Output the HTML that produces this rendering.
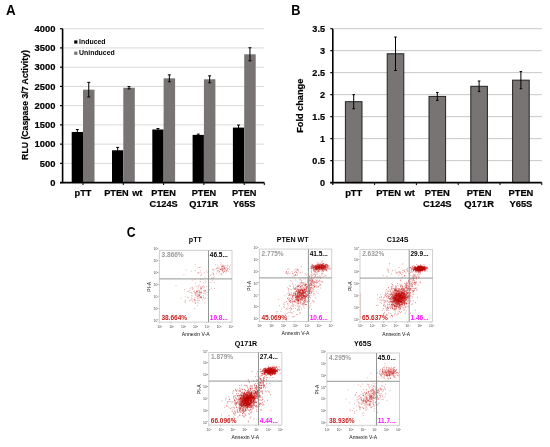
<!DOCTYPE html>
<html><head><meta charset="utf-8"><style>
html,body{margin:0;padding:0;background:#fff;}
svg{display:block;will-change:transform;filter:blur(0.3px);font-family:"Liberation Sans",sans-serif;}
</style></head><body>
<svg width="550" height="447" viewBox="0 0 550 447" font-family="Liberation Sans, sans-serif">
<rect width="550" height="447" fill="#fff"/>
<text transform="translate(6.0,14.6) scale(1,1.04)" font-size="13.4" font-weight="bold">A</text>
<line x1="63.5" y1="163.36249999999998" x2="264.3" y2="163.36249999999998" stroke="#d9d9d9" stroke-width="1"/>
<line x1="63.5" y1="144.125" x2="264.3" y2="144.125" stroke="#d9d9d9" stroke-width="1"/>
<line x1="63.5" y1="124.88749999999999" x2="264.3" y2="124.88749999999999" stroke="#d9d9d9" stroke-width="1"/>
<line x1="63.5" y1="105.64999999999999" x2="264.3" y2="105.64999999999999" stroke="#d9d9d9" stroke-width="1"/>
<line x1="63.5" y1="86.4125" x2="264.3" y2="86.4125" stroke="#d9d9d9" stroke-width="1"/>
<line x1="63.5" y1="67.17499999999998" x2="264.3" y2="67.17499999999998" stroke="#d9d9d9" stroke-width="1"/>
<line x1="63.5" y1="47.9375" x2="264.3" y2="47.9375" stroke="#d9d9d9" stroke-width="1"/>
<line x1="63.5" y1="28.69999999999999" x2="264.3" y2="28.69999999999999" stroke="#d9d9d9" stroke-width="1"/>
<line x1="60" y1="182.6" x2="62.6" y2="182.6" stroke="#000" stroke-width="1.2"/>
<text transform="translate(55.40,185.80) scale(1,1.05)" font-size="9.4" font-weight="bold" text-anchor="end" fill="#000" stroke="#000" stroke-width="0.2" >0</text>
<line x1="60" y1="163.36249999999998" x2="62.6" y2="163.36249999999998" stroke="#000" stroke-width="1.2"/>
<text transform="translate(55.40,166.56) scale(1,1.05)" font-size="9.4" font-weight="bold" text-anchor="end" fill="#000" stroke="#000" stroke-width="0.2" >500</text>
<line x1="60" y1="144.125" x2="62.6" y2="144.125" stroke="#000" stroke-width="1.2"/>
<text transform="translate(55.40,147.32) scale(1,1.05)" font-size="9.4" font-weight="bold" text-anchor="end" fill="#000" stroke="#000" stroke-width="0.2" >1000</text>
<line x1="60" y1="124.88749999999999" x2="62.6" y2="124.88749999999999" stroke="#000" stroke-width="1.2"/>
<text transform="translate(55.40,128.09) scale(1,1.05)" font-size="9.4" font-weight="bold" text-anchor="end" fill="#000" stroke="#000" stroke-width="0.2" >1500</text>
<line x1="60" y1="105.64999999999999" x2="62.6" y2="105.64999999999999" stroke="#000" stroke-width="1.2"/>
<text transform="translate(55.40,108.85) scale(1,1.05)" font-size="9.4" font-weight="bold" text-anchor="end" fill="#000" stroke="#000" stroke-width="0.2" >2000</text>
<line x1="60" y1="86.4125" x2="62.6" y2="86.4125" stroke="#000" stroke-width="1.2"/>
<text transform="translate(55.40,89.61) scale(1,1.05)" font-size="9.4" font-weight="bold" text-anchor="end" fill="#000" stroke="#000" stroke-width="0.2" >2500</text>
<line x1="60" y1="67.17499999999998" x2="62.6" y2="67.17499999999998" stroke="#000" stroke-width="1.2"/>
<text transform="translate(55.40,70.37) scale(1,1.05)" font-size="9.4" font-weight="bold" text-anchor="end" fill="#000" stroke="#000" stroke-width="0.2" >3000</text>
<line x1="60" y1="47.9375" x2="62.6" y2="47.9375" stroke="#000" stroke-width="1.2"/>
<text transform="translate(55.40,51.14) scale(1,1.05)" font-size="9.4" font-weight="bold" text-anchor="end" fill="#000" stroke="#000" stroke-width="0.2" >3500</text>
<line x1="60" y1="28.69999999999999" x2="62.6" y2="28.69999999999999" stroke="#000" stroke-width="1.2"/>
<text transform="translate(55.40,31.90) scale(1,1.05)" font-size="9.4" font-weight="bold" text-anchor="end" fill="#000" stroke="#000" stroke-width="0.2" >4000</text>
<rect x="71.70" y="132.01" width="11.30" height="50.59" fill="#000"/>
<rect x="83.00" y="89.68" width="11.50" height="92.92" fill="#787473"/>
<line x1="77.35" y1="129.5045" x2="77.35" y2="134.50625" stroke="#000" stroke-width="1"/>
<line x1="75.85" y1="129.5045" x2="78.85" y2="129.5045" stroke="#000" stroke-width="1"/>
<line x1="75.85" y1="134.50625" x2="78.85" y2="134.50625" stroke="#000" stroke-width="1"/>
<line x1="88.75" y1="82.37262499999999" x2="88.75" y2="96.99312499999999" stroke="#000" stroke-width="1"/>
<line x1="87.25" y1="82.37262499999999" x2="90.25" y2="82.37262499999999" stroke="#000" stroke-width="1"/>
<line x1="87.25" y1="96.99312499999999" x2="90.25" y2="96.99312499999999" stroke="#000" stroke-width="1"/>
<line x1="83.0" y1="182.6" x2="83.0" y2="185.1" stroke="#000" stroke-width="1"/>
<rect x="112.00" y="150.28" width="11.30" height="32.32" fill="#000"/>
<rect x="123.30" y="87.76" width="11.50" height="94.84" fill="#787473"/>
<line x1="117.64999999999999" y1="147.395375" x2="117.64999999999999" y2="153.16662499999998" stroke="#000" stroke-width="1"/>
<line x1="116.14999999999999" y1="147.395375" x2="119.14999999999999" y2="147.395375" stroke="#000" stroke-width="1"/>
<line x1="116.14999999999999" y1="153.16662499999998" x2="119.14999999999999" y2="153.16662499999998" stroke="#000" stroke-width="1"/>
<line x1="129.05" y1="86.60487499999999" x2="129.05" y2="88.91337499999999" stroke="#000" stroke-width="1"/>
<line x1="127.55000000000001" y1="86.60487499999999" x2="130.55" y2="86.60487499999999" stroke="#000" stroke-width="1"/>
<line x1="127.55000000000001" y1="88.91337499999999" x2="130.55" y2="88.91337499999999" stroke="#000" stroke-width="1"/>
<line x1="123.3" y1="182.6" x2="123.3" y2="185.1" stroke="#000" stroke-width="1"/>
<rect x="152.30" y="129.50" width="11.30" height="53.10" fill="#000"/>
<rect x="163.60" y="78.33" width="11.50" height="104.27" fill="#787473"/>
<line x1="157.95" y1="128.542625" x2="157.95" y2="130.466375" stroke="#000" stroke-width="1"/>
<line x1="156.45" y1="128.542625" x2="159.45" y2="128.542625" stroke="#000" stroke-width="1"/>
<line x1="156.45" y1="130.466375" x2="159.45" y2="130.466375" stroke="#000" stroke-width="1"/>
<line x1="169.35" y1="74.86999999999999" x2="169.35" y2="81.79549999999999" stroke="#000" stroke-width="1"/>
<line x1="167.85" y1="74.86999999999999" x2="170.85" y2="74.86999999999999" stroke="#000" stroke-width="1"/>
<line x1="167.85" y1="81.79549999999999" x2="170.85" y2="81.79549999999999" stroke="#000" stroke-width="1"/>
<line x1="163.6" y1="182.6" x2="163.6" y2="185.1" stroke="#000" stroke-width="1"/>
<rect x="192.60" y="134.89" width="11.30" height="47.71" fill="#000"/>
<rect x="203.90" y="79.29" width="11.50" height="103.31" fill="#787473"/>
<line x1="198.24999999999997" y1="134.1215" x2="198.24999999999997" y2="135.66049999999998" stroke="#000" stroke-width="1"/>
<line x1="196.74999999999997" y1="134.1215" x2="199.74999999999997" y2="134.1215" stroke="#000" stroke-width="1"/>
<line x1="196.74999999999997" y1="135.66049999999998" x2="199.74999999999997" y2="135.66049999999998" stroke="#000" stroke-width="1"/>
<line x1="209.64999999999998" y1="75.831875" x2="209.64999999999998" y2="82.75737499999998" stroke="#000" stroke-width="1"/>
<line x1="208.14999999999998" y1="75.831875" x2="211.14999999999998" y2="75.831875" stroke="#000" stroke-width="1"/>
<line x1="208.14999999999998" y1="82.75737499999998" x2="211.14999999999998" y2="82.75737499999998" stroke="#000" stroke-width="1"/>
<line x1="203.89999999999998" y1="182.6" x2="203.89999999999998" y2="185.1" stroke="#000" stroke-width="1"/>
<rect x="232.90" y="127.58" width="11.30" height="55.02" fill="#000"/>
<rect x="244.20" y="54.29" width="11.50" height="128.31" fill="#787473"/>
<line x1="238.54999999999998" y1="125.07987499999999" x2="238.54999999999998" y2="130.081625" stroke="#000" stroke-width="1"/>
<line x1="237.04999999999998" y1="125.07987499999999" x2="240.04999999999998" y2="125.07987499999999" stroke="#000" stroke-width="1"/>
<line x1="237.04999999999998" y1="130.081625" x2="240.04999999999998" y2="130.081625" stroke="#000" stroke-width="1"/>
<line x1="249.95" y1="47.745125" x2="249.95" y2="60.82662499999999" stroke="#000" stroke-width="1"/>
<line x1="248.45" y1="47.745125" x2="251.45" y2="47.745125" stroke="#000" stroke-width="1"/>
<line x1="248.45" y1="60.82662499999999" x2="251.45" y2="60.82662499999999" stroke="#000" stroke-width="1"/>
<line x1="244.2" y1="182.6" x2="244.2" y2="185.1" stroke="#000" stroke-width="1"/>
<line x1="60" y1="182.6" x2="264.3" y2="182.6" stroke="#000" stroke-width="1.6"/>
<line x1="264.3" y1="182.6" x2="264.3" y2="185.1" stroke="#000" stroke-width="1"/>
<line x1="62.6" y1="28.7" x2="62.6" y2="182.6" stroke="#000" stroke-width="1.6"/>
<text x="83.00" y="196.10" font-size="9.2" font-weight="bold" text-anchor="middle" fill="#000" stroke="#000" stroke-width="0.2" word-spacing="1">pTT</text>
<text x="123.30" y="196.10" font-size="9.2" font-weight="bold" text-anchor="middle" fill="#000" stroke="#000" stroke-width="0.2" word-spacing="1">PTEN wt</text>
<text x="163.60" y="196.10" font-size="9.2" font-weight="bold" text-anchor="middle" fill="#000" stroke="#000" stroke-width="0.2" word-spacing="1">PTEN</text>
<text x="163.60" y="206.90" font-size="9.2" font-weight="bold" text-anchor="middle" fill="#000" stroke="#000" stroke-width="0.2" >C124S</text>
<text x="203.90" y="196.10" font-size="9.2" font-weight="bold" text-anchor="middle" fill="#000" stroke="#000" stroke-width="0.2" word-spacing="1">PTEN</text>
<text x="203.90" y="206.90" font-size="9.2" font-weight="bold" text-anchor="middle" fill="#000" stroke="#000" stroke-width="0.2" >Q171R</text>
<text x="244.20" y="196.10" font-size="9.2" font-weight="bold" text-anchor="middle" fill="#000" stroke="#000" stroke-width="0.2" word-spacing="1">PTEN</text>
<text x="244.20" y="206.90" font-size="9.2" font-weight="bold" text-anchor="middle" fill="#000" stroke="#000" stroke-width="0.2" >Y65S</text>
<rect x="74.20" y="40.40" width="3.20" height="3.20" fill="#000"/>
<text x="79.10" y="43.80" font-size="6.9" font-weight="bold" text-anchor="start" fill="#000" >Induced</text>
<rect x="74.20" y="51.60" width="3.20" height="3.20" fill="#787473"/>
<text x="79.10" y="55.10" font-size="6.9" font-weight="bold" text-anchor="start" fill="#000" >Uninduced</text>
<text transform="translate(28.0,105) rotate(-90)" font-size="8.7" font-weight="bold" stroke="#000" stroke-width="0.2" text-anchor="middle">RLU (Caspase 3/7 Activity)</text>
<text transform="translate(291.3,14.7) scale(0.98,1.07)" font-size="13.0" font-weight="bold">B</text>
<line x1="333.8" y1="160.6142857142857" x2="541.8" y2="160.6142857142857" stroke="#c8c8c8" stroke-width="1"/>
<line x1="333.8" y1="138.62857142857143" x2="541.8" y2="138.62857142857143" stroke="#c8c8c8" stroke-width="1"/>
<line x1="333.8" y1="116.64285714285714" x2="541.8" y2="116.64285714285714" stroke="#c8c8c8" stroke-width="1"/>
<line x1="333.8" y1="94.65714285714284" x2="541.8" y2="94.65714285714284" stroke="#c8c8c8" stroke-width="1"/>
<line x1="333.8" y1="72.67142857142855" x2="541.8" y2="72.67142857142855" stroke="#c8c8c8" stroke-width="1"/>
<line x1="333.8" y1="50.68571428571428" x2="541.8" y2="50.68571428571428" stroke="#c8c8c8" stroke-width="1"/>
<line x1="333.8" y1="28.69999999999999" x2="541.8" y2="28.69999999999999" stroke="#c8c8c8" stroke-width="1"/>
<line x1="330.3" y1="182.6" x2="332.8" y2="182.6" stroke="#000" stroke-width="1.2"/>
<text transform="translate(325.00,185.80) scale(1,1.07)" font-size="9.1" font-weight="bold" text-anchor="end" fill="#000" stroke="#000" stroke-width="0.2" >0</text>
<line x1="330.3" y1="160.6142857142857" x2="332.8" y2="160.6142857142857" stroke="#000" stroke-width="1.2"/>
<text transform="translate(325.00,163.81) scale(1,1.07)" font-size="9.1" font-weight="bold" text-anchor="end" fill="#000" stroke="#000" stroke-width="0.2" >0.5</text>
<line x1="330.3" y1="138.62857142857143" x2="332.8" y2="138.62857142857143" stroke="#000" stroke-width="1.2"/>
<text transform="translate(325.00,141.83) scale(1,1.07)" font-size="9.1" font-weight="bold" text-anchor="end" fill="#000" stroke="#000" stroke-width="0.2" >1</text>
<line x1="330.3" y1="116.64285714285714" x2="332.8" y2="116.64285714285714" stroke="#000" stroke-width="1.2"/>
<text transform="translate(325.00,119.84) scale(1,1.07)" font-size="9.1" font-weight="bold" text-anchor="end" fill="#000" stroke="#000" stroke-width="0.2" >1.5</text>
<line x1="330.3" y1="94.65714285714284" x2="332.8" y2="94.65714285714284" stroke="#000" stroke-width="1.2"/>
<text transform="translate(325.00,97.86) scale(1,1.07)" font-size="9.1" font-weight="bold" text-anchor="end" fill="#000" stroke="#000" stroke-width="0.2" >2</text>
<line x1="330.3" y1="72.67142857142855" x2="332.8" y2="72.67142857142855" stroke="#000" stroke-width="1.2"/>
<text transform="translate(325.00,75.87) scale(1,1.07)" font-size="9.1" font-weight="bold" text-anchor="end" fill="#000" stroke="#000" stroke-width="0.2" >2.5</text>
<line x1="330.3" y1="50.68571428571428" x2="332.8" y2="50.68571428571428" stroke="#000" stroke-width="1.2"/>
<text transform="translate(325.00,53.89) scale(1,1.07)" font-size="9.1" font-weight="bold" text-anchor="end" fill="#000" stroke="#000" stroke-width="0.2" >3</text>
<line x1="330.3" y1="28.69999999999999" x2="332.8" y2="28.69999999999999" stroke="#000" stroke-width="1.2"/>
<text transform="translate(325.00,31.90) scale(1,1.07)" font-size="9.1" font-weight="bold" text-anchor="end" fill="#000" stroke="#000" stroke-width="0.2" >3.5</text>
<rect x="345.40" y="101.69" width="16.60" height="80.91" fill="#787473" stroke="#222" stroke-width="1"/>
<line x1="353.7" y1="94.65714285714284" x2="353.7" y2="108.72799999999998" stroke="#000" stroke-width="1"/>
<line x1="352.4" y1="94.65714285714284" x2="355.0" y2="94.65714285714284" stroke="#000" stroke-width="1"/>
<line x1="352.4" y1="108.72799999999998" x2="355.0" y2="108.72799999999998" stroke="#000" stroke-width="1"/>
<line x1="374.6" y1="182.6" x2="374.6" y2="185.1" stroke="#000" stroke-width="1"/>
<text x="353.70" y="196.20" font-size="9.35" font-weight="bold" text-anchor="middle" fill="#000" stroke="#000" stroke-width="0.2" word-spacing="0.8">pTT</text>
<rect x="387.20" y="53.76" width="16.60" height="128.84" fill="#787473" stroke="#222" stroke-width="1"/>
<line x1="395.5" y1="37.05457142857142" x2="395.5" y2="70.47285714285712" stroke="#000" stroke-width="1"/>
<line x1="394.2" y1="37.05457142857142" x2="396.8" y2="37.05457142857142" stroke="#000" stroke-width="1"/>
<line x1="394.2" y1="70.47285714285712" x2="396.8" y2="70.47285714285712" stroke="#000" stroke-width="1"/>
<line x1="416.4" y1="182.6" x2="416.4" y2="185.1" stroke="#000" stroke-width="1"/>
<text x="395.50" y="196.20" font-size="9.35" font-weight="bold" text-anchor="middle" fill="#000" stroke="#000" stroke-width="0.2" word-spacing="0.8">PTEN wt</text>
<rect x="429.00" y="96.42" width="16.60" height="86.18" fill="#787473" stroke="#222" stroke-width="1"/>
<line x1="437.29999999999995" y1="92.45857142857142" x2="437.29999999999995" y2="100.37342857142856" stroke="#000" stroke-width="1"/>
<line x1="435.99999999999994" y1="92.45857142857142" x2="438.59999999999997" y2="92.45857142857142" stroke="#000" stroke-width="1"/>
<line x1="435.99999999999994" y1="100.37342857142856" x2="438.59999999999997" y2="100.37342857142856" stroke="#000" stroke-width="1"/>
<line x1="458.2" y1="182.6" x2="458.2" y2="185.1" stroke="#000" stroke-width="1"/>
<text x="437.30" y="196.20" font-size="9.35" font-weight="bold" text-anchor="middle" fill="#000" stroke="#000" stroke-width="0.2" word-spacing="0.8">PTEN</text>
<text x="437.30" y="206.90" font-size="9.35" font-weight="bold" text-anchor="middle" fill="#000" stroke="#000" stroke-width="0.2" >C124S</text>
<rect x="470.80" y="86.30" width="16.60" height="96.30" fill="#787473" stroke="#222" stroke-width="1"/>
<line x1="479.09999999999997" y1="81.02599999999998" x2="479.09999999999997" y2="91.57914285714286" stroke="#000" stroke-width="1"/>
<line x1="477.79999999999995" y1="81.02599999999998" x2="480.4" y2="81.02599999999998" stroke="#000" stroke-width="1"/>
<line x1="477.79999999999995" y1="91.57914285714286" x2="480.4" y2="91.57914285714286" stroke="#000" stroke-width="1"/>
<line x1="500.0" y1="182.6" x2="500.0" y2="185.1" stroke="#000" stroke-width="1"/>
<text x="479.10" y="196.20" font-size="9.35" font-weight="bold" text-anchor="middle" fill="#000" stroke="#000" stroke-width="0.2" word-spacing="0.8">PTEN</text>
<text x="479.10" y="206.90" font-size="9.35" font-weight="bold" text-anchor="middle" fill="#000" stroke="#000" stroke-width="0.2" >Q171R</text>
<rect x="512.60" y="80.15" width="16.60" height="102.45" fill="#787473" stroke="#222" stroke-width="1"/>
<line x1="520.9" y1="71.57214285714285" x2="520.9" y2="88.72099999999998" stroke="#000" stroke-width="1"/>
<line x1="519.6" y1="71.57214285714285" x2="522.1999999999999" y2="71.57214285714285" stroke="#000" stroke-width="1"/>
<line x1="519.6" y1="88.72099999999998" x2="522.1999999999999" y2="88.72099999999998" stroke="#000" stroke-width="1"/>
<line x1="541.8" y1="182.6" x2="541.8" y2="185.1" stroke="#000" stroke-width="1"/>
<text x="520.90" y="196.20" font-size="9.35" font-weight="bold" text-anchor="middle" fill="#000" stroke="#000" stroke-width="0.2" word-spacing="0.8">PTEN</text>
<text x="520.90" y="206.90" font-size="9.35" font-weight="bold" text-anchor="middle" fill="#000" stroke="#000" stroke-width="0.2" >Y65S</text>
<line x1="330.3" y1="182.6" x2="541.8" y2="182.6" stroke="#000" stroke-width="1.6"/>
<line x1="332.8" y1="182.6" x2="332.8" y2="185.1" stroke="#000" stroke-width="1.2"/>
<line x1="332.8" y1="28.7" x2="332.8" y2="182.6" stroke="#000" stroke-width="1.6"/>
<text transform="translate(303.4,105.8) rotate(-90)" font-size="9.2" font-weight="bold" stroke="#000" stroke-width="0.2" text-anchor="middle">Fold change</text>
<text transform="translate(126.8,236.6) scale(0.94,1.07)" font-size="13.0" font-weight="bold">C</text>
<text x="195.30" y="242.40" font-size="7.1" font-weight="bold" text-anchor="middle" fill="#000" >pTT</text>
<path d="M199.4 296.4h.8M197.1 291.6h.8M197.6 290.4h.8M202.3 299.8h.8M198.9 291.4h.8M197.3 298.8h.8M195.2 293.2h.8M200.7 297.5h.8M203.3 287.9h.8M203.4 282.9h.8M206.3 286.3h.8M205.1 290.5h.8M197.2 295.7h.8M208.5 282.3h.8M199.1 295.6h.8M204.1 287.0h.8M200.6 288.6h.8M191.2 297.9h.8M201.3 298.0h.8M200.8 292.5h.8M198.2 296.2h.8M204.4 290.1h.8M187.6 297.1h.8M194.9 299.8h.8M207.5 298.6h.8M191.4 295.4h.8M199.9 297.6h.8M201.4 296.7h.8M200.8 297.2h.8M189.8 300.1h.8M196.2 295.0h.8M194.3 292.5h.8M200.6 292.2h.8M197.8 303.1h.8M202.2 287.0h.8M189.5 292.5h.8M200.3 293.1h.8M194.8 303.4h.8M198.9 292.9h.8M204.2 298.9h.8M199.6 292.6h.8M196.5 296.8h.8M196.1 291.2h.8M197.2 294.1h.8M195.1 302.8h.8M200.6 297.4h.8M203.2 297.1h.8M200.3 297.2h.8M205.5 290.6h.8M200.1 281.6h.8M197.2 291.4h.8M204.5 303.0h.8M200.4 289.8h.8M199.0 297.9h.8M198.7 294.1h.8M196.8 300.3h.8M203.0 290.5h.8M195.2 292.5h.8M194.7 294.1h.8M194.6 300.6h.8M196.3 294.1h.8M193.0 288.9h.8M204.8 291.4h.8M210.8 288.3h.8M208.8 289.7h.8M204.7 294.0h.8M193.3 291.5h.8M197.1 305.6h.8M198.0 294.4h.8M196.3 291.8h.8M191.8 298.9h.8M196.3 292.9h.8M197.5 288.8h.8M192.3 300.8h.8M194.1 300.0h.8M200.7 291.3h.8M201.1 292.9h.8M199.3 292.9h.8M202.4 286.7h.8M188.9 301.1h.8M204.4 291.7h.8M187.6 297.6h.8M197.6 292.6h.8M208.8 289.6h.8M198.8 295.6h.8M203.3 293.4h.8M200.6 292.6h.8M199.9 286.7h.8M190.8 300.1h.8M197.1 296.7h.8M199.0 291.9h.8M194.7 297.5h.8M199.3 294.9h.8M195.1 303.0h.8M195.0 295.6h.8M207.7 292.0h.8M193.6 299.5h.8M198.4 300.3h.8M197.5 302.1h.8M205.2 298.0h.8M206.8 292.4h.8M198.9 300.4h.8M194.3 308.6h.8M198.7 285.1h.8M191.7 296.2h.8M201.1 298.0h.8M199.7 281.6h.8M197.4 296.8h.8M199.7 294.5h.8M197.9 287.0h.8M196.3 291.8h.8M207.6 289.5h.8M200.0 296.4h.8M201.1 289.0h.8M200.4 288.2h.8M195.2 294.0h.8M197.9 298.2h.8M185.0 300.6h.8M194.1 299.3h.8M194.2 291.1h.8M202.9 295.6h.8M199.1 295.4h.8M203.3 297.6h.8M192.0 288.8h.8M195.8 286.4h.8M211.9 278.9h.8M192.5 301.8h.8M201.1 287.3h.8M193.8 301.2h.8M198.1 295.6h.8M222.6 271.0h.8M220.4 269.8h.8M226.9 269.9h.8M225.6 271.4h.8M227.6 268.3h.8M222.3 266.0h.8M216.0 273.2h.8M224.6 270.8h.8M220.5 263.0h.8M221.6 269.0h.8M222.0 266.6h.8M223.6 268.6h.8M217.9 270.3h.8M223.0 272.7h.8M224.7 268.0h.8M230.2 272.1h.8M219.0 271.6h.8M220.0 269.6h.8M221.7 268.6h.8M223.4 269.2h.8M216.7 271.0h.8M222.7 267.7h.8M225.5 272.7h.8M220.6 269.4h.8M223.7 266.3h.8M223.1 271.1h.8M224.1 268.4h.8M223.5 269.3h.8M228.9 268.0h.8M226.2 270.9h.8M225.8 270.2h.8M216.4 268.9h.8M225.0 269.3h.8M222.4 266.7h.8M221.2 274.1h.8M223.6 268.5h.8M226.8 269.5h.8M227.3 266.0h.8M217.3 267.4h.8M218.6 273.1h.8M221.7 270.5h.8M214.8 269.4h.8M224.7 265.7h.8M222.8 272.6h.8M218.6 267.2h.8M225.9 267.6h.8M221.4 268.7h.8M221.8 269.9h.8M223.8 268.9h.8M221.8 269.0h.8M221.0 273.7h.8M220.2 269.5h.8M229.4 269.4h.8M230.1 265.0h.8M219.3 271.1h.8M222.8 265.0h.8M223.9 267.4h.8M220.6 274.7h.8M221.6 267.3h.8M227.3 268.5h.8M223.1 266.3h.8M221.9 266.4h.8M218.4 272.0h.8M218.2 268.4h.8M220.5 269.0h.8M224.1 268.2h.8M227.5 265.2h.8M219.4 268.9h.8M222.0 271.6h.8M229.3 266.6h.8M222.0 270.1h.8M224.3 271.4h.8M221.5 266.3h.8M226.5 270.7h.8M220.3 264.8h.8M217.3 271.0h.8M217.2 268.7h.8M223.5 266.3h.8M212.4 269.6h.8M216.1 268.2h.8M221.6 265.2h.8M224.3 271.3h.8M227.8 271.2h.8M221.0 266.7h.8M224.5 267.8h.8M197.7 286.0h.8M204.7 281.3h.8M201.4 274.9h.8M204.7 293.0h.8M211.5 277.5h.8M200.1 279.3h.8M191.0 292.9h.8M184.9 296.4h.8M196.0 290.8h.8M208.6 286.2h.8M204.1 290.8h.8M195.0 283.3h.8M201.0 288.5h.8M188.3 291.7h.8M191.8 280.2h.8M189.8 288.6h.8M213.3 275.1h.8M184.2 289.8h.8M204.5 277.1h.8M210.4 282.4h.8M202.5 279.4h.8M191.9 289.7h.8M192.0 287.5h.8M200.1 270.8h.8M184.4 301.4h.8M198.0 290.7h.8M199.0 290.4h.8M180.5 298.2h.8M206.7 272.3h.8M213.7 282.6h.8M189.1 290.4h.8M208.7 276.8h.8M175.6 285.6h.8M190.7 287.7h.8M186.9 291.5h.8M194.7 279.4h.8M214.2 288.5h.8M191.8 293.2h.8M197.2 273.1h.8M202.8 285.9h.8M200.2 287.9h.8M208.1 280.2h.8M206.7 295.1h.8M185.3 302.4h.8M205.4 282.9h.8M213.1 270.5h.8M210.8 274.5h.8M212.2 280.7h.8M212.8 277.8h.8M212.7 269.3h.8M212.8 273.6h.8M213.4 277.9h.8M217.5 265.2h.8M215.3 264.7h.8M208.1 271.7h.8M214.3 276.9h.8M213.0 274.3h.8M211.8 272.1h.8M212.9 273.3h.8M209.9 275.6h.8M197.9 272.4h.8M194.9 270.7h.8M200.4 267.0h.8M199.7 272.7h.8M198.3 273.1h.8M190.8 271.2h.8M201.1 273.3h.8M197.7 267.5h.8M200.3 275.5h.8M204.1 272.7h.8M183.5 274.8h.8M194.8 264.4h.8M199.0 267.5h.8M185.6 270.1h.8M206.2 270.9h.8" stroke="#c00808" stroke-opacity="0.4" stroke-width="0.9" fill="none"/>
<rect x="159.4" y="250.4" width="72.6" height="71.70000000000002" fill="none" stroke="#d0d0d0" stroke-width="1"/>
<line x1="208.5" y1="250.4" x2="208.5" y2="322.1" stroke="#858c8a" stroke-width="0.9"/>
<line x1="159.4" y1="278.9" x2="232.0" y2="278.9" stroke="#858c8a" stroke-width="0.9"/>
<text x="161.60" y="256.90" font-size="6.5" font-weight="bold" text-anchor="start" fill="#9a9a9a" >3.866%</text>
<text x="209.80" y="256.90" font-size="6.5" font-weight="bold" text-anchor="start" fill="#000" >46.5...</text>
<text x="161.40" y="320.20" font-size="6.5" font-weight="bold" text-anchor="start" fill="#cc2020" >38.664%</text>
<text x="209.80" y="320.20" font-size="6.5" font-weight="bold" text-anchor="start" fill="#ff10ff" >10.8...</text>
<text x="158.5" y="250.4" font-size="3.4" fill="#444" text-anchor="end">10<tspan font-size="2.2" dy="-1.2">0</tspan></text>
<text x="157.3" y="327.7" font-size="3.4" fill="#444">10<tspan font-size="2.2" dy="-1.2">0</tspan></text>
<line x1="159.20000000000002" y1="322.1" x2="159.20000000000002" y2="323.3" stroke="#aaa" stroke-width="0.6"/>
<text x="158.5" y="262.2" font-size="3.4" fill="#444" text-anchor="end">10<tspan font-size="2.2" dy="-1.2">1</tspan></text>
<text x="169.2" y="327.7" font-size="3.4" fill="#444">10<tspan font-size="2.2" dy="-1.2">1</tspan></text>
<line x1="171.07000000000002" y1="322.1" x2="171.07000000000002" y2="323.3" stroke="#aaa" stroke-width="0.6"/>
<text x="158.5" y="274.1" font-size="3.4" fill="#444" text-anchor="end">10<tspan font-size="2.2" dy="-1.2">2</tspan></text>
<text x="181.0" y="327.7" font-size="3.4" fill="#444">10<tspan font-size="2.2" dy="-1.2">2</tspan></text>
<line x1="182.94000000000003" y1="322.1" x2="182.94000000000003" y2="323.3" stroke="#aaa" stroke-width="0.6"/>
<text x="158.5" y="285.9" font-size="3.4" fill="#444" text-anchor="end">10<tspan font-size="2.2" dy="-1.2">3</tspan></text>
<text x="192.9" y="327.7" font-size="3.4" fill="#444">10<tspan font-size="2.2" dy="-1.2">3</tspan></text>
<line x1="194.81" y1="322.1" x2="194.81" y2="323.3" stroke="#aaa" stroke-width="0.6"/>
<text x="158.5" y="297.8" font-size="3.4" fill="#444" text-anchor="end">10<tspan font-size="2.2" dy="-1.2">4</tspan></text>
<text x="204.8" y="327.7" font-size="3.4" fill="#444">10<tspan font-size="2.2" dy="-1.2">4</tspan></text>
<line x1="206.68" y1="322.1" x2="206.68" y2="323.3" stroke="#aaa" stroke-width="0.6"/>
<text x="158.5" y="309.7" font-size="3.4" fill="#444" text-anchor="end">10<tspan font-size="2.2" dy="-1.2">5</tspan></text>
<text x="216.7" y="327.7" font-size="3.4" fill="#444">10<tspan font-size="2.2" dy="-1.2">5</tspan></text>
<line x1="218.55" y1="322.1" x2="218.55" y2="323.3" stroke="#aaa" stroke-width="0.6"/>
<text x="158.5" y="321.5" font-size="3.4" fill="#444" text-anchor="end">10<tspan font-size="2.2" dy="-1.2">6</tspan></text>
<text x="228.5" y="327.7" font-size="3.4" fill="#444">10<tspan font-size="2.2" dy="-1.2">6</tspan></text>
<line x1="230.42000000000002" y1="322.1" x2="230.42000000000002" y2="323.3" stroke="#aaa" stroke-width="0.6"/>
<text transform="translate(151.1,286.8) rotate(-90)" font-size="5" text-anchor="middle" fill="#111">PI-A</text>
<text x="195.7" y="335.9" font-size="5.05" text-anchor="middle" fill="#111">Annexin V-A</text>
<text x="292.70" y="241.80" font-size="7.1" font-weight="bold" text-anchor="middle" fill="#000" >PTEN WT</text>
<path d="M304.8 300.1h.8M294.8 299.9h.8M298.5 290.0h.8M304.7 292.9h.8M299.8 296.1h.8M295.2 295.9h.8M303.2 296.1h.8M301.7 299.4h.8M298.7 294.9h.8M296.9 292.9h.8M308.7 289.8h.8M302.0 294.9h.8M306.3 287.0h.8M300.9 289.7h.8M308.5 285.0h.8M298.7 298.7h.8M303.2 292.0h.8M290.7 289.6h.8M302.9 295.3h.8M303.1 301.5h.8M297.6 299.4h.8M302.0 297.6h.8M302.9 292.2h.8M303.0 303.0h.8M301.5 293.6h.8M303.9 298.7h.8M305.1 298.2h.8M304.1 290.2h.8M303.9 295.7h.8M293.0 294.1h.8M305.3 291.8h.8M299.3 287.7h.8M298.5 299.5h.8M297.9 294.8h.8M296.5 297.5h.8M294.5 295.9h.8M304.7 291.7h.8M305.4 293.5h.8M297.5 292.8h.8M299.8 293.6h.8M295.9 296.0h.8M305.9 296.0h.8M298.1 308.0h.8M301.4 295.1h.8M295.0 299.6h.8M304.9 291.0h.8M297.1 293.7h.8M303.2 284.3h.8M296.5 294.7h.8M302.1 294.4h.8M297.8 295.7h.8M296.7 293.7h.8M299.6 290.2h.8M296.7 298.4h.8M302.8 290.6h.8M303.7 295.4h.8M304.1 285.6h.8M309.3 299.8h.8M297.2 297.5h.8M304.0 302.5h.8M300.9 292.4h.8M297.9 300.1h.8M297.1 295.4h.8M298.5 306.1h.8M300.8 298.3h.8M310.3 288.5h.8M302.9 294.8h.8M297.5 295.9h.8M308.3 289.0h.8M302.9 290.7h.8M302.3 291.1h.8M312.9 289.0h.8M303.1 298.3h.8M293.7 301.7h.8M305.3 285.2h.8M304.1 288.5h.8M295.3 289.1h.8M295.6 291.5h.8M299.6 295.1h.8M302.0 292.9h.8M301.3 290.6h.8M307.2 288.0h.8M299.5 306.5h.8M298.0 301.1h.8M307.4 295.7h.8M301.0 293.9h.8M302.3 293.5h.8M302.4 292.5h.8M304.0 289.3h.8M292.4 302.6h.8M303.3 294.9h.8M295.3 293.9h.8M304.3 296.0h.8M300.3 295.6h.8M293.4 298.2h.8M299.3 293.2h.8M290.2 294.5h.8M302.0 290.4h.8M300.2 298.4h.8M291.5 295.2h.8M297.4 296.3h.8M304.9 293.3h.8M298.8 285.2h.8M298.3 288.9h.8M304.4 292.9h.8M304.2 299.8h.8M297.6 289.4h.8M301.3 289.0h.8M306.7 291.0h.8M298.0 286.5h.8M298.1 296.6h.8M300.0 295.9h.8M298.8 296.7h.8M297.6 300.0h.8M300.7 296.9h.8M306.0 288.4h.8M302.5 293.9h.8M310.5 293.7h.8M297.3 291.4h.8M306.6 287.2h.8M299.4 292.0h.8M298.9 292.9h.8M297.0 294.4h.8M303.8 296.8h.8M288.7 301.1h.8M300.4 290.3h.8M295.0 294.1h.8M302.7 292.4h.8M302.0 288.1h.8M297.0 286.8h.8M305.2 287.8h.8M299.9 294.3h.8M306.3 286.5h.8M299.6 298.8h.8M298.9 291.6h.8M297.1 295.1h.8M303.2 287.8h.8M296.2 300.3h.8M295.4 297.3h.8M295.9 296.1h.8M308.4 300.5h.8M296.8 295.8h.8M302.2 294.9h.8M295.2 297.5h.8M306.7 287.1h.8M301.2 294.7h.8M297.0 300.0h.8M295.0 294.3h.8M303.5 303.2h.8M298.8 297.9h.8M305.3 299.7h.8M304.1 290.6h.8M301.3 298.0h.8M303.5 293.5h.8M302.4 293.6h.8M298.4 290.7h.8M303.5 296.6h.8M303.9 290.1h.8M295.6 293.9h.8M297.4 292.1h.8M303.1 304.8h.8M292.9 301.2h.8M298.6 297.4h.8M304.8 298.9h.8M308.8 292.3h.8M305.0 298.0h.8M298.5 293.2h.8M302.0 297.3h.8M302.2 295.8h.8M297.1 286.6h.8M299.6 299.5h.8M300.6 295.0h.8M295.9 296.9h.8M303.1 291.2h.8M292.8 294.9h.8M294.8 297.0h.8M308.5 293.6h.8M297.8 290.4h.8M304.9 295.5h.8M295.4 297.6h.8M301.4 297.8h.8M304.4 292.9h.8M299.7 292.7h.8M303.0 292.7h.8M299.4 292.9h.8M305.6 295.8h.8M302.6 297.5h.8M298.1 300.4h.8M290.3 300.5h.8M297.1 296.4h.8M298.7 305.8h.8M305.6 284.4h.8M300.7 298.9h.8M298.1 296.8h.8M301.1 297.8h.8M304.1 296.8h.8M311.1 287.6h.8M307.4 293.1h.8M299.4 291.0h.8M297.1 293.2h.8M300.1 286.6h.8M302.5 295.6h.8M296.8 297.7h.8M297.2 298.2h.8M302.9 295.5h.8M296.1 297.3h.8M301.5 293.0h.8M298.2 292.2h.8M296.1 297.0h.8M297.0 293.8h.8M300.7 296.7h.8M308.1 298.2h.8M304.5 300.5h.8M295.6 296.1h.8M303.6 294.1h.8M300.9 294.7h.8M297.1 288.3h.8M295.8 287.4h.8M297.6 293.7h.8M303.1 291.0h.8M296.1 291.4h.8M304.6 284.9h.8M305.9 284.1h.8M292.2 297.3h.8M294.9 293.0h.8M299.0 294.5h.8M302.8 295.6h.8M295.0 301.3h.8M297.9 292.1h.8M298.2 295.8h.8M297.8 297.3h.8M289.1 295.4h.8M304.5 295.6h.8M300.1 290.8h.8M298.2 289.6h.8M307.2 301.4h.8M293.7 295.5h.8M303.1 290.0h.8M295.0 295.8h.8M306.0 294.1h.8M296.8 296.5h.8M300.9 285.9h.8M297.5 285.6h.8M296.5 295.4h.8M304.3 301.2h.8M293.5 295.5h.8M300.9 300.7h.8M301.2 288.9h.8M297.0 289.5h.8M289.0 293.2h.8M304.4 289.5h.8M302.3 293.9h.8M299.4 294.7h.8M291.0 292.7h.8M299.1 292.4h.8M301.1 295.4h.8M302.6 289.2h.8M299.0 298.2h.8M309.1 297.3h.8M288.5 298.9h.8M306.7 302.2h.8M298.7 297.8h.8M300.3 292.1h.8M300.3 292.0h.8M297.2 296.0h.8M299.4 289.4h.8M298.8 291.7h.8M304.5 296.5h.8M301.0 297.0h.8M299.8 295.8h.8M300.6 293.0h.8M295.2 294.2h.8M296.1 299.4h.8M302.4 290.2h.8M303.9 292.2h.8M306.8 294.7h.8M297.7 285.2h.8M298.2 286.1h.8M304.0 297.0h.8M295.0 293.1h.8M308.7 296.3h.8M299.8 295.5h.8M303.8 304.9h.8M296.6 299.5h.8M301.4 297.3h.8M300.4 289.1h.8M298.2 291.9h.8M301.5 294.3h.8M290.0 300.7h.8M301.0 293.4h.8M302.2 298.8h.8M300.6 290.2h.8M304.6 285.7h.8M299.1 296.4h.8M303.8 289.5h.8M302.3 295.8h.8M302.5 291.4h.8M304.6 284.4h.8M289.0 294.3h.8M302.8 293.6h.8M300.2 290.7h.8M301.2 294.1h.8M296.2 288.9h.8M299.2 291.4h.8M303.6 292.9h.8M301.1 299.1h.8M305.4 295.0h.8M299.7 301.7h.8M295.4 299.1h.8M303.9 295.9h.8M306.6 289.8h.8M302.0 291.3h.8M305.0 285.4h.8M303.5 296.6h.8M297.1 297.8h.8M299.4 291.3h.8M298.8 295.1h.8M303.5 301.3h.8M297.0 290.1h.8M300.2 287.1h.8M309.0 293.4h.8M296.0 291.0h.8M302.0 300.2h.8M300.5 291.1h.8M303.0 293.8h.8M301.8 299.9h.8M299.7 302.0h.8M297.7 301.2h.8M306.3 288.3h.8M298.8 294.4h.8M296.6 296.7h.8M308.4 294.8h.8M299.1 297.4h.8M300.5 300.6h.8M293.0 288.9h.8M302.3 290.6h.8M305.2 291.2h.8M295.3 297.4h.8M310.7 295.6h.8M299.3 289.3h.8M301.3 296.3h.8M305.8 293.8h.8M300.3 290.0h.8M302.4 297.1h.8M304.3 292.8h.8M309.0 301.6h.8M307.4 295.4h.8M300.8 293.8h.8M300.8 299.4h.8M297.2 299.9h.8M301.8 290.6h.8M300.7 297.8h.8M297.0 300.6h.8M301.2 302.4h.8M296.3 290.9h.8M301.5 286.0h.8M292.8 297.9h.8M298.0 300.5h.8M297.4 303.4h.8M300.8 293.4h.8M301.2 295.1h.8M302.9 292.2h.8M290.4 295.6h.8M297.6 292.8h.8M302.6 297.3h.8M303.3 296.2h.8M309.9 291.4h.8M304.9 293.8h.8M293.3 287.9h.8M304.4 292.1h.8M296.0 300.8h.8M296.2 291.4h.8M300.6 304.5h.8M300.3 293.8h.8M309.4 290.7h.8M292.9 306.3h.8M297.8 300.5h.8M308.3 294.3h.8M305.0 289.1h.8M302.4 297.7h.8M298.2 301.7h.8M297.6 286.0h.8M295.2 294.5h.8M301.2 282.0h.8M293.2 285.7h.8M299.7 280.2h.8M299.8 300.0h.8M279.0 305.7h.8M307.7 295.8h.8M298.8 294.0h.8M286.5 308.3h.8M300.0 283.0h.8M298.3 300.8h.8M303.0 282.7h.8M298.4 303.4h.8M306.1 294.8h.8M286.7 293.8h.8M303.0 296.4h.8M292.3 283.9h.8M304.4 298.0h.8M278.3 299.6h.8M276.9 311.7h.8M298.9 309.2h.8M293.5 304.9h.8M309.4 291.0h.8M291.4 281.2h.8M283.0 306.7h.8M297.3 314.5h.8M289.0 308.4h.8M305.8 287.3h.8M304.8 273.6h.8M293.6 293.6h.8M299.5 295.3h.8M293.0 316.7h.8M305.1 301.7h.8M302.3 289.8h.8M287.2 298.6h.8M294.4 289.4h.8M306.1 304.7h.8M304.9 292.4h.8M299.2 285.6h.8M313.9 293.9h.8M286.3 316.5h.8M307.0 294.6h.8M305.0 297.9h.8M298.5 300.3h.8M292.3 299.1h.8M293.3 286.9h.8M294.9 287.8h.8M295.3 291.9h.8M300.5 299.6h.8M304.1 283.1h.8M308.6 293.1h.8M292.2 313.2h.8M308.3 300.5h.8M315.9 292.0h.8M289.7 280.6h.8M306.4 290.1h.8M300.9 295.8h.8M305.2 283.2h.8M297.1 301.4h.8M291.7 306.2h.8M280.6 311.4h.8M288.1 291.0h.8M313.4 293.2h.8M307.6 292.2h.8M294.3 292.2h.8M298.7 292.3h.8M305.7 296.5h.8M292.1 299.4h.8M306.1 291.4h.8M304.6 300.5h.8M286.1 320.2h.8M298.4 296.0h.8M300.1 286.9h.8M303.5 287.9h.8M305.3 296.9h.8M300.6 293.2h.8M314.7 294.8h.8M304.4 308.2h.8M301.1 309.1h.8M304.0 298.1h.8M275.8 312.0h.8M299.7 312.8h.8M300.0 303.3h.8M287.6 303.7h.8M292.0 296.4h.8M300.4 289.3h.8M300.7 296.5h.8M289.0 294.4h.8M291.8 316.9h.8M292.5 301.0h.8M302.3 298.7h.8M288.0 293.0h.8M308.6 315.0h.8M316.0 287.2h.8M296.0 299.3h.8M284.2 302.4h.8M305.2 304.5h.8M298.2 293.7h.8M296.0 296.0h.8M284.4 304.9h.8M287.1 298.3h.8M294.1 301.7h.8M315.9 277.3h.8M303.8 287.0h.8M283.4 304.0h.8M313.1 295.1h.8M305.9 304.5h.8M292.5 295.7h.8M305.5 301.7h.8M292.8 304.2h.8M298.1 296.9h.8M312.4 300.8h.8M293.3 292.2h.8M305.7 296.5h.8M294.1 301.3h.8M303.5 292.0h.8M303.5 278.7h.8M291.4 301.0h.8M302.6 305.1h.8M294.8 302.0h.8M288.4 316.1h.8M305.0 297.4h.8M292.1 296.5h.8M297.7 296.9h.8M311.0 281.3h.8M298.7 293.0h.8M308.0 282.9h.8M299.8 297.1h.8M309.6 291.0h.8M305.9 286.8h.8M287.0 304.0h.8M307.7 297.7h.8M300.0 292.8h.8M302.8 303.2h.8M309.3 276.7h.8M300.2 284.7h.8M300.4 286.9h.8M292.6 295.5h.8M300.2 299.6h.8M304.4 292.0h.8M289.9 310.8h.8M302.8 291.9h.8M306.3 291.2h.8M289.3 300.1h.8M305.9 300.1h.8M303.2 294.0h.8M301.6 285.8h.8M312.9 302.2h.8M299.0 291.8h.8M301.8 292.1h.8M295.7 302.7h.8M286.9 313.1h.8M291.1 308.9h.8M288.2 295.5h.8M299.5 295.8h.8M290.1 286.3h.8M291.5 301.9h.8M300.6 292.7h.8M302.4 297.0h.8M302.6 283.7h.8M297.9 299.8h.8M298.6 291.8h.8M304.0 290.6h.8M286.4 301.4h.8M293.4 311.8h.8M305.7 296.9h.8M300.0 278.9h.8M305.2 285.7h.8M298.6 292.4h.8M288.0 288.9h.8M289.0 294.8h.8M301.2 290.4h.8M299.7 282.7h.8M305.4 289.5h.8M298.0 303.7h.8M301.5 286.3h.8M307.0 292.0h.8M318.0 287.0h.8M298.3 290.1h.8M301.8 303.8h.8M301.9 303.9h.8M304.1 303.1h.8M290.6 305.8h.8M290.6 308.4h.8M294.0 293.8h.8M304.6 298.1h.8M310.5 290.0h.8M298.1 300.7h.8M312.6 280.2h.8M291.2 298.6h.8M286.9 287.8h.8M291.5 299.2h.8M284.5 295.8h.8M293.4 301.1h.8M289.4 299.1h.8M313.8 301.7h.8M300.9 287.9h.8M295.8 290.7h.8M299.7 313.0h.8M295.1 284.6h.8M296.9 310.3h.8M299.4 307.9h.8M303.7 289.9h.8M301.0 280.8h.8M289.5 301.5h.8M284.8 314.2h.8M306.9 295.6h.8M289.9 312.4h.8M308.6 289.5h.8M287.8 305.2h.8M308.8 295.5h.8M292.8 293.5h.8M297.8 291.0h.8M297.6 299.7h.8M295.1 308.5h.8M310.9 287.1h.8M295.5 305.5h.8M289.8 302.4h.8M309.6 293.8h.8M295.4 280.1h.8M289.0 301.6h.8M294.2 288.9h.8M301.9 282.4h.8M303.1 295.9h.8M317.3 283.1h.8M301.4 283.8h.8M294.3 301.7h.8M317.7 293.3h.8M305.7 291.6h.8M304.5 304.3h.8M306.8 297.8h.8M309.2 296.2h.8M302.1 289.8h.8M288.4 312.4h.8M309.1 307.1h.8M292.8 296.3h.8M288.6 297.5h.8M297.6 310.4h.8M299.6 290.1h.8M297.9 298.4h.8M308.0 292.1h.8M309.9 280.1h.8M300.3 292.9h.8M291.1 294.2h.8M294.4 300.6h.8M296.5 286.5h.8M308.3 289.7h.8M305.5 290.1h.8M297.2 309.2h.8M287.6 307.3h.8M310.9 293.2h.8M302.5 304.0h.8M304.7 302.0h.8M297.1 306.3h.8M297.7 302.4h.8M298.6 299.7h.8M290.2 302.2h.8M287.4 309.4h.8M292.3 303.9h.8M310.4 303.6h.8M294.8 289.4h.8M302.0 290.4h.8M286.3 313.8h.8M288.2 299.8h.8M300.0 302.4h.8M284.1 307.5h.8M296.6 302.7h.8M305.4 289.3h.8M289.4 285.4h.8M297.8 303.7h.8M295.3 288.2h.8M290.9 309.1h.8M299.3 310.4h.8M306.2 296.5h.8M300.2 295.0h.8M299.5 296.4h.8M292.5 305.8h.8M298.6 294.7h.8M292.5 295.8h.8M302.0 293.1h.8M302.0 292.3h.8M312.6 300.8h.8M292.7 308.7h.8M309.9 305.7h.8M296.5 299.0h.8M298.5 300.5h.8M289.9 307.4h.8M281.4 308.9h.8M289.7 298.0h.8M285.8 309.1h.8M303.8 300.4h.8M285.6 301.7h.8M294.5 288.6h.8M297.6 297.6h.8M297.9 291.6h.8M297.9 291.0h.8M303.0 307.2h.8M310.7 282.2h.8M304.0 295.9h.8M304.4 289.3h.8M309.0 292.2h.8M297.6 297.1h.8M295.4 298.7h.8M311.8 288.0h.8M296.4 298.5h.8M298.6 309.4h.8M302.2 285.7h.8M296.0 314.4h.8M298.0 286.6h.8M300.7 290.2h.8M309.2 285.4h.8M301.3 282.5h.8M289.9 301.0h.8M302.5 299.1h.8M292.2 301.6h.8M294.7 293.9h.8M291.0 312.7h.8M306.1 288.8h.8M296.8 304.3h.8M294.0 316.3h.8M302.0 292.6h.8M308.4 288.5h.8M311.1 309.4h.8M288.3 289.0h.8M303.8 292.5h.8M302.8 284.1h.8M321.6 267.8h.8M320.7 265.8h.8M316.5 266.5h.8M322.1 264.9h.8M323.5 268.2h.8M327.1 266.9h.8M316.8 266.8h.8M318.9 265.5h.8M314.3 269.4h.8M318.8 264.4h.8M324.7 268.7h.8M312.5 268.1h.8M314.5 266.5h.8M320.8 267.3h.8M318.0 264.8h.8M316.0 269.7h.8M324.9 264.8h.8M318.4 266.3h.8M330.5 268.2h.8M319.3 266.5h.8M310.7 268.0h.8M323.3 267.3h.8M324.5 265.8h.8M318.3 266.4h.8M322.1 270.0h.8M316.3 268.8h.8M317.7 268.2h.8M313.6 267.6h.8M311.8 266.1h.8M321.0 264.9h.8M321.6 268.1h.8M313.6 266.5h.8M319.9 266.7h.8M323.2 265.1h.8M319.6 264.4h.8M319.5 267.4h.8M322.8 265.5h.8M326.2 270.2h.8M326.0 269.7h.8M317.3 266.8h.8M325.2 268.8h.8M312.3 266.1h.8M321.4 269.0h.8M318.7 270.7h.8M322.5 268.1h.8M325.7 270.6h.8M323.0 263.4h.8M320.5 267.0h.8M311.5 267.1h.8M320.1 268.3h.8M313.0 267.5h.8M315.5 268.4h.8M321.3 267.4h.8M319.8 265.8h.8M314.6 265.2h.8M314.9 269.1h.8M320.4 266.0h.8M321.0 268.1h.8M316.8 267.9h.8M315.6 266.6h.8M318.8 264.7h.8M316.7 267.7h.8M321.9 269.2h.8M316.7 262.7h.8M319.7 264.9h.8M315.5 271.7h.8M322.3 267.3h.8M321.1 267.8h.8M317.3 269.6h.8M324.5 269.8h.8M324.1 267.6h.8M315.0 268.7h.8M324.1 265.9h.8M322.0 267.1h.8M314.9 265.3h.8M318.0 268.4h.8M317.6 268.2h.8M313.4 268.4h.8M316.3 268.4h.8M312.0 264.5h.8M314.3 267.1h.8M321.2 265.6h.8M328.2 266.3h.8M323.1 268.0h.8M326.6 269.4h.8M318.8 266.9h.8M323.1 265.8h.8M324.9 266.2h.8M320.0 267.0h.8M326.2 266.6h.8M323.9 267.4h.8M311.8 268.7h.8M321.3 264.5h.8M326.1 264.2h.8M316.7 266.2h.8M319.7 266.3h.8M319.7 269.7h.8M323.0 266.6h.8M323.6 268.6h.8M324.4 265.2h.8M326.0 264.6h.8M318.1 271.7h.8M324.5 268.7h.8M318.8 265.5h.8M321.2 266.9h.8M323.2 270.4h.8M328.4 267.6h.8M318.5 266.4h.8M319.4 268.8h.8M319.4 268.0h.8M316.8 264.0h.8M313.7 271.4h.8M315.8 269.2h.8M326.2 266.8h.8M323.5 266.1h.8M315.7 266.1h.8M320.4 264.1h.8M320.7 267.4h.8M323.0 265.9h.8M311.6 265.6h.8M324.6 265.7h.8M314.9 271.1h.8M318.5 266.2h.8M322.0 269.0h.8M324.1 269.6h.8M313.8 267.7h.8M317.2 268.7h.8M313.1 265.8h.8M314.8 266.9h.8M323.4 267.3h.8M320.9 265.6h.8M327.0 265.4h.8M313.8 270.9h.8M317.2 269.4h.8M322.3 267.1h.8M318.7 265.5h.8M324.4 267.3h.8M321.3 265.4h.8M318.3 266.9h.8M315.5 267.5h.8M321.3 267.5h.8M320.7 266.1h.8M321.8 268.5h.8M317.3 269.6h.8M327.4 266.3h.8M321.8 267.5h.8M321.9 266.3h.8M316.6 267.8h.8M325.2 269.3h.8M315.6 266.5h.8M316.3 266.2h.8M315.0 267.2h.8M323.5 266.5h.8M323.4 267.5h.8M319.2 267.4h.8M322.2 261.0h.8M319.4 264.1h.8M319.0 269.3h.8M318.8 266.7h.8M320.8 267.0h.8M322.4 266.2h.8M324.2 269.1h.8M320.1 268.9h.8M321.1 267.4h.8M320.8 268.0h.8M316.4 267.9h.8M322.9 265.8h.8M312.7 267.2h.8M321.4 269.7h.8M315.3 268.4h.8M321.9 271.2h.8M318.3 268.3h.8M320.6 264.9h.8M325.9 267.7h.8M318.3 267.0h.8M325.0 264.6h.8M321.3 264.8h.8M316.1 269.4h.8M307.6 269.3h.8M322.5 265.7h.8M320.9 268.9h.8M317.4 268.4h.8M319.1 268.5h.8M313.6 265.8h.8M321.9 264.9h.8M313.0 269.8h.8M316.6 265.4h.8M319.2 266.9h.8M319.6 267.0h.8M317.7 266.7h.8M316.3 267.9h.8M321.3 267.1h.8M322.0 268.6h.8M321.2 267.7h.8M321.6 264.7h.8M315.9 265.7h.8M317.0 268.1h.8M327.2 265.4h.8M322.2 265.8h.8M325.3 268.3h.8M321.1 267.9h.8M321.9 267.7h.8M323.3 267.1h.8M317.4 267.5h.8M321.9 265.4h.8M319.3 267.9h.8M321.1 265.9h.8M317.8 271.6h.8M321.4 267.8h.8M318.1 263.0h.8M319.4 266.1h.8M313.9 267.1h.8M323.4 266.8h.8M319.2 266.4h.8M320.1 265.0h.8M321.1 268.6h.8M311.4 268.9h.8M318.9 269.4h.8M315.6 270.3h.8M315.2 267.3h.8M318.9 267.7h.8M318.7 267.7h.8M323.3 263.6h.8M322.8 263.7h.8M319.7 267.3h.8M327.4 268.1h.8M316.2 267.6h.8M312.8 270.8h.8M325.4 268.8h.8M318.1 268.1h.8M315.8 266.3h.8M322.5 265.8h.8M323.3 267.0h.8M326.3 265.2h.8M317.5 267.3h.8M318.2 264.2h.8M323.4 266.2h.8M319.8 266.3h.8M315.9 267.4h.8M319.9 267.3h.8M316.8 266.6h.8M315.1 268.3h.8M319.3 267.4h.8M317.8 269.1h.8M315.9 268.1h.8M316.2 267.7h.8M314.5 267.5h.8M329.2 269.1h.8M319.4 265.3h.8M320.8 265.8h.8M310.8 268.6h.8M326.9 267.9h.8M321.9 270.5h.8M324.5 263.3h.8M319.7 266.7h.8M321.7 263.6h.8M318.3 270.2h.8M328.5 268.9h.8M322.7 271.2h.8M318.1 267.1h.8M315.2 268.4h.8M322.7 268.4h.8M322.1 264.2h.8M311.0 267.1h.8M322.7 267.8h.8M326.8 264.7h.8M322.2 266.3h.8M319.8 269.2h.8M322.1 268.0h.8M317.3 265.6h.8M318.9 265.8h.8M315.4 268.3h.8M319.8 265.0h.8M319.4 266.0h.8M316.9 267.2h.8M323.6 268.7h.8M316.8 266.4h.8M314.9 267.0h.8M321.4 267.4h.8M323.3 266.4h.8M320.8 269.9h.8M313.4 267.2h.8M312.9 267.5h.8M318.4 268.9h.8M318.9 271.4h.8M318.8 265.3h.8M314.2 266.9h.8M321.1 262.2h.8M315.7 268.9h.8M316.6 269.1h.8M312.6 267.6h.8M315.8 266.2h.8M321.6 269.0h.8M318.2 265.1h.8M318.4 267.1h.8M323.6 267.9h.8M321.7 264.6h.8M325.0 270.1h.8M326.7 267.4h.8M317.4 268.5h.8M325.4 266.5h.8M319.4 268.7h.8M322.7 265.2h.8M315.7 269.4h.8M318.3 266.3h.8M318.2 267.6h.8M316.2 265.4h.8M319.5 267.1h.8M324.9 267.4h.8M319.8 266.6h.8M318.1 265.0h.8M320.3 268.0h.8M318.8 269.2h.8M325.2 264.5h.8M319.0 268.1h.8M310.7 268.8h.8M323.9 268.5h.8M323.6 264.6h.8M308.5 268.4h.8M316.9 268.4h.8M312.0 268.1h.8M314.6 265.8h.8M326.2 269.4h.8M313.6 268.5h.8M319.0 267.6h.8M323.1 269.8h.8M317.1 268.3h.8M318.4 269.1h.8M317.8 268.7h.8M325.2 267.9h.8M310.3 266.9h.8M320.6 268.8h.8M315.8 268.5h.8M327.2 267.8h.8M325.1 265.7h.8M317.6 266.9h.8M316.7 272.8h.8M316.6 268.7h.8M323.9 266.0h.8M324.6 266.2h.8M324.8 266.0h.8M320.8 265.6h.8M326.1 264.7h.8M318.0 267.5h.8M315.6 269.3h.8M321.5 268.4h.8M326.5 270.9h.8M314.7 267.2h.8M325.1 267.7h.8M328.2 265.6h.8M316.7 267.6h.8M322.2 268.8h.8M324.6 267.6h.8M322.1 265.8h.8M317.9 265.7h.8M311.6 266.7h.8M311.2 265.8h.8M317.2 265.4h.8M325.9 267.3h.8M316.9 265.3h.8M314.7 266.2h.8M319.5 268.0h.8M317.2 264.4h.8M312.9 268.6h.8M321.8 265.5h.8M327.3 264.7h.8M317.6 266.8h.8M324.9 266.2h.8M313.1 267.1h.8M322.7 269.5h.8M318.0 267.5h.8M322.6 264.6h.8M325.1 266.3h.8M321.0 267.9h.8M317.6 267.8h.8M319.0 265.6h.8M329.4 266.0h.8M324.1 266.0h.8M321.1 265.1h.8M324.9 266.9h.8M319.4 266.2h.8M317.8 267.0h.8M324.5 267.2h.8M311.7 266.5h.8M315.0 269.9h.8M313.3 266.2h.8M311.1 267.9h.8M321.1 266.9h.8M317.4 267.5h.8M320.9 269.4h.8M323.1 265.4h.8M316.6 268.6h.8M315.1 265.7h.8M315.3 268.3h.8M312.2 265.5h.8M319.0 266.9h.8M326.9 265.8h.8M315.0 266.7h.8M323.2 268.6h.8M315.7 269.2h.8M323.5 267.0h.8M315.4 266.4h.8M323.4 268.5h.8M313.0 265.7h.8M324.4 266.9h.8M317.3 267.2h.8M323.1 267.4h.8M324.2 267.0h.8M323.0 271.7h.8M316.3 266.1h.8M324.4 266.4h.8M327.2 265.7h.8M323.3 268.6h.8M321.8 265.9h.8M325.8 265.0h.8M320.3 266.9h.8M315.0 266.5h.8M315.4 267.9h.8M319.9 263.9h.8M325.7 268.3h.8M313.9 267.9h.8M316.6 266.8h.8M321.6 266.1h.8M315.7 268.1h.8M321.0 266.7h.8M317.6 268.0h.8M323.8 270.0h.8M318.9 267.4h.8M313.6 269.3h.8M320.4 268.2h.8M324.7 266.0h.8M330.0 268.9h.8M328.4 268.1h.8M323.6 265.5h.8M320.9 267.7h.8M317.4 270.4h.8M318.5 268.9h.8M322.7 268.4h.8M319.3 266.5h.8M320.4 267.2h.8M319.2 268.0h.8M322.2 265.9h.8M316.6 264.6h.8M322.8 269.8h.8M316.8 264.7h.8M308.4 263.4h.8M313.8 270.2h.8M309.0 286.8h.8M308.6 281.7h.8M306.2 284.4h.8M317.5 281.0h.8M315.7 272.8h.8M307.7 279.6h.8M310.1 289.5h.8M318.2 270.7h.8M313.4 274.5h.8M310.2 280.2h.8M307.1 286.2h.8M309.4 287.5h.8M308.1 285.8h.8M310.7 275.5h.8M314.2 286.6h.8M310.0 297.7h.8M311.4 282.3h.8M311.5 283.6h.8M311.1 292.6h.8M313.6 274.1h.8M309.2 290.8h.8M318.0 281.6h.8M313.4 277.9h.8M307.7 274.3h.8M305.7 284.6h.8M312.4 275.8h.8M310.2 285.8h.8M307.0 278.0h.8M308.1 277.7h.8M313.2 283.8h.8M320.2 284.7h.8M313.2 285.7h.8M311.8 281.6h.8M313.4 289.6h.8M321.3 274.2h.8M314.5 286.2h.8M307.0 281.8h.8M323.6 276.5h.8M307.1 280.1h.8M310.5 282.7h.8M311.5 264.3h.8M319.7 270.7h.8M312.3 280.2h.8M314.1 284.0h.8M319.4 266.2h.8M311.6 273.1h.8M314.5 277.1h.8M308.8 276.5h.8M321.8 281.5h.8M310.8 270.8h.8M314.1 284.0h.8M307.4 282.1h.8M306.7 286.3h.8M314.9 272.2h.8M315.9 281.6h.8M310.7 285.2h.8M310.0 287.4h.8M304.9 284.4h.8M321.3 271.8h.8M316.9 271.1h.8M311.6 279.4h.8M319.5 280.5h.8M325.1 265.6h.8M304.9 296.5h.8M315.6 282.2h.8M302.3 291.1h.8M312.0 281.2h.8M311.6 285.1h.8M309.2 284.7h.8M310.5 280.1h.8M314.9 276.3h.8M309.4 277.9h.8M306.9 291.3h.8M321.8 273.7h.8M317.4 276.9h.8M313.9 281.3h.8M310.4 281.1h.8M320.0 285.0h.8M321.2 266.0h.8M307.8 282.0h.8M325.5 275.7h.8M321.6 282.3h.8M311.4 284.8h.8M313.5 285.4h.8M310.3 289.8h.8M313.1 282.3h.8M311.1 291.6h.8M314.3 273.1h.8M309.6 282.1h.8M311.0 276.7h.8M315.4 280.0h.8M309.5 287.7h.8M305.4 294.9h.8M305.2 304.4h.8M309.5 283.4h.8M322.5 261.6h.8M319.1 285.8h.8M324.6 275.2h.8M316.4 280.6h.8M322.5 264.1h.8M316.6 279.9h.8M308.7 279.5h.8M312.1 288.7h.8M314.4 286.9h.8M309.0 288.4h.8M313.0 269.3h.8M310.7 291.4h.8M311.1 280.9h.8M313.0 281.3h.8M311.7 277.4h.8M306.1 296.0h.8M310.6 274.5h.8M318.1 277.4h.8M309.5 285.7h.8M311.7 280.8h.8M321.5 275.9h.8M320.4 288.1h.8M315.2 275.6h.8M309.0 286.5h.8M314.6 269.9h.8M313.8 282.3h.8M316.9 282.2h.8M310.6 288.3h.8M312.0 280.7h.8M314.3 286.4h.8M314.4 282.2h.8M309.2 276.2h.8M319.3 275.7h.8M317.0 287.0h.8M315.8 283.0h.8M311.8 291.8h.8M314.5 276.6h.8M309.1 280.1h.8M314.9 286.1h.8M321.6 281.4h.8M313.3 278.7h.8M311.4 278.1h.8M311.6 283.9h.8M309.2 293.3h.8M310.3 284.2h.8M317.7 271.3h.8M319.4 277.0h.8M319.0 283.9h.8M313.3 287.5h.8M312.9 282.9h.8M313.9 287.1h.8M317.3 277.1h.8M303.4 298.5h.8M311.5 278.0h.8M322.3 273.4h.8M313.8 282.0h.8M315.3 298.1h.8M319.9 277.0h.8M312.2 286.0h.8M311.2 284.2h.8M309.5 292.9h.8M316.2 285.7h.8M311.4 287.9h.8M318.0 286.5h.8M310.9 284.3h.8M314.8 274.6h.8M317.1 274.1h.8M304.9 279.0h.8M315.2 282.3h.8M309.1 280.4h.8M306.0 288.3h.8M313.6 270.7h.8M316.5 282.7h.8M309.6 289.3h.8M314.9 271.7h.8M315.6 274.6h.8M319.7 269.2h.8M310.2 285.1h.8M308.1 282.4h.8M315.9 270.0h.8M312.5 290.7h.8M318.9 280.2h.8M319.5 281.6h.8M309.7 283.4h.8M307.4 284.9h.8M311.2 272.0h.8M311.9 282.6h.8M311.8 279.7h.8M306.4 289.9h.8M320.0 278.4h.8M309.1 291.2h.8M317.1 268.1h.8M310.9 285.2h.8M302.7 289.0h.8M308.4 284.4h.8M308.0 289.8h.8M307.1 286.8h.8M314.1 269.4h.8M311.6 275.0h.8M313.4 291.6h.8M308.4 280.9h.8M311.0 278.9h.8M308.9 291.4h.8M309.9 283.6h.8M317.4 266.0h.8M286.0 273.1h.8M296.9 269.6h.8M292.5 276.7h.8M287.4 269.2h.8M293.9 269.9h.8M292.1 273.6h.8M311.6 266.7h.8M295.8 272.1h.8M295.2 271.4h.8M292.9 275.0h.8M291.8 271.6h.8M296.0 272.3h.8M294.5 275.0h.8M295.9 272.5h.8M295.5 269.0h.8M288.5 268.8h.8M297.7 269.9h.8M286.4 272.7h.8M300.7 266.7h.8M311.2 272.1h.8M295.1 275.2h.8M296.6 270.2h.8M315.8 268.8h.8M295.1 274.5h.8M286.4 271.7h.8M299.5 279.2h.8M288.0 271.9h.8M301.9 272.2h.8M285.2 273.2h.8M297.0 273.3h.8M306.2 275.0h.8M299.7 272.9h.8M286.1 271.6h.8M298.0 270.8h.8M296.9 269.5h.8M309.8 278.5h.8M292.5 273.2h.8M293.9 275.8h.8M299.9 272.2h.8M294.0 272.4h.8M287.0 274.0h.8M289.6 273.6h.8M297.2 275.3h.8M295.8 275.1h.8M287.7 273.8h.8" stroke="#c00808" stroke-opacity="0.45" stroke-width="0.9" fill="none"/>
<rect x="259.4" y="249.1" width="72.30000000000001" height="72.29999999999998" fill="none" stroke="#d0d0d0" stroke-width="1"/>
<line x1="308.4" y1="249.1" x2="308.4" y2="321.4" stroke="#858c8a" stroke-width="0.9"/>
<line x1="259.4" y1="277.9" x2="331.7" y2="277.9" stroke="#858c8a" stroke-width="0.9"/>
<text x="261.60" y="255.60" font-size="6.5" font-weight="bold" text-anchor="start" fill="#9a9a9a" >2.775%</text>
<text x="309.70" y="255.60" font-size="6.5" font-weight="bold" text-anchor="start" fill="#000" >41.5...</text>
<text x="261.40" y="319.50" font-size="6.5" font-weight="bold" text-anchor="start" fill="#cc2020" >45.069%</text>
<text x="309.70" y="319.50" font-size="6.5" font-weight="bold" text-anchor="start" fill="#ff10ff" >10.6...</text>
<text x="258.5" y="249.1" font-size="3.4" fill="#444" text-anchor="end">10<tspan font-size="2.2" dy="-1.2">0</tspan></text>
<text x="257.3" y="327.0" font-size="3.4" fill="#444">10<tspan font-size="2.2" dy="-1.2">0</tspan></text>
<line x1="259.2" y1="321.4" x2="259.2" y2="322.59999999999997" stroke="#aaa" stroke-width="0.6"/>
<text x="258.5" y="260.9" font-size="3.4" fill="#444" text-anchor="end">10<tspan font-size="2.2" dy="-1.2">1</tspan></text>
<text x="269.2" y="327.0" font-size="3.4" fill="#444">10<tspan font-size="2.2" dy="-1.2">1</tspan></text>
<line x1="271.07" y1="321.4" x2="271.07" y2="322.59999999999997" stroke="#aaa" stroke-width="0.6"/>
<text x="258.5" y="272.8" font-size="3.4" fill="#444" text-anchor="end">10<tspan font-size="2.2" dy="-1.2">2</tspan></text>
<text x="281.0" y="327.0" font-size="3.4" fill="#444">10<tspan font-size="2.2" dy="-1.2">2</tspan></text>
<line x1="282.94" y1="321.4" x2="282.94" y2="322.59999999999997" stroke="#aaa" stroke-width="0.6"/>
<text x="258.5" y="284.6" font-size="3.4" fill="#444" text-anchor="end">10<tspan font-size="2.2" dy="-1.2">3</tspan></text>
<text x="292.9" y="327.0" font-size="3.4" fill="#444">10<tspan font-size="2.2" dy="-1.2">3</tspan></text>
<line x1="294.81" y1="321.4" x2="294.81" y2="322.59999999999997" stroke="#aaa" stroke-width="0.6"/>
<text x="258.5" y="296.5" font-size="3.4" fill="#444" text-anchor="end">10<tspan font-size="2.2" dy="-1.2">4</tspan></text>
<text x="304.8" y="327.0" font-size="3.4" fill="#444">10<tspan font-size="2.2" dy="-1.2">4</tspan></text>
<line x1="306.68" y1="321.4" x2="306.68" y2="322.59999999999997" stroke="#aaa" stroke-width="0.6"/>
<text x="258.5" y="308.3" font-size="3.4" fill="#444" text-anchor="end">10<tspan font-size="2.2" dy="-1.2">5</tspan></text>
<text x="316.6" y="327.0" font-size="3.4" fill="#444">10<tspan font-size="2.2" dy="-1.2">5</tspan></text>
<line x1="318.54999999999995" y1="321.4" x2="318.54999999999995" y2="322.59999999999997" stroke="#aaa" stroke-width="0.6"/>
<text x="258.5" y="320.2" font-size="3.4" fill="#444" text-anchor="end">10<tspan font-size="2.2" dy="-1.2">6</tspan></text>
<text x="328.5" y="327.0" font-size="3.4" fill="#444">10<tspan font-size="2.2" dy="-1.2">6</tspan></text>
<line x1="330.41999999999996" y1="321.4" x2="330.41999999999996" y2="322.59999999999997" stroke="#aaa" stroke-width="0.6"/>
<text transform="translate(251.09999999999997,285.8) rotate(-90)" font-size="5" text-anchor="middle" fill="#111">PI-A</text>
<text x="295.5" y="335.2" font-size="5.05" text-anchor="middle" fill="#111">Annexin V-A</text>
<text x="397.70" y="242.10" font-size="7.1" font-weight="bold" text-anchor="middle" fill="#000" >C124S</text>
<path d="M400.3 297.9h.8M401.0 301.0h.8M407.2 293.0h.8M407.4 297.2h.8M403.9 289.2h.8M409.1 298.0h.8M404.0 294.6h.8M396.7 291.0h.8M401.8 299.0h.8M401.9 300.3h.8M400.4 297.0h.8M401.2 297.9h.8M392.8 304.7h.8M396.8 296.7h.8M405.3 300.2h.8M400.9 292.0h.8M398.3 296.4h.8M386.1 296.6h.8M399.4 301.2h.8M401.6 292.8h.8M401.3 304.2h.8M398.6 290.6h.8M399.0 305.4h.8M395.0 290.4h.8M393.2 301.7h.8M394.7 301.2h.8M399.3 295.5h.8M397.0 306.6h.8M404.7 288.9h.8M391.6 302.1h.8M404.0 294.0h.8M399.2 297.4h.8M400.0 295.7h.8M401.5 297.7h.8M401.3 294.7h.8M402.6 301.5h.8M397.4 298.8h.8M398.0 300.8h.8M396.2 302.7h.8M395.6 307.3h.8M398.2 296.6h.8M397.0 302.1h.8M395.8 293.3h.8M406.6 293.7h.8M398.1 302.7h.8M406.2 297.3h.8M401.9 297.6h.8M395.5 296.8h.8M396.2 290.0h.8M398.1 289.9h.8M397.5 299.5h.8M396.5 301.8h.8M402.2 297.2h.8M401.9 298.7h.8M395.5 296.0h.8M399.1 298.2h.8M402.3 299.8h.8M391.8 301.9h.8M394.9 290.2h.8M398.4 296.3h.8M407.7 292.5h.8M395.1 297.5h.8M398.1 294.0h.8M392.6 295.7h.8M404.8 302.9h.8M399.9 299.6h.8M396.7 294.0h.8M400.1 299.1h.8M403.6 296.0h.8M396.9 304.9h.8M402.5 290.4h.8M407.5 296.5h.8M398.4 301.9h.8M399.5 291.9h.8M399.0 298.5h.8M402.5 295.9h.8M397.2 300.6h.8M397.8 288.6h.8M400.3 297.7h.8M398.9 295.9h.8M403.3 298.1h.8M399.5 298.2h.8M401.1 293.3h.8M396.0 295.5h.8M402.9 293.3h.8M395.0 302.1h.8M393.3 301.9h.8M396.8 292.9h.8M404.6 300.6h.8M399.5 301.2h.8M396.4 300.0h.8M400.0 297.8h.8M397.6 301.3h.8M397.5 299.9h.8M401.2 295.0h.8M404.9 298.3h.8M406.3 291.2h.8M389.4 304.0h.8M403.2 294.6h.8M393.8 301.3h.8M397.0 300.1h.8M407.9 306.4h.8M397.5 296.6h.8M401.7 297.7h.8M399.3 301.5h.8M395.1 294.1h.8M396.3 298.6h.8M396.5 292.7h.8M399.4 294.1h.8M395.7 293.5h.8M399.1 298.5h.8M401.7 292.8h.8M404.3 298.2h.8M407.5 289.5h.8M404.1 291.8h.8M394.4 298.6h.8M396.5 295.9h.8M394.0 306.4h.8M391.7 297.3h.8M405.6 298.0h.8M399.1 296.7h.8M394.8 295.2h.8M396.2 300.3h.8M395.6 297.4h.8M395.4 297.4h.8M398.2 304.2h.8M396.9 302.2h.8M390.2 291.7h.8M395.3 299.6h.8M398.0 297.4h.8M402.9 292.3h.8M399.9 304.2h.8M399.1 293.5h.8M391.5 299.6h.8M391.5 304.2h.8M404.6 298.4h.8M389.3 298.7h.8M392.6 301.7h.8M392.6 301.2h.8M406.0 294.9h.8M400.6 307.0h.8M394.3 305.1h.8M398.6 295.7h.8M398.1 294.6h.8M393.9 289.6h.8M398.3 298.4h.8M391.3 307.8h.8M402.1 298.3h.8M402.1 292.6h.8M409.3 296.8h.8M394.0 296.2h.8M401.5 300.7h.8M398.1 300.6h.8M400.7 293.6h.8M400.8 301.0h.8M399.4 292.2h.8M392.6 298.6h.8M395.6 301.9h.8M399.9 305.8h.8M398.3 302.4h.8M400.7 293.2h.8M400.3 304.5h.8M399.4 309.0h.8M398.3 299.5h.8M395.3 301.0h.8M396.7 294.7h.8M392.8 297.7h.8M393.7 295.2h.8M392.5 298.1h.8M392.1 295.7h.8M403.4 300.2h.8M402.1 295.8h.8M395.3 289.7h.8M398.9 300.2h.8M404.5 296.5h.8M399.5 292.7h.8M397.3 296.0h.8M386.8 300.1h.8M398.6 303.1h.8M402.2 287.0h.8M395.8 298.2h.8M400.3 302.5h.8M397.8 293.7h.8M409.6 290.6h.8M403.2 296.2h.8M394.8 294.5h.8M395.2 306.3h.8M393.0 296.9h.8M399.2 295.2h.8M397.9 293.4h.8M397.9 300.0h.8M396.4 297.6h.8M394.7 302.4h.8M407.6 288.0h.8M401.5 300.7h.8M399.5 296.4h.8M403.0 298.1h.8M399.2 294.9h.8M403.1 297.5h.8M397.0 291.4h.8M395.0 297.7h.8M398.6 300.2h.8M397.0 304.7h.8M400.7 295.8h.8M407.8 299.2h.8M400.7 303.5h.8M395.3 290.9h.8M393.6 302.8h.8M398.6 298.6h.8M397.9 301.5h.8M407.5 296.6h.8M399.8 295.0h.8M394.8 305.8h.8M395.8 291.4h.8M399.7 300.1h.8M396.3 294.0h.8M398.9 291.9h.8M400.2 301.1h.8M393.5 298.8h.8M399.5 300.4h.8M400.5 296.1h.8M391.6 304.9h.8M394.7 299.3h.8M394.8 293.0h.8M401.9 301.5h.8M394.1 307.8h.8M396.6 300.2h.8M400.8 295.8h.8M394.9 297.4h.8M393.2 297.8h.8M403.2 289.7h.8M401.9 289.0h.8M394.3 300.7h.8M401.0 302.1h.8M393.1 300.2h.8M395.0 303.1h.8M400.0 299.3h.8M402.4 291.5h.8M400.9 299.5h.8M400.1 296.5h.8M398.8 305.1h.8M399.2 304.1h.8M399.8 295.9h.8M397.1 298.0h.8M404.8 301.5h.8M397.4 294.5h.8M401.6 304.9h.8M401.6 301.9h.8M399.4 295.2h.8M401.2 295.5h.8M389.5 299.9h.8M390.5 299.8h.8M401.9 299.8h.8M397.3 300.7h.8M406.0 294.2h.8M408.9 302.7h.8M400.2 297.9h.8M402.1 293.2h.8M406.1 297.2h.8M401.3 298.9h.8M400.3 294.5h.8M391.9 298.9h.8M406.6 293.9h.8M402.2 293.3h.8M393.7 298.2h.8M394.1 298.5h.8M396.6 306.4h.8M400.2 296.0h.8M402.6 296.2h.8M391.3 297.0h.8M392.5 296.7h.8M397.9 290.1h.8M391.4 304.4h.8M396.5 296.7h.8M390.0 294.8h.8M404.2 304.7h.8M400.5 296.9h.8M394.6 297.5h.8M401.2 301.0h.8M399.2 299.7h.8M401.0 297.9h.8M402.3 302.5h.8M395.7 299.4h.8M409.8 293.0h.8M394.0 297.5h.8M403.7 288.7h.8M393.0 297.5h.8M401.2 297.3h.8M394.4 301.5h.8M398.1 296.1h.8M395.5 306.0h.8M396.0 293.5h.8M403.3 297.4h.8M403.8 298.6h.8M398.4 299.9h.8M397.8 301.4h.8M401.4 294.5h.8M387.5 301.2h.8M403.3 299.8h.8M397.7 295.1h.8M405.2 295.7h.8M398.6 305.2h.8M401.3 301.3h.8M403.2 295.5h.8M401.9 296.5h.8M398.8 303.4h.8M405.7 298.9h.8M398.3 293.5h.8M396.1 293.1h.8M399.7 298.9h.8M401.0 299.0h.8M400.2 297.1h.8M404.4 293.9h.8M401.1 294.2h.8M399.8 298.3h.8M401.4 288.5h.8M401.2 298.5h.8M399.8 301.7h.8M395.4 303.3h.8M396.6 294.8h.8M401.4 293.8h.8M398.5 299.4h.8M398.6 297.6h.8M397.2 300.5h.8M398.6 299.8h.8M398.6 293.3h.8M398.2 300.7h.8M398.8 296.1h.8M388.8 302.4h.8M400.4 298.2h.8M403.5 295.0h.8M394.6 306.1h.8M398.1 301.6h.8M400.9 301.2h.8M398.6 296.3h.8M400.8 301.0h.8M399.4 301.0h.8M409.3 295.6h.8M393.5 308.9h.8M398.2 294.5h.8M395.6 295.9h.8M395.1 298.6h.8M398.7 304.9h.8M407.2 292.9h.8M398.2 291.7h.8M400.8 295.5h.8M391.5 296.5h.8M399.9 307.1h.8M398.1 301.4h.8M396.2 294.4h.8M397.9 300.7h.8M402.4 307.9h.8M397.3 301.4h.8M390.0 298.5h.8M402.3 293.5h.8M403.1 298.2h.8M404.3 302.3h.8M395.2 304.8h.8M401.9 298.7h.8M393.5 297.2h.8M399.4 301.1h.8M401.9 303.4h.8M392.5 299.1h.8M396.5 295.9h.8M394.8 297.1h.8M396.5 301.9h.8M395.1 300.4h.8M408.6 299.0h.8M402.9 301.6h.8M399.0 301.3h.8M393.0 304.4h.8M390.3 297.7h.8M395.2 299.8h.8M399.5 297.6h.8M401.7 304.0h.8M406.0 292.7h.8M404.4 299.4h.8M401.7 298.1h.8M402.1 298.8h.8M394.3 299.8h.8M395.4 293.9h.8M399.9 301.5h.8M403.7 299.7h.8M402.3 286.4h.8M403.0 292.5h.8M398.7 297.8h.8M401.0 300.0h.8M397.7 292.8h.8M408.6 300.7h.8M407.3 290.6h.8M394.8 303.7h.8M402.1 295.6h.8M398.7 304.2h.8M404.1 297.6h.8M400.7 302.1h.8M393.0 301.1h.8M405.3 294.9h.8M394.1 305.3h.8M403.9 305.9h.8M405.0 297.7h.8M401.2 296.5h.8M402.3 302.8h.8M401.2 293.6h.8M406.1 294.8h.8M401.7 297.9h.8M402.1 293.8h.8M394.7 300.5h.8M397.9 301.4h.8M396.6 292.3h.8M395.8 301.4h.8M390.6 294.8h.8M400.0 286.7h.8M404.7 298.6h.8M396.8 299.6h.8M400.3 300.7h.8M401.1 298.3h.8M393.3 291.8h.8M403.7 301.0h.8M400.1 296.4h.8M400.1 294.8h.8M394.2 300.5h.8M395.4 285.7h.8M396.4 290.4h.8M407.6 295.0h.8M391.8 294.3h.8M396.9 301.9h.8M403.6 297.9h.8M402.1 289.6h.8M401.7 290.4h.8M392.6 296.6h.8M401.0 291.8h.8M397.5 297.6h.8M394.1 298.4h.8M402.6 292.7h.8M396.6 295.3h.8M402.3 304.2h.8M401.3 296.4h.8M392.5 300.0h.8M399.5 292.2h.8M398.8 300.6h.8M399.7 297.6h.8M396.4 304.2h.8M404.2 293.7h.8M400.4 300.3h.8M398.3 295.3h.8M396.5 291.2h.8M397.7 296.0h.8M394.9 296.1h.8M398.3 293.6h.8M404.6 296.8h.8M401.8 297.8h.8M403.4 294.8h.8M404.2 291.4h.8M402.3 298.0h.8M398.0 297.8h.8M396.4 300.8h.8M398.9 301.6h.8M398.6 296.7h.8M396.9 297.5h.8M400.3 302.2h.8M395.0 299.1h.8M403.7 293.8h.8M402.2 300.7h.8M400.0 296.0h.8M395.2 298.4h.8M403.7 302.4h.8M395.1 304.0h.8M395.8 295.6h.8M397.1 299.5h.8M397.0 296.8h.8M398.7 297.1h.8M401.3 302.9h.8M393.8 293.8h.8M398.9 290.1h.8M403.3 297.1h.8M396.2 297.1h.8M396.3 296.2h.8M401.0 289.3h.8M405.6 299.5h.8M407.0 297.5h.8M393.7 301.1h.8M397.8 295.7h.8M400.7 299.6h.8M401.4 300.7h.8M395.5 302.2h.8M397.7 298.5h.8M395.1 295.4h.8M398.1 299.5h.8M407.4 301.6h.8M400.6 292.2h.8M393.4 292.7h.8M398.4 290.8h.8M402.3 294.5h.8M400.5 301.9h.8M398.9 303.6h.8M395.8 298.0h.8M393.8 299.5h.8M405.0 300.5h.8M396.7 300.6h.8M398.4 302.5h.8M403.9 293.4h.8M403.7 294.6h.8M404.8 299.8h.8M395.2 296.8h.8M396.3 294.0h.8M400.2 299.4h.8M393.5 292.7h.8M401.5 298.2h.8M400.7 302.0h.8M405.1 295.5h.8M401.9 296.3h.8M399.2 300.9h.8M401.6 296.5h.8M400.0 290.0h.8M396.9 299.1h.8M403.0 290.4h.8M402.7 302.4h.8M397.1 303.1h.8M405.4 292.1h.8M398.3 300.2h.8M397.0 298.2h.8M396.1 307.2h.8M397.1 294.4h.8M390.2 302.0h.8M399.2 306.9h.8M403.3 295.8h.8M401.6 298.2h.8M402.5 304.4h.8M396.9 299.4h.8M394.3 300.1h.8M405.8 303.3h.8M400.9 293.8h.8M396.4 294.6h.8M409.4 294.6h.8M400.7 293.7h.8M398.1 293.6h.8M403.4 295.0h.8M392.0 306.9h.8M392.7 295.3h.8M396.3 294.0h.8M395.7 299.2h.8M398.7 297.5h.8M397.6 291.4h.8M393.6 295.2h.8M402.7 293.3h.8M402.3 296.4h.8M395.9 301.4h.8M398.4 298.3h.8M391.5 294.6h.8M395.5 295.9h.8M403.6 294.0h.8M401.9 298.3h.8M389.5 293.9h.8M404.0 303.3h.8M399.3 304.5h.8M395.3 293.6h.8M404.9 296.5h.8M393.8 298.3h.8M400.7 297.6h.8M404.7 291.5h.8M398.3 309.0h.8M403.8 302.8h.8M399.1 293.7h.8M409.6 294.0h.8M406.0 303.6h.8M398.3 299.2h.8M409.3 296.9h.8M400.0 296.1h.8M409.4 294.0h.8M394.0 298.7h.8M399.7 299.1h.8M395.8 300.8h.8M392.1 302.0h.8M400.2 294.5h.8M406.5 287.8h.8M396.0 301.4h.8M402.9 296.3h.8M405.9 290.9h.8M398.8 301.3h.8M404.1 298.1h.8M391.1 301.9h.8M392.6 295.2h.8M407.8 293.8h.8M399.4 298.4h.8M400.5 295.1h.8M400.2 305.2h.8M395.9 292.1h.8M395.8 303.2h.8M397.0 300.2h.8M390.7 304.7h.8M392.7 293.6h.8M399.6 293.9h.8M400.0 298.7h.8M406.0 300.7h.8M401.9 293.2h.8M395.2 294.6h.8M398.5 301.3h.8M404.7 302.6h.8M399.4 298.8h.8M398.6 289.8h.8M400.6 294.9h.8M402.6 298.7h.8M405.2 287.3h.8M409.0 296.4h.8M399.9 294.5h.8M405.3 297.2h.8M401.1 297.2h.8M409.4 295.2h.8M398.9 300.5h.8M394.0 300.8h.8M401.4 299.4h.8M396.9 298.2h.8M397.7 296.3h.8M398.6 302.6h.8M403.5 303.4h.8M404.2 292.5h.8M391.7 301.5h.8M408.3 297.2h.8M394.2 295.7h.8M393.7 296.9h.8M403.7 293.3h.8M398.2 293.0h.8M398.0 293.6h.8M398.8 297.8h.8M395.2 298.5h.8M400.8 289.8h.8M403.6 301.6h.8M394.4 298.3h.8M392.8 297.0h.8M394.4 299.5h.8M397.7 301.9h.8M400.9 297.9h.8M402.8 294.4h.8M404.8 313.2h.8M396.7 300.1h.8M405.3 297.9h.8M403.3 290.4h.8M394.9 295.1h.8M396.0 305.6h.8M399.8 294.4h.8M400.6 289.6h.8M398.9 300.9h.8M398.4 299.6h.8M402.0 297.2h.8M404.5 293.4h.8M396.8 306.1h.8M400.0 295.4h.8M398.2 307.2h.8M403.6 292.0h.8M401.1 302.1h.8M403.7 297.2h.8M405.9 304.0h.8M397.1 298.6h.8M402.8 299.9h.8M393.9 296.5h.8M395.0 294.3h.8M398.8 291.6h.8M402.3 291.8h.8M404.0 296.4h.8M395.5 299.4h.8M405.1 296.9h.8M401.9 285.9h.8M397.9 301.9h.8M394.9 300.0h.8M402.5 292.5h.8M395.1 297.1h.8M398.3 291.5h.8M405.4 296.8h.8M394.6 295.6h.8M401.7 292.9h.8M394.2 295.8h.8M394.5 290.8h.8M404.7 295.3h.8M393.0 296.9h.8M403.8 297.9h.8M399.2 295.0h.8M397.6 299.9h.8M396.8 303.4h.8M400.9 295.7h.8M396.0 293.5h.8M405.0 297.8h.8M407.3 296.1h.8M397.7 298.2h.8M398.2 300.8h.8M393.6 300.1h.8M399.3 296.3h.8M394.3 306.1h.8M401.7 294.0h.8M401.7 295.7h.8M403.7 305.3h.8M408.3 295.5h.8M395.8 296.9h.8M398.4 295.8h.8M401.3 300.9h.8M407.8 297.3h.8M404.0 301.2h.8M400.5 302.7h.8M399.5 302.7h.8M396.9 295.4h.8M398.3 301.9h.8M386.5 297.9h.8M402.3 300.4h.8M403.1 293.4h.8M394.6 308.3h.8M405.7 299.5h.8M396.5 303.6h.8M398.2 299.6h.8M401.0 293.7h.8M396.7 300.4h.8M391.4 302.3h.8M407.1 289.8h.8M398.9 299.8h.8M396.8 295.6h.8M391.9 300.2h.8M395.7 299.1h.8M406.8 298.6h.8M406.3 287.9h.8M396.6 298.0h.8M396.0 299.8h.8M405.9 303.0h.8M399.5 296.7h.8M401.3 292.4h.8M398.0 301.5h.8M397.4 295.8h.8M392.4 294.8h.8M399.7 296.1h.8M402.5 295.9h.8M399.6 293.5h.8M394.1 305.4h.8M394.7 301.6h.8M397.3 303.1h.8M400.2 308.6h.8M400.5 298.0h.8M390.8 287.2h.8M404.2 293.9h.8M395.3 298.1h.8M397.9 305.1h.8M403.9 301.0h.8M393.6 304.5h.8M406.1 299.5h.8M398.7 296.4h.8M397.3 296.7h.8M396.9 303.5h.8M395.9 303.3h.8M401.6 295.2h.8M394.8 299.3h.8M387.6 305.8h.8M403.9 299.7h.8M396.2 300.1h.8M400.9 298.6h.8M397.7 302.7h.8M401.1 298.4h.8M397.7 302.8h.8M408.3 286.3h.8M401.3 295.0h.8M400.5 301.3h.8M396.4 299.4h.8M403.1 303.4h.8M402.0 297.1h.8M394.0 303.6h.8M407.5 293.1h.8M400.2 296.5h.8M396.2 302.5h.8M402.1 299.9h.8M397.6 299.6h.8M398.5 299.6h.8M399.2 295.6h.8M396.6 295.2h.8M406.8 298.2h.8M399.8 297.2h.8M399.6 297.7h.8M399.1 298.3h.8M404.2 298.4h.8M404.0 299.1h.8M403.6 289.2h.8M395.0 300.5h.8M402.4 297.2h.8M403.0 295.2h.8M406.1 290.1h.8M402.7 297.7h.8M393.7 298.0h.8M391.6 300.9h.8M400.9 284.8h.8M393.1 302.3h.8M399.6 293.9h.8M406.3 298.9h.8M403.6 303.1h.8M394.1 290.4h.8M395.0 299.4h.8M403.6 302.0h.8M402.7 300.7h.8M397.2 295.7h.8M395.7 297.7h.8M396.7 304.5h.8M400.2 300.0h.8M396.3 298.8h.8M395.1 299.9h.8M394.5 297.0h.8M399.6 299.5h.8M400.9 294.4h.8M403.6 298.7h.8M403.7 296.2h.8M387.9 308.3h.8M408.6 289.7h.8M388.6 302.4h.8M391.8 307.4h.8M393.0 299.1h.8M399.5 293.9h.8M398.7 301.1h.8M392.9 298.9h.8M398.1 300.4h.8M405.1 285.2h.8M401.6 292.7h.8M397.8 295.3h.8M405.7 296.7h.8M388.4 291.4h.8M392.3 292.6h.8M383.4 305.3h.8M400.0 296.4h.8M398.1 296.8h.8M387.2 307.9h.8M395.8 308.5h.8M410.5 301.2h.8M396.1 306.8h.8M406.2 297.5h.8M391.9 297.8h.8M383.5 313.7h.8M399.4 297.8h.8M395.3 308.9h.8M397.9 307.6h.8M381.8 300.2h.8M396.5 290.8h.8M402.1 306.0h.8M388.2 296.6h.8M403.1 301.7h.8M400.2 294.8h.8M387.5 290.8h.8M393.0 304.3h.8M389.1 296.5h.8M399.8 290.9h.8M395.5 300.0h.8M403.3 307.9h.8M385.0 301.9h.8M408.4 303.2h.8M404.7 303.4h.8M383.7 304.4h.8M399.1 297.1h.8M398.9 288.5h.8M403.2 300.3h.8M399.2 294.7h.8M394.6 288.8h.8M377.2 294.7h.8M403.7 297.4h.8M409.0 293.5h.8M384.8 300.9h.8M391.0 293.8h.8M393.8 301.5h.8M401.0 306.3h.8M399.2 307.6h.8M387.7 295.7h.8M397.1 302.1h.8M412.3 296.9h.8M398.0 300.4h.8M403.4 293.6h.8M393.6 298.2h.8M387.8 288.0h.8M383.0 300.2h.8M408.1 281.2h.8M404.9 296.3h.8M404.4 294.5h.8M412.5 303.9h.8M401.1 311.1h.8M406.6 295.9h.8M405.9 295.8h.8M385.8 294.0h.8M400.1 286.0h.8M404.4 286.1h.8M397.7 285.6h.8M398.5 301.4h.8M403.8 288.0h.8M396.0 297.0h.8M405.1 298.3h.8M393.9 306.3h.8M406.5 307.0h.8M383.3 305.8h.8M402.6 303.4h.8M404.1 295.7h.8M393.8 294.8h.8M392.2 288.9h.8M392.6 285.1h.8M387.4 318.4h.8M389.7 306.5h.8M395.3 310.0h.8M393.7 308.4h.8M405.0 295.2h.8M395.9 289.2h.8M406.6 293.9h.8M384.2 297.1h.8M390.9 315.2h.8M397.7 293.6h.8M401.5 302.6h.8M395.1 290.3h.8M386.2 289.6h.8M400.7 304.6h.8M398.1 303.6h.8M396.5 304.4h.8M392.6 294.6h.8M398.2 296.4h.8M394.9 313.2h.8M391.0 296.6h.8M401.3 293.0h.8M388.8 307.4h.8M394.3 293.8h.8M392.1 304.4h.8M397.8 298.2h.8M384.7 306.6h.8M390.4 313.6h.8M400.2 302.7h.8M394.5 293.1h.8M395.2 291.9h.8M393.5 300.9h.8M396.4 305.3h.8M419.8 282.2h.8M410.1 288.8h.8M403.5 293.6h.8M380.7 297.0h.8M395.4 298.7h.8M412.7 290.7h.8M394.7 295.6h.8M415.0 310.1h.8M392.4 286.8h.8M401.9 291.0h.8M399.3 295.5h.8M406.4 294.9h.8M394.8 288.5h.8M401.1 291.5h.8M393.1 305.2h.8M399.4 296.2h.8M403.8 309.4h.8M403.2 296.9h.8M388.1 297.3h.8M396.4 299.9h.8M402.5 298.2h.8M394.5 309.4h.8M399.1 297.9h.8M376.3 305.5h.8M399.1 303.7h.8M398.6 302.1h.8M398.9 302.7h.8M387.3 304.0h.8M395.4 298.8h.8M399.7 295.7h.8M407.8 295.4h.8M392.2 316.0h.8M384.3 300.3h.8M383.6 302.9h.8M404.9 307.0h.8M407.8 296.3h.8M394.4 298.8h.8M404.8 295.2h.8M404.4 300.7h.8M383.0 297.9h.8M399.2 293.6h.8M400.6 285.8h.8M395.5 297.4h.8M406.2 286.1h.8M388.5 294.8h.8M409.8 300.8h.8M381.3 297.2h.8M407.8 292.4h.8M404.2 290.1h.8M402.4 298.3h.8M405.5 272.9h.8M409.6 296.3h.8M391.1 288.6h.8M396.5 304.3h.8M397.4 295.0h.8M398.9 306.5h.8M398.1 301.5h.8M395.8 295.8h.8M404.4 294.2h.8M398.1 295.1h.8M392.6 305.6h.8M384.6 294.9h.8M390.8 298.1h.8M399.1 289.2h.8M392.0 308.9h.8M397.3 288.3h.8M395.0 295.8h.8M379.6 299.9h.8M408.6 286.5h.8M397.5 298.7h.8M400.2 312.6h.8M397.2 293.4h.8M410.1 289.4h.8M390.1 301.4h.8M389.0 304.7h.8M387.9 308.1h.8M401.7 288.9h.8M400.5 280.7h.8M398.7 303.9h.8M383.3 308.6h.8M394.1 291.1h.8M391.8 305.5h.8M403.9 298.1h.8M385.5 291.7h.8M392.4 302.8h.8M398.0 293.7h.8M391.2 315.5h.8M379.7 302.4h.8M405.2 298.9h.8M402.4 287.7h.8M417.0 297.3h.8M391.5 306.2h.8M393.8 297.1h.8M402.2 298.9h.8M406.9 300.2h.8M396.9 290.9h.8M387.5 304.5h.8M391.5 299.0h.8M414.7 288.2h.8M410.7 295.9h.8M400.1 280.0h.8M396.6 301.8h.8M391.3 292.5h.8M384.9 295.6h.8M397.0 291.5h.8M403.1 300.2h.8M403.7 297.3h.8M385.3 293.3h.8M403.5 289.6h.8M402.3 296.2h.8M413.2 290.9h.8M391.2 301.3h.8M406.6 290.3h.8M403.0 297.9h.8M400.5 301.2h.8M405.8 302.8h.8M408.8 280.1h.8M387.5 293.1h.8M387.0 296.0h.8M392.6 293.9h.8M400.8 296.4h.8M396.2 295.5h.8M382.2 310.0h.8M407.5 297.3h.8M396.3 308.7h.8M380.9 303.2h.8M394.3 309.6h.8M398.0 299.2h.8M415.4 278.4h.8M377.4 299.0h.8M401.9 296.5h.8M399.7 309.4h.8M409.3 288.4h.8M385.7 296.2h.8M404.9 307.2h.8M390.1 308.0h.8M414.5 282.8h.8M393.1 298.6h.8M410.0 313.1h.8M394.5 291.9h.8M394.0 297.8h.8M398.8 295.8h.8M392.6 303.5h.8M404.7 290.6h.8M391.8 298.3h.8M392.2 308.3h.8M405.1 294.1h.8M389.7 316.9h.8M401.0 302.2h.8M395.8 287.0h.8M394.2 302.3h.8M393.4 300.7h.8M392.7 297.2h.8M397.1 304.8h.8M400.7 301.8h.8M406.0 284.2h.8M394.2 314.9h.8M394.9 298.9h.8M407.2 292.8h.8M385.6 294.9h.8M395.1 303.6h.8M389.4 294.8h.8M387.2 293.5h.8M387.3 307.0h.8M410.5 298.3h.8M386.4 301.2h.8M377.7 305.2h.8M399.6 305.7h.8M416.7 290.4h.8M397.4 297.6h.8M405.8 293.7h.8M400.7 287.0h.8M395.1 289.3h.8M380.8 300.1h.8M400.9 292.2h.8M400.2 302.0h.8M390.1 301.0h.8M399.8 296.0h.8M394.2 306.1h.8M392.2 284.8h.8M386.1 314.7h.8M396.6 301.2h.8M396.5 290.1h.8M398.4 295.0h.8M395.4 287.2h.8M401.5 299.2h.8M400.5 295.4h.8M410.4 285.4h.8M392.9 291.2h.8M410.6 290.4h.8M404.6 295.9h.8M402.4 298.8h.8M393.2 288.5h.8M396.3 295.9h.8M390.6 299.4h.8M403.2 300.1h.8M392.0 308.3h.8M391.7 306.1h.8M395.3 306.7h.8M394.5 300.6h.8M405.8 310.9h.8M395.9 296.9h.8M399.4 295.8h.8M390.7 293.7h.8M411.9 288.5h.8M409.1 290.4h.8M400.7 304.6h.8M387.0 309.1h.8M396.1 289.0h.8M402.6 293.8h.8M411.6 286.9h.8M399.7 301.2h.8M399.7 296.6h.8M400.2 291.6h.8M409.7 288.7h.8M387.0 307.4h.8M390.5 295.1h.8M384.0 302.1h.8M391.9 303.0h.8M407.8 297.8h.8M397.6 299.0h.8M393.8 300.4h.8M401.5 298.2h.8M400.1 296.1h.8M395.6 286.8h.8M399.6 291.8h.8M401.7 304.0h.8M409.2 289.2h.8M408.0 280.4h.8M391.4 283.9h.8M410.4 288.4h.8M396.0 297.9h.8M411.3 304.3h.8M394.6 292.8h.8M387.9 310.4h.8M404.4 301.9h.8M398.5 302.1h.8M391.2 294.1h.8M391.0 304.2h.8M400.9 288.5h.8M388.9 301.5h.8M399.3 301.5h.8M389.9 291.0h.8M396.4 306.3h.8M397.6 310.9h.8M397.6 303.9h.8M384.9 305.4h.8M392.1 316.4h.8M399.1 311.6h.8M387.6 298.3h.8M390.5 306.0h.8M394.8 301.1h.8M389.9 308.3h.8M403.8 296.6h.8M389.0 298.4h.8M398.4 293.7h.8M402.6 296.4h.8M397.7 313.2h.8M392.9 309.8h.8M394.5 311.1h.8M402.4 299.4h.8M394.3 299.1h.8M398.1 292.9h.8M393.8 290.3h.8M393.3 300.8h.8M397.6 300.3h.8M389.6 299.1h.8M391.2 289.3h.8M404.4 275.9h.8M379.0 297.4h.8M399.7 308.1h.8M406.8 303.6h.8M388.1 313.0h.8M383.2 314.3h.8M404.1 296.6h.8M394.8 289.0h.8M415.2 302.6h.8M400.6 294.9h.8M402.1 295.1h.8M397.0 294.7h.8M399.6 284.3h.8M403.3 295.4h.8M386.9 315.0h.8M386.4 310.7h.8M392.2 291.0h.8M388.2 287.4h.8M405.6 304.7h.8M399.3 305.7h.8M394.0 289.2h.8M398.6 293.6h.8M396.6 314.9h.8M400.6 292.3h.8M396.5 295.7h.8M405.9 291.8h.8M396.0 302.2h.8M404.8 291.0h.8M412.6 293.2h.8M402.8 291.2h.8M397.7 292.9h.8M397.1 283.5h.8M386.0 309.2h.8M403.6 310.3h.8M399.9 300.5h.8M401.6 304.4h.8M394.7 302.7h.8M399.8 298.3h.8M380.5 294.4h.8M396.1 295.5h.8M391.0 286.7h.8M388.4 298.2h.8M396.4 294.5h.8M406.6 286.8h.8M405.8 283.4h.8M399.1 296.6h.8M396.0 298.0h.8M383.9 312.4h.8M402.8 288.5h.8M400.7 293.8h.8M397.6 290.7h.8M385.7 307.8h.8M398.2 295.2h.8M404.1 304.1h.8M398.2 306.7h.8M419.7 282.6h.8M397.6 314.2h.8M389.7 289.9h.8M390.4 298.6h.8M406.7 285.3h.8M415.6 270.5h.8M416.6 267.5h.8M410.5 267.6h.8M419.3 266.8h.8M414.6 269.6h.8M416.1 269.0h.8M419.3 269.0h.8M425.6 269.8h.8M415.9 268.4h.8M419.1 269.2h.8M413.8 269.6h.8M418.9 268.1h.8M424.1 267.7h.8M418.8 268.4h.8M418.8 269.8h.8M417.6 269.2h.8M416.8 269.1h.8M419.2 269.4h.8M425.0 270.2h.8M423.5 269.7h.8M419.1 270.3h.8M418.9 267.5h.8M415.4 269.2h.8M418.6 268.9h.8M415.7 270.0h.8M418.2 266.7h.8M420.4 268.9h.8M413.0 269.6h.8M419.4 270.4h.8M419.4 268.7h.8M418.4 266.8h.8M415.8 269.5h.8M419.9 267.2h.8M418.4 270.7h.8M421.1 267.3h.8M417.5 266.7h.8M426.5 267.8h.8M421.3 268.3h.8M420.9 269.1h.8M419.7 267.9h.8M420.6 269.6h.8M415.8 270.2h.8M416.4 264.5h.8M422.4 268.2h.8M418.2 266.7h.8M414.2 269.4h.8M421.1 268.9h.8M420.1 267.7h.8M417.3 268.3h.8M423.8 267.7h.8M419.3 267.3h.8M414.6 267.5h.8M413.1 270.3h.8M422.2 268.8h.8M415.0 268.7h.8M423.1 268.8h.8M412.1 267.1h.8M417.1 268.9h.8M419.4 268.3h.8M420.1 270.1h.8M416.9 267.6h.8M413.6 267.3h.8M416.7 269.2h.8M414.9 269.5h.8M415.4 268.9h.8M415.7 269.4h.8M411.6 268.2h.8M414.9 269.6h.8M418.3 268.1h.8M417.3 266.9h.8M423.7 269.5h.8M424.3 270.5h.8M419.9 269.1h.8M418.7 269.4h.8M419.9 268.3h.8M419.4 270.2h.8M415.2 270.7h.8M417.7 268.6h.8M424.7 269.4h.8M416.1 268.4h.8M416.3 270.7h.8M418.7 270.2h.8M417.8 266.5h.8M420.5 268.2h.8M417.1 267.7h.8M420.4 267.5h.8M419.1 268.9h.8M415.7 270.0h.8M418.4 269.2h.8M418.6 269.0h.8M413.5 265.7h.8M419.6 269.2h.8M415.0 267.5h.8M417.8 270.0h.8M420.3 266.2h.8M420.1 267.1h.8M416.7 267.8h.8M412.9 269.3h.8M421.6 268.0h.8M422.7 269.2h.8M413.9 268.8h.8M415.7 267.7h.8M418.0 272.0h.8M423.8 270.2h.8M414.8 266.5h.8M423.8 267.3h.8M415.6 268.4h.8M419.6 269.7h.8M418.6 269.1h.8M420.1 270.3h.8M421.7 270.9h.8M420.0 267.7h.8M416.8 269.5h.8M425.7 268.8h.8M423.5 267.5h.8M416.2 267.8h.8M417.7 268.4h.8M412.4 269.0h.8M422.9 267.1h.8M422.0 268.8h.8M419.0 270.1h.8M418.4 269.0h.8M417.9 268.7h.8M418.0 269.9h.8M416.3 268.2h.8M424.9 267.4h.8M417.9 265.5h.8M420.6 269.3h.8M420.8 267.2h.8M413.1 270.9h.8M420.0 270.5h.8M414.5 267.5h.8M409.8 268.0h.8M419.8 267.3h.8M418.7 267.0h.8M419.1 270.2h.8M418.3 268.5h.8M413.7 267.8h.8M415.7 268.5h.8M418.3 268.9h.8M418.6 268.7h.8M421.7 267.9h.8M417.5 268.7h.8M422.9 267.6h.8M421.4 268.6h.8M418.4 268.9h.8M421.3 268.7h.8M423.5 264.7h.8M419.1 266.5h.8M422.2 267.0h.8M416.9 267.2h.8M418.1 268.1h.8M423.2 266.4h.8M417.6 269.3h.8M416.6 271.3h.8M418.2 269.2h.8M419.5 268.9h.8M420.3 267.5h.8M412.2 266.6h.8M418.3 269.4h.8M418.6 267.5h.8M419.8 268.1h.8M422.8 268.5h.8M420.5 267.9h.8M416.8 267.4h.8M417.6 268.0h.8M417.7 268.9h.8M418.3 267.4h.8M421.8 267.4h.8M418.7 269.7h.8M415.5 268.2h.8M418.8 266.5h.8M426.7 267.2h.8M421.4 266.5h.8M425.3 269.1h.8M421.9 266.3h.8M411.4 269.3h.8M420.4 269.5h.8M421.9 270.7h.8M424.4 266.7h.8M419.7 267.6h.8M414.4 266.7h.8M421.8 268.9h.8M417.4 270.1h.8M418.3 271.7h.8M420.9 268.8h.8M416.4 268.4h.8M420.3 268.0h.8M421.4 267.0h.8M421.1 266.5h.8M417.9 266.6h.8M412.4 271.2h.8M415.6 268.5h.8M421.4 270.2h.8M418.8 269.4h.8M421.9 269.9h.8M422.1 268.6h.8M425.2 267.5h.8M417.6 268.1h.8M420.9 269.6h.8M419.7 270.3h.8M427.6 269.0h.8M417.6 266.6h.8M423.8 269.6h.8M422.9 267.6h.8M417.3 268.3h.8M417.7 267.5h.8M418.4 270.1h.8M418.1 265.7h.8M417.2 268.8h.8M422.5 270.3h.8M425.4 270.8h.8M421.6 270.6h.8M419.4 266.8h.8M419.1 269.1h.8M417.6 270.1h.8M422.4 269.1h.8M416.9 268.4h.8M422.5 267.2h.8M416.9 269.8h.8M422.1 266.7h.8M415.1 266.7h.8M418.8 267.6h.8M425.3 268.5h.8M420.1 270.5h.8M411.7 268.7h.8M416.0 270.2h.8M421.1 267.4h.8M413.9 268.4h.8M419.5 268.2h.8M419.8 267.8h.8M416.9 270.4h.8M420.6 266.7h.8M419.1 266.6h.8M421.6 270.2h.8M411.6 269.5h.8M423.0 269.5h.8M426.9 267.3h.8M414.3 269.9h.8M424.0 266.2h.8M416.5 268.7h.8M421.4 269.1h.8M421.2 266.0h.8M416.6 267.9h.8M422.7 266.7h.8M418.5 267.6h.8M417.3 268.4h.8M415.7 268.3h.8M421.5 265.9h.8M423.1 269.4h.8M409.0 267.4h.8M422.9 268.9h.8M417.7 267.8h.8M419.0 266.5h.8M420.4 269.8h.8M413.8 268.7h.8M420.3 269.2h.8M415.7 269.4h.8M421.9 269.0h.8M416.1 267.8h.8M423.9 269.1h.8M418.2 270.0h.8M419.0 267.8h.8M420.8 267.2h.8M422.5 267.7h.8M421.1 270.0h.8M423.5 268.4h.8M421.5 270.5h.8M418.5 268.2h.8M416.6 268.8h.8M421.1 270.6h.8M417.1 271.0h.8M415.5 269.8h.8M418.8 267.2h.8M417.0 268.8h.8M417.1 268.7h.8M421.6 267.2h.8M417.1 270.5h.8M420.4 269.2h.8M414.6 267.7h.8M420.4 267.1h.8M415.4 269.2h.8M420.8 266.4h.8M420.0 269.9h.8M420.3 268.0h.8M417.1 267.1h.8M419.2 269.4h.8M421.9 267.4h.8M418.5 268.5h.8M420.1 268.9h.8M418.5 267.4h.8M421.6 269.1h.8M415.6 270.6h.8M422.3 270.0h.8M416.8 268.7h.8M417.7 269.8h.8M413.2 267.5h.8M417.3 268.6h.8M420.1 270.1h.8M416.5 267.4h.8M420.3 268.9h.8M424.1 269.6h.8M419.6 268.9h.8M418.3 271.1h.8M419.2 268.2h.8M413.4 268.3h.8M421.0 266.7h.8M415.7 269.2h.8M417.7 268.9h.8M419.7 267.6h.8M422.0 269.1h.8M419.0 270.8h.8M421.8 267.9h.8M422.8 270.3h.8M423.5 269.5h.8M414.4 268.7h.8M416.7 266.0h.8M420.5 266.4h.8M418.7 268.7h.8M421.9 269.8h.8M418.1 268.0h.8M420.9 266.6h.8M420.0 271.4h.8M421.7 269.1h.8M421.2 269.6h.8M417.8 268.4h.8M425.2 267.7h.8M415.2 268.5h.8M417.1 268.1h.8M425.6 268.9h.8M418.2 267.9h.8M420.5 269.0h.8M421.3 269.0h.8M419.8 265.5h.8M419.7 267.9h.8M422.1 269.1h.8M421.0 269.3h.8M415.6 269.0h.8M424.4 267.5h.8M416.2 268.5h.8M422.0 268.4h.8M417.6 269.1h.8M417.1 267.7h.8M420.2 268.3h.8M419.2 265.9h.8M420.0 266.9h.8M414.7 271.0h.8M413.7 270.0h.8M421.0 269.9h.8M420.0 269.4h.8M422.3 267.8h.8M417.8 271.1h.8M419.5 271.7h.8M409.9 267.4h.8M419.3 267.4h.8M419.7 267.9h.8M419.5 269.9h.8M416.1 269.2h.8M419.3 268.8h.8M418.9 269.5h.8M419.3 269.3h.8M423.7 269.5h.8M413.4 269.2h.8M424.1 270.2h.8M420.2 264.7h.8M420.0 269.4h.8M418.0 270.4h.8M417.2 268.9h.8M425.8 266.9h.8M418.7 269.6h.8M422.7 267.7h.8M417.5 266.2h.8M425.8 268.1h.8M418.4 268.1h.8M427.0 268.3h.8M423.8 269.3h.8M419.6 269.0h.8M417.1 268.1h.8M416.5 270.5h.8M418.0 270.5h.8M421.4 269.8h.8M418.3 267.4h.8M419.5 268.0h.8M421.1 268.7h.8M415.6 268.4h.8M418.7 266.8h.8M419.0 270.2h.8M416.5 269.4h.8M420.9 267.3h.8M419.5 266.9h.8M423.4 269.7h.8M422.4 270.9h.8M424.1 269.0h.8M423.2 268.7h.8M422.7 268.6h.8M419.7 268.1h.8M417.6 270.8h.8M421.3 269.8h.8M419.0 268.7h.8M411.7 266.1h.8M421.4 266.2h.8M420.3 268.3h.8M406.4 269.7h.8M413.3 270.7h.8M420.8 269.2h.8M413.6 269.2h.8M418.6 269.4h.8M424.3 267.4h.8M418.1 269.5h.8M422.3 268.1h.8M419.6 268.5h.8M416.9 268.9h.8M418.6 266.8h.8M422.8 268.9h.8M424.6 268.8h.8M421.4 267.5h.8M417.0 267.9h.8M422.1 267.6h.8M419.2 272.3h.8M426.4 268.3h.8M420.1 269.9h.8M420.4 265.3h.8M414.7 267.4h.8M419.4 266.8h.8M422.9 267.8h.8M416.4 269.9h.8M421.3 269.2h.8M420.5 268.8h.8M418.8 269.5h.8M421.4 268.4h.8M418.6 268.8h.8M422.1 270.8h.8M420.9 269.6h.8M418.7 270.3h.8M426.8 271.0h.8M419.9 267.0h.8M419.0 271.7h.8M417.5 267.1h.8M420.9 270.4h.8M424.0 268.2h.8M420.4 271.5h.8M420.4 270.4h.8M421.5 267.5h.8M415.9 269.6h.8M425.2 269.2h.8M417.1 267.9h.8M418.6 269.0h.8M420.9 267.8h.8M421.6 268.2h.8M423.8 268.4h.8M424.4 268.5h.8M419.5 267.3h.8M416.6 271.4h.8M414.8 267.0h.8M415.0 269.1h.8M419.5 267.8h.8M419.4 270.5h.8M417.4 268.2h.8M421.5 268.0h.8M417.5 271.2h.8M422.9 268.5h.8M420.6 267.6h.8M418.0 269.4h.8M424.0 267.0h.8M415.3 269.3h.8M417.5 268.1h.8M420.6 269.2h.8M420.9 267.1h.8M419.4 269.9h.8M422.9 269.9h.8M416.9 267.6h.8M419.3 268.6h.8M417.2 269.6h.8M423.6 266.7h.8M415.9 269.0h.8M417.9 269.2h.8M414.1 267.3h.8M415.6 267.7h.8M416.9 270.5h.8M424.0 269.0h.8M420.2 268.2h.8M419.1 267.3h.8M422.6 269.4h.8M416.4 268.0h.8M424.4 271.5h.8M415.6 269.3h.8M422.7 267.7h.8M418.4 267.4h.8M413.9 269.1h.8M417.9 267.3h.8M422.3 267.5h.8M418.4 268.3h.8M420.3 269.0h.8M418.7 270.6h.8M419.9 267.3h.8M419.4 270.6h.8M421.2 268.6h.8M420.5 269.1h.8M418.4 267.6h.8M420.1 269.9h.8M415.7 270.0h.8M416.4 268.3h.8M420.6 269.8h.8M423.2 268.4h.8M425.5 267.9h.8M421.6 267.0h.8M417.3 267.8h.8M420.5 268.3h.8M421.9 270.4h.8M421.0 268.8h.8M423.6 267.8h.8M420.4 268.2h.8M421.3 268.7h.8M414.1 268.7h.8M419.7 268.1h.8M410.9 271.2h.8M417.5 269.7h.8M421.7 268.3h.8M418.6 268.8h.8M422.1 267.5h.8M417.6 269.1h.8M426.3 268.4h.8M415.0 268.0h.8M418.4 266.8h.8M416.5 267.3h.8M423.5 268.0h.8M411.4 268.2h.8M423.5 269.1h.8M418.6 270.9h.8M423.4 266.4h.8M420.4 269.1h.8M418.2 270.1h.8M424.2 267.3h.8M419.8 269.7h.8M417.7 268.2h.8M422.8 269.7h.8M416.3 272.4h.8M420.0 270.8h.8M423.3 267.8h.8M421.5 267.9h.8M422.2 267.8h.8M419.5 268.1h.8M417.1 268.6h.8M419.4 270.6h.8M418.3 268.9h.8M419.4 268.7h.8M417.3 267.7h.8M415.6 270.9h.8M415.4 268.2h.8M424.6 267.8h.8M418.8 269.8h.8M419.9 268.2h.8M414.2 268.0h.8M415.8 270.0h.8M423.7 268.8h.8M421.1 267.3h.8M425.4 266.3h.8M417.9 268.2h.8M418.3 267.3h.8M420.3 268.2h.8M410.8 270.5h.8M411.3 285.9h.8M414.0 276.3h.8M415.9 289.3h.8M416.1 277.4h.8M406.9 297.2h.8M400.5 289.8h.8M408.4 292.6h.8M419.0 270.9h.8M413.0 291.2h.8M408.9 290.9h.8M412.4 277.2h.8M413.3 283.0h.8M413.3 279.6h.8M410.8 289.1h.8M412.8 300.7h.8M413.1 274.4h.8M411.7 272.6h.8M407.6 285.4h.8M413.8 275.4h.8M408.9 287.8h.8M415.7 281.4h.8M412.2 286.5h.8M406.5 288.1h.8M409.5 283.5h.8M411.9 290.6h.8M418.7 277.2h.8M418.5 276.1h.8M408.8 283.2h.8M413.8 274.8h.8M409.9 281.8h.8M406.3 285.0h.8M412.0 282.7h.8M417.6 270.4h.8M407.5 271.4h.8M412.8 278.3h.8M408.2 288.4h.8M412.7 294.4h.8M413.3 291.7h.8M409.4 284.5h.8M413.3 288.3h.8M410.6 284.1h.8M418.0 272.8h.8M407.1 283.7h.8M413.9 284.2h.8M414.6 282.9h.8M405.6 286.2h.8M414.2 281.2h.8M414.0 290.6h.8M416.6 269.6h.8M413.9 289.0h.8M404.9 293.2h.8M409.7 279.0h.8M405.9 286.8h.8M411.9 291.9h.8M404.1 283.6h.8M416.0 279.0h.8M414.8 272.8h.8M415.0 283.0h.8M412.1 285.0h.8M413.1 279.8h.8M414.5 282.7h.8M415.6 282.7h.8M419.9 272.5h.8M415.9 282.9h.8M414.4 284.3h.8M406.5 292.3h.8M411.3 283.1h.8M406.5 282.3h.8M411.6 281.3h.8M413.4 277.2h.8M420.1 273.8h.8M416.6 287.9h.8M410.6 275.5h.8M406.2 282.8h.8M409.3 283.5h.8M413.6 280.7h.8M417.6 285.1h.8M406.4 285.6h.8M405.4 287.9h.8M408.0 281.9h.8M418.1 278.5h.8M411.4 278.2h.8M412.4 278.5h.8M404.8 291.2h.8M416.8 274.9h.8M414.9 271.4h.8M409.1 290.4h.8M411.0 278.6h.8M412.5 275.8h.8M415.4 285.0h.8M407.8 288.6h.8M415.9 278.4h.8M415.2 269.8h.8M409.4 279.2h.8M415.5 276.2h.8M413.3 270.3h.8M413.8 278.3h.8M418.7 274.4h.8M411.9 280.2h.8M410.8 279.3h.8M417.9 277.1h.8M411.1 283.8h.8M407.3 288.5h.8M410.5 286.8h.8M416.5 277.3h.8M417.7 273.0h.8M415.4 276.9h.8M410.2 292.5h.8M413.4 278.3h.8M409.3 278.6h.8M414.9 274.9h.8M405.2 284.1h.8M413.7 282.5h.8M408.6 282.0h.8M405.7 288.0h.8M415.2 288.5h.8M417.8 268.8h.8M411.9 284.7h.8M412.9 276.8h.8M388.3 272.1h.8M403.5 269.8h.8M392.0 270.3h.8M399.2 271.9h.8M398.5 271.9h.8M389.0 263.7h.8M404.1 275.9h.8M388.1 269.8h.8M401.6 274.5h.8M404.3 275.5h.8M398.8 272.9h.8M402.5 270.4h.8M408.7 273.5h.8M406.9 270.6h.8M407.3 268.6h.8M402.3 264.0h.8M391.3 273.9h.8M395.7 272.2h.8M386.5 276.3h.8M403.9 271.6h.8M402.5 272.7h.8M410.3 272.3h.8M387.7 271.0h.8M409.3 273.4h.8M395.9 273.5h.8M400.1 273.5h.8M386.8 269.1h.8M404.4 271.0h.8M402.0 277.4h.8M396.8 272.4h.8M394.8 269.9h.8M398.6 267.4h.8M382.7 275.7h.8M398.4 275.0h.8M400.2 272.1h.8" stroke="#c00808" stroke-opacity="0.55" stroke-width="0.9" fill="none"/>
<line x1="360.6" y1="293" x2="360.6" y2="318" stroke="#f0a0a0" stroke-width="0.6"/>
<rect x="360.0" y="249.6" width="72.5" height="72.20000000000002" fill="none" stroke="#d0d0d0" stroke-width="1"/>
<line x1="409.2" y1="249.6" x2="409.2" y2="321.8" stroke="#858c8a" stroke-width="0.9"/>
<line x1="360.0" y1="278.1" x2="432.5" y2="278.1" stroke="#858c8a" stroke-width="0.9"/>
<text x="362.20" y="256.10" font-size="6.5" font-weight="bold" text-anchor="start" fill="#9a9a9a" >2.632%</text>
<text x="410.50" y="256.10" font-size="6.5" font-weight="bold" text-anchor="start" fill="#000" >29.9...</text>
<text x="362.00" y="319.90" font-size="6.5" font-weight="bold" text-anchor="start" fill="#cc2020" >65.637%</text>
<text x="410.50" y="319.90" font-size="6.5" font-weight="bold" text-anchor="start" fill="#ff10ff" >1.46...</text>
<text x="359.1" y="249.6" font-size="3.4" fill="#444" text-anchor="end">10<tspan font-size="2.2" dy="-1.2">0</tspan></text>
<text x="357.9" y="327.4" font-size="3.4" fill="#444">10<tspan font-size="2.2" dy="-1.2">0</tspan></text>
<line x1="359.8" y1="321.8" x2="359.8" y2="323.0" stroke="#aaa" stroke-width="0.6"/>
<text x="359.1" y="261.4" font-size="3.4" fill="#444" text-anchor="end">10<tspan font-size="2.2" dy="-1.2">1</tspan></text>
<text x="369.8" y="327.4" font-size="3.4" fill="#444">10<tspan font-size="2.2" dy="-1.2">1</tspan></text>
<line x1="371.67" y1="321.8" x2="371.67" y2="323.0" stroke="#aaa" stroke-width="0.6"/>
<text x="359.1" y="273.3" font-size="3.4" fill="#444" text-anchor="end">10<tspan font-size="2.2" dy="-1.2">2</tspan></text>
<text x="381.6" y="327.4" font-size="3.4" fill="#444">10<tspan font-size="2.2" dy="-1.2">2</tspan></text>
<line x1="383.54" y1="321.8" x2="383.54" y2="323.0" stroke="#aaa" stroke-width="0.6"/>
<text x="359.1" y="285.1" font-size="3.4" fill="#444" text-anchor="end">10<tspan font-size="2.2" dy="-1.2">3</tspan></text>
<text x="393.5" y="327.4" font-size="3.4" fill="#444">10<tspan font-size="2.2" dy="-1.2">3</tspan></text>
<line x1="395.41" y1="321.8" x2="395.41" y2="323.0" stroke="#aaa" stroke-width="0.6"/>
<text x="359.1" y="297.0" font-size="3.4" fill="#444" text-anchor="end">10<tspan font-size="2.2" dy="-1.2">4</tspan></text>
<text x="405.4" y="327.4" font-size="3.4" fill="#444">10<tspan font-size="2.2" dy="-1.2">4</tspan></text>
<line x1="407.28000000000003" y1="321.8" x2="407.28000000000003" y2="323.0" stroke="#aaa" stroke-width="0.6"/>
<text x="359.1" y="308.8" font-size="3.4" fill="#444" text-anchor="end">10<tspan font-size="2.2" dy="-1.2">5</tspan></text>
<text x="417.2" y="327.4" font-size="3.4" fill="#444">10<tspan font-size="2.2" dy="-1.2">5</tspan></text>
<line x1="419.15" y1="321.8" x2="419.15" y2="323.0" stroke="#aaa" stroke-width="0.6"/>
<text x="359.1" y="320.7" font-size="3.4" fill="#444" text-anchor="end">10<tspan font-size="2.2" dy="-1.2">6</tspan></text>
<text x="429.1" y="327.4" font-size="3.4" fill="#444">10<tspan font-size="2.2" dy="-1.2">6</tspan></text>
<line x1="431.02" y1="321.8" x2="431.02" y2="323.0" stroke="#aaa" stroke-width="0.6"/>
<text transform="translate(351.7,286.2) rotate(-90)" font-size="5" text-anchor="middle" fill="#111">PI-A</text>
<text x="396.2" y="335.6" font-size="5.05" text-anchor="middle" fill="#111">Annexin V-A</text>
<text x="246.00" y="345.70" font-size="7.1" font-weight="bold" text-anchor="middle" fill="#000" >Q171R</text>
<path d="M247.0 403.1h.8M254.1 398.6h.8M250.8 396.7h.8M239.5 407.4h.8M241.2 403.5h.8M245.5 401.3h.8M243.8 398.4h.8M251.0 397.2h.8M250.0 392.2h.8M243.7 399.7h.8M247.2 393.7h.8M245.9 398.8h.8M246.3 399.2h.8M240.4 403.9h.8M253.6 393.5h.8M247.6 399.6h.8M255.1 397.1h.8M247.2 399.0h.8M253.4 395.5h.8M250.9 402.4h.8M245.4 394.8h.8M244.6 397.3h.8M243.2 397.8h.8M247.1 398.3h.8M246.1 397.8h.8M249.6 396.6h.8M249.4 397.8h.8M242.4 392.7h.8M250.9 402.5h.8M247.8 401.7h.8M244.7 399.5h.8M253.4 397.2h.8M245.4 403.9h.8M246.9 401.5h.8M248.0 399.8h.8M248.0 400.1h.8M248.6 394.8h.8M244.7 400.1h.8M255.0 392.1h.8M259.1 397.0h.8M246.7 403.1h.8M246.5 394.4h.8M248.0 398.6h.8M250.0 397.3h.8M246.7 402.9h.8M245.0 390.7h.8M245.6 397.6h.8M250.0 404.7h.8M243.0 405.0h.8M248.0 406.7h.8M247.8 400.1h.8M244.6 401.8h.8M246.9 395.9h.8M245.7 397.8h.8M244.0 400.9h.8M245.8 406.8h.8M253.7 398.2h.8M251.9 401.5h.8M245.6 400.8h.8M243.8 400.0h.8M247.2 401.3h.8M248.7 399.9h.8M251.7 397.7h.8M252.5 397.2h.8M247.6 402.6h.8M256.4 405.2h.8M248.3 399.1h.8M253.1 400.7h.8M251.1 400.5h.8M250.9 397.3h.8M250.7 400.6h.8M246.0 396.4h.8M242.9 397.9h.8M252.0 398.5h.8M254.7 395.7h.8M246.2 396.0h.8M248.1 401.8h.8M248.6 397.3h.8M246.7 403.8h.8M245.5 397.5h.8M248.6 395.2h.8M246.6 403.0h.8M249.7 403.9h.8M247.2 397.7h.8M253.1 403.1h.8M254.1 394.1h.8M246.0 401.1h.8M243.1 409.5h.8M242.7 399.7h.8M244.8 400.2h.8M247.6 400.3h.8M250.2 399.7h.8M244.9 407.1h.8M241.8 395.6h.8M246.6 405.6h.8M246.6 397.9h.8M243.3 399.7h.8M242.2 399.4h.8M250.0 397.0h.8M251.6 395.4h.8M242.4 398.1h.8M243.1 401.1h.8M246.1 401.9h.8M247.3 397.1h.8M250.6 393.0h.8M253.5 401.4h.8M240.8 399.4h.8M245.4 402.7h.8M249.5 399.7h.8M243.5 400.7h.8M248.4 399.3h.8M250.6 397.3h.8M245.8 397.9h.8M250.5 398.0h.8M245.4 403.2h.8M251.6 399.0h.8M248.1 401.7h.8M241.5 401.0h.8M246.2 397.9h.8M254.7 402.0h.8M240.1 398.3h.8M244.6 399.7h.8M244.0 403.4h.8M248.1 399.6h.8M246.1 401.0h.8M247.5 398.8h.8M242.9 398.6h.8M246.9 399.5h.8M250.4 400.1h.8M250.1 395.1h.8M251.1 398.6h.8M248.7 398.5h.8M242.2 397.1h.8M244.0 399.3h.8M247.7 398.8h.8M246.6 404.0h.8M242.4 405.5h.8M247.4 397.2h.8M249.1 405.6h.8M244.8 399.4h.8M247.0 401.2h.8M245.3 398.1h.8M253.4 391.0h.8M244.6 403.4h.8M253.8 393.3h.8M257.5 399.1h.8M243.7 397.5h.8M242.9 400.3h.8M245.6 401.5h.8M252.3 397.9h.8M254.4 399.1h.8M244.5 397.5h.8M256.5 398.3h.8M239.9 401.1h.8M242.7 405.1h.8M247.6 398.9h.8M251.5 402.5h.8M242.3 395.8h.8M243.1 408.1h.8M249.6 395.7h.8M250.0 397.2h.8M246.6 401.5h.8M247.0 396.1h.8M244.4 402.1h.8M238.6 404.5h.8M245.0 402.3h.8M252.8 400.8h.8M244.7 398.0h.8M250.6 401.3h.8M254.2 399.5h.8M244.5 401.2h.8M247.4 408.1h.8M245.8 402.0h.8M245.3 408.9h.8M249.5 396.5h.8M246.8 398.2h.8M253.8 397.5h.8M247.2 400.3h.8M241.6 402.6h.8M248.0 400.3h.8M248.2 398.2h.8M244.9 402.1h.8M241.4 401.9h.8M243.1 396.9h.8M245.8 397.7h.8M245.0 405.7h.8M250.2 405.8h.8M244.6 405.9h.8M245.7 394.2h.8M246.4 398.8h.8M248.4 397.2h.8M255.8 398.5h.8M249.0 394.7h.8M241.5 397.5h.8M246.7 404.8h.8M245.5 396.2h.8M244.1 393.9h.8M243.2 404.1h.8M247.2 395.4h.8M249.2 405.2h.8M249.6 394.6h.8M254.1 396.2h.8M252.3 405.8h.8M246.5 398.4h.8M251.4 399.8h.8M253.9 396.7h.8M245.2 399.3h.8M252.5 399.7h.8M240.5 404.3h.8M249.9 405.7h.8M248.4 397.3h.8M250.5 395.8h.8M246.4 398.5h.8M245.5 393.7h.8M248.8 393.3h.8M244.0 400.5h.8M251.4 398.8h.8M243.6 399.6h.8M250.7 399.5h.8M244.0 398.8h.8M246.4 400.5h.8M241.7 401.0h.8M245.6 403.5h.8M252.9 399.4h.8M241.2 399.3h.8M238.4 403.0h.8M249.2 396.2h.8M246.3 403.6h.8M250.9 402.9h.8M249.4 404.5h.8M239.1 408.8h.8M253.9 390.9h.8M250.7 396.8h.8M243.9 397.0h.8M250.1 395.6h.8M241.3 392.7h.8M244.3 402.8h.8M248.0 400.5h.8M250.2 396.5h.8M246.7 405.7h.8M245.1 400.5h.8M253.0 400.6h.8M244.5 400.3h.8M251.7 390.9h.8M256.3 397.0h.8M244.7 398.5h.8M254.6 405.5h.8M240.0 400.2h.8M244.5 396.3h.8M253.0 394.9h.8M243.7 411.2h.8M246.1 399.0h.8M249.2 403.1h.8M247.0 390.5h.8M242.1 406.4h.8M242.8 405.4h.8M241.0 402.9h.8M249.6 405.3h.8M242.8 401.8h.8M242.7 400.9h.8M253.0 396.7h.8M245.0 406.4h.8M253.4 398.1h.8M243.9 400.8h.8M257.6 394.6h.8M245.7 403.9h.8M248.8 390.5h.8M246.1 405.0h.8M245.0 400.7h.8M244.6 399.6h.8M246.0 396.6h.8M245.3 399.5h.8M246.1 404.7h.8M254.5 402.0h.8M251.9 397.4h.8M247.1 406.5h.8M256.8 395.4h.8M247.1 407.4h.8M252.5 391.0h.8M246.4 398.3h.8M241.2 402.3h.8M244.8 405.1h.8M249.2 392.6h.8M248.9 398.6h.8M243.6 402.5h.8M240.2 398.6h.8M256.0 389.2h.8M244.8 400.3h.8M251.5 397.7h.8M240.8 405.7h.8M247.3 395.3h.8M240.9 405.9h.8M248.4 404.9h.8M241.4 400.8h.8M246.4 405.0h.8M248.3 404.0h.8M248.8 397.8h.8M250.8 400.1h.8M250.3 398.7h.8M250.4 396.0h.8M248.1 398.4h.8M246.3 399.7h.8M242.5 393.7h.8M242.1 401.7h.8M245.8 396.9h.8M241.7 400.6h.8M248.7 404.5h.8M245.1 408.1h.8M242.1 398.7h.8M246.2 407.0h.8M246.6 404.6h.8M245.6 398.7h.8M247.1 406.5h.8M252.9 398.9h.8M248.7 402.9h.8M249.2 403.6h.8M246.2 405.4h.8M253.7 397.6h.8M244.1 397.1h.8M241.4 398.6h.8M248.7 407.1h.8M251.2 400.7h.8M247.4 403.0h.8M253.0 397.2h.8M248.7 402.2h.8M250.0 402.8h.8M248.1 402.5h.8M243.3 404.7h.8M244.6 403.7h.8M244.2 400.2h.8M247.9 405.5h.8M249.5 401.7h.8M243.0 398.5h.8M249.5 404.5h.8M244.1 393.9h.8M244.9 399.0h.8M241.1 405.8h.8M245.6 398.4h.8M245.0 399.3h.8M249.8 397.0h.8M253.1 400.8h.8M250.6 396.2h.8M245.8 394.3h.8M236.6 399.8h.8M239.0 400.9h.8M252.7 406.0h.8M250.3 389.9h.8M243.5 404.5h.8M248.8 398.2h.8M250.5 397.3h.8M241.6 403.7h.8M249.8 403.5h.8M239.5 404.7h.8M244.8 399.5h.8M248.2 397.0h.8M244.7 393.6h.8M251.5 392.0h.8M249.9 403.5h.8M248.4 397.9h.8M247.0 403.9h.8M247.4 399.5h.8M240.5 405.0h.8M244.6 394.3h.8M245.2 400.7h.8M240.4 405.1h.8M247.0 404.9h.8M238.7 401.8h.8M242.3 404.9h.8M246.7 398.9h.8M247.5 397.9h.8M255.7 394.0h.8M244.6 397.8h.8M253.2 405.6h.8M245.0 400.2h.8M239.9 403.3h.8M246.3 398.1h.8M249.8 401.1h.8M243.5 399.9h.8M247.8 399.8h.8M248.4 398.6h.8M247.6 395.9h.8M244.4 397.5h.8M245.4 400.8h.8M248.5 395.6h.8M248.3 398.1h.8M246.3 399.8h.8M253.5 400.9h.8M244.7 403.1h.8M245.1 403.7h.8M248.2 399.4h.8M241.5 410.7h.8M243.0 402.2h.8M251.0 407.5h.8M248.6 404.0h.8M244.9 405.5h.8M242.9 405.4h.8M244.1 399.9h.8M239.8 408.9h.8M250.3 403.8h.8M248.7 398.5h.8M249.6 397.6h.8M249.7 400.1h.8M246.1 398.1h.8M247.8 398.8h.8M251.1 400.7h.8M245.5 402.4h.8M252.1 397.6h.8M251.6 396.5h.8M245.6 398.6h.8M248.0 395.7h.8M240.2 405.6h.8M250.2 401.7h.8M248.5 403.9h.8M248.2 393.5h.8M236.9 410.1h.8M248.5 399.5h.8M241.2 400.0h.8M246.2 400.8h.8M245.6 402.5h.8M246.6 396.2h.8M257.1 394.9h.8M250.7 394.4h.8M241.0 404.0h.8M244.8 401.3h.8M245.1 402.2h.8M252.1 401.8h.8M244.7 395.8h.8M249.5 400.3h.8M252.6 398.5h.8M250.1 407.6h.8M250.8 399.6h.8M251.2 393.8h.8M247.9 401.3h.8M247.1 399.6h.8M247.9 397.0h.8M247.6 402.3h.8M247.7 404.4h.8M239.1 399.1h.8M248.4 398.0h.8M251.8 400.6h.8M244.6 402.0h.8M250.0 403.5h.8M247.5 398.1h.8M245.6 403.9h.8M243.8 405.2h.8M243.5 400.9h.8M250.0 397.1h.8M256.3 392.9h.8M244.4 403.1h.8M250.6 402.0h.8M249.7 402.3h.8M242.3 408.4h.8M245.6 404.0h.8M247.1 401.4h.8M249.7 402.8h.8M251.4 394.4h.8M243.1 399.9h.8M245.8 397.9h.8M248.0 403.4h.8M244.0 405.6h.8M250.0 398.4h.8M249.0 405.2h.8M254.6 394.4h.8M254.5 396.2h.8M247.1 402.5h.8M245.5 403.6h.8M250.0 398.9h.8M243.3 403.3h.8M244.1 397.0h.8M242.4 402.2h.8M248.3 396.6h.8M249.2 396.7h.8M245.3 405.8h.8M246.5 408.0h.8M251.1 398.4h.8M248.3 410.2h.8M247.9 392.1h.8M244.9 400.5h.8M251.1 397.9h.8M244.0 391.9h.8M247.6 400.2h.8M247.6 404.2h.8M246.0 399.9h.8M245.1 393.8h.8M251.0 401.1h.8M250.3 407.0h.8M243.2 395.1h.8M247.2 405.0h.8M246.7 392.4h.8M248.5 402.1h.8M249.7 395.7h.8M246.6 394.6h.8M251.5 396.3h.8M246.7 397.1h.8M259.4 396.3h.8M249.7 396.7h.8M251.6 397.4h.8M252.0 395.6h.8M250.0 401.6h.8M248.9 395.0h.8M253.1 404.4h.8M252.4 396.1h.8M249.9 398.7h.8M245.6 402.2h.8M247.1 401.4h.8M248.4 397.6h.8M251.3 394.0h.8M248.9 396.9h.8M245.9 403.0h.8M248.5 404.0h.8M255.5 393.7h.8M247.0 399.5h.8M252.5 397.2h.8M246.3 405.9h.8M249.0 401.2h.8M248.9 407.1h.8M243.8 403.9h.8M247.3 400.5h.8M245.3 399.3h.8M243.1 400.5h.8M250.5 398.3h.8M248.3 397.5h.8M255.5 395.5h.8M246.9 399.5h.8M246.3 401.7h.8M254.3 402.7h.8M251.0 400.9h.8M240.1 403.8h.8M244.9 398.1h.8M243.2 402.2h.8M253.8 399.7h.8M242.2 400.4h.8M244.1 403.9h.8M243.2 412.3h.8M248.2 397.5h.8M250.2 397.5h.8M248.9 401.8h.8M243.3 396.4h.8M253.2 400.8h.8M243.3 402.9h.8M247.2 399.0h.8M243.0 395.7h.8M242.9 400.9h.8M240.5 394.0h.8M249.8 403.8h.8M257.7 396.8h.8M244.0 399.4h.8M254.9 397.9h.8M247.9 402.1h.8M246.0 397.0h.8M242.2 400.1h.8M240.3 398.4h.8M246.4 393.4h.8M238.9 399.4h.8M252.3 398.0h.8M251.9 405.9h.8M243.1 406.9h.8M240.6 397.4h.8M249.1 396.3h.8M244.3 395.9h.8M247.9 394.9h.8M245.0 404.1h.8M247.5 398.1h.8M244.6 399.0h.8M243.7 394.7h.8M247.5 404.2h.8M247.3 402.1h.8M251.2 406.0h.8M243.3 397.1h.8M252.2 398.4h.8M245.9 404.9h.8M245.1 402.8h.8M250.0 393.5h.8M251.7 393.3h.8M251.6 395.9h.8M242.9 394.4h.8M246.9 403.9h.8M251.8 395.9h.8M244.3 401.2h.8M245.1 402.8h.8M244.4 403.5h.8M249.0 400.5h.8M245.4 402.8h.8M246.6 396.4h.8M246.9 397.2h.8M247.0 400.8h.8M247.5 399.5h.8M250.6 404.2h.8M242.1 402.0h.8M245.1 400.2h.8M246.9 398.8h.8M245.7 394.4h.8M255.2 392.7h.8M241.3 401.1h.8M244.7 400.3h.8M244.3 398.5h.8M247.6 398.7h.8M255.0 393.0h.8M241.4 393.1h.8M245.1 401.6h.8M247.5 401.2h.8M245.8 395.7h.8M247.5 397.2h.8M245.0 411.1h.8M247.7 397.1h.8M247.6 402.1h.8M246.8 395.0h.8M243.9 408.2h.8M247.6 390.5h.8M250.3 397.7h.8M244.7 400.5h.8M252.7 395.2h.8M245.4 401.5h.8M250.2 399.6h.8M244.6 396.6h.8M243.7 396.7h.8M245.4 403.8h.8M250.8 397.1h.8M238.0 398.1h.8M251.8 403.3h.8M251.6 394.4h.8M251.5 395.1h.8M250.5 388.1h.8M249.2 398.3h.8M247.1 401.9h.8M245.4 405.0h.8M242.5 399.4h.8M255.8 407.2h.8M242.3 408.8h.8M247.4 404.4h.8M253.4 403.3h.8M248.2 398.3h.8M235.2 401.1h.8M241.7 396.4h.8M249.0 397.4h.8M248.8 399.0h.8M249.3 397.0h.8M249.9 394.9h.8M253.2 397.0h.8M253.0 397.4h.8M247.7 397.6h.8M243.8 403.6h.8M254.4 395.0h.8M257.0 391.2h.8M244.9 394.8h.8M246.2 399.1h.8M239.8 404.8h.8M244.7 409.3h.8M247.0 395.6h.8M242.7 403.4h.8M246.1 399.5h.8M250.1 394.9h.8M246.3 392.7h.8M252.7 403.3h.8M242.0 404.6h.8M248.1 401.4h.8M243.8 404.7h.8M247.7 397.1h.8M250.3 409.9h.8M243.9 392.4h.8M244.5 402.0h.8M250.0 403.3h.8M243.6 396.4h.8M253.3 393.3h.8M251.6 396.7h.8M250.3 394.7h.8M250.9 394.0h.8M250.2 399.8h.8M242.5 403.4h.8M255.0 402.0h.8M247.6 402.4h.8M249.1 405.3h.8M245.8 404.6h.8M242.6 399.9h.8M248.9 397.4h.8M247.0 400.0h.8M246.3 400.7h.8M244.4 394.1h.8M246.1 403.8h.8M251.3 398.2h.8M246.2 401.1h.8M249.9 390.7h.8M253.3 401.9h.8M249.0 396.0h.8M249.5 394.9h.8M240.8 395.4h.8M257.9 392.4h.8M245.5 398.2h.8M246.7 405.2h.8M253.4 392.6h.8M242.0 401.4h.8M250.7 401.1h.8M245.0 395.7h.8M246.0 394.0h.8M241.0 396.9h.8M239.8 398.6h.8M243.3 396.0h.8M250.9 401.3h.8M247.0 406.6h.8M247.8 399.6h.8M248.1 402.0h.8M251.3 401.2h.8M249.1 403.6h.8M247.5 402.9h.8M248.5 396.3h.8M250.5 394.8h.8M249.9 401.3h.8M259.6 404.0h.8M250.9 402.5h.8M237.4 396.4h.8M251.9 402.6h.8M256.9 393.9h.8M248.9 395.5h.8M241.7 395.5h.8M244.9 398.6h.8M251.4 399.1h.8M237.0 411.7h.8M245.3 401.3h.8M250.2 398.0h.8M242.9 405.0h.8M243.8 401.9h.8M234.9 403.4h.8M246.8 402.9h.8M243.5 397.6h.8M250.2 395.4h.8M243.8 396.8h.8M252.1 397.7h.8M242.5 401.4h.8M247.6 395.5h.8M240.6 408.7h.8M250.0 402.0h.8M243.0 409.9h.8M251.5 394.8h.8M247.6 397.4h.8M250.1 394.7h.8M251.5 397.0h.8M243.4 396.1h.8M251.4 392.9h.8M246.4 402.9h.8M238.8 390.8h.8M246.9 396.1h.8M245.1 395.3h.8M246.9 396.5h.8M240.4 410.0h.8M247.7 398.8h.8M248.1 399.7h.8M248.5 398.2h.8M246.1 405.0h.8M249.7 404.0h.8M244.0 397.7h.8M251.0 392.2h.8M248.5 400.4h.8M242.3 401.5h.8M251.8 399.0h.8M242.2 402.1h.8M249.7 404.2h.8M246.1 400.4h.8M257.3 396.4h.8M245.5 401.9h.8M245.5 394.8h.8M247.3 399.0h.8M240.6 399.9h.8M242.7 404.3h.8M240.9 400.8h.8M249.3 403.8h.8M243.0 396.1h.8M249.7 399.9h.8M247.9 391.4h.8M244.0 397.8h.8M242.0 398.7h.8M251.1 391.7h.8M240.2 402.1h.8M247.9 400.2h.8M253.1 399.4h.8M247.8 401.3h.8M248.0 389.7h.8M255.5 390.3h.8M249.8 400.7h.8M241.8 403.6h.8M249.2 399.9h.8M240.2 402.3h.8M244.6 400.9h.8M250.4 400.6h.8M247.0 394.3h.8M245.0 401.6h.8M247.7 398.4h.8M244.7 400.2h.8M245.9 403.1h.8M245.8 407.6h.8M244.0 401.8h.8M245.3 398.4h.8M237.6 408.1h.8M249.0 404.9h.8M249.4 393.1h.8M245.9 395.8h.8M249.9 394.2h.8M245.0 405.6h.8M247.2 399.8h.8M254.3 396.1h.8M243.1 398.2h.8M246.1 399.8h.8M246.3 395.4h.8M246.9 395.0h.8M246.7 402.0h.8M245.7 400.2h.8M253.8 403.6h.8M256.2 396.8h.8M246.3 400.9h.8M248.3 397.4h.8M247.4 392.3h.8M243.3 395.0h.8M247.4 405.2h.8M254.1 384.7h.8M246.9 401.0h.8M248.0 401.1h.8M247.1 404.3h.8M241.6 405.4h.8M240.3 398.2h.8M244.5 396.1h.8M248.8 410.1h.8M242.1 398.0h.8M247.6 399.4h.8M249.4 403.1h.8M237.3 395.8h.8M241.6 402.7h.8M252.7 401.6h.8M244.5 395.3h.8M251.6 395.6h.8M248.2 406.4h.8M246.5 397.9h.8M240.9 403.6h.8M243.2 404.9h.8M245.9 399.8h.8M245.1 399.4h.8M249.0 397.2h.8M250.1 398.4h.8M246.3 399.3h.8M247.3 398.4h.8M241.7 405.2h.8M248.3 397.0h.8M244.6 401.3h.8M247.0 398.5h.8M247.7 401.2h.8M241.6 396.8h.8M243.8 389.5h.8M247.5 405.1h.8M243.5 404.2h.8M243.5 403.2h.8M243.6 395.3h.8M248.2 395.6h.8M248.2 413.7h.8M251.6 397.7h.8M240.9 397.4h.8M254.9 383.6h.8M255.1 387.7h.8M246.7 397.3h.8M250.1 400.4h.8M257.4 397.0h.8M258.5 387.8h.8M240.0 398.1h.8M260.8 391.2h.8M255.0 398.3h.8M241.2 404.5h.8M251.3 403.9h.8M239.4 397.3h.8M248.1 403.0h.8M246.1 401.5h.8M247.0 397.6h.8M246.2 385.8h.8M235.6 403.9h.8M237.8 393.5h.8M241.5 396.3h.8M221.0 414.9h.8M257.8 397.0h.8M228.5 396.9h.8M249.0 405.2h.8M258.4 394.0h.8M245.4 390.7h.8M246.8 394.5h.8M267.0 400.3h.8M246.1 392.4h.8M240.3 404.7h.8M236.0 407.1h.8M244.6 402.0h.8M244.4 399.3h.8M255.4 406.5h.8M248.7 391.8h.8M251.7 399.5h.8M248.3 406.4h.8M257.1 391.1h.8M246.4 396.6h.8M236.0 390.8h.8M245.4 401.7h.8M256.0 388.8h.8M234.0 408.0h.8M241.4 402.2h.8M247.8 389.1h.8M255.6 402.7h.8M237.5 401.4h.8M239.0 405.5h.8M253.4 396.4h.8M245.3 385.3h.8M228.8 399.3h.8M235.5 395.6h.8M245.8 398.0h.8M239.1 385.6h.8M247.1 398.2h.8M252.4 392.6h.8M236.3 402.6h.8M239.3 395.4h.8M247.0 404.9h.8M233.8 420.6h.8M250.3 408.9h.8M258.5 397.5h.8M247.4 392.5h.8M240.1 407.9h.8M230.5 401.4h.8M242.2 398.6h.8M239.3 388.3h.8M241.1 406.7h.8M246.9 386.0h.8M259.2 399.9h.8M245.6 397.0h.8M243.2 402.7h.8M248.5 404.4h.8M248.5 405.8h.8M255.0 391.4h.8M249.5 397.4h.8M243.8 396.0h.8M253.4 401.5h.8M244.4 389.6h.8M247.1 408.1h.8M249.0 398.1h.8M251.3 392.7h.8M242.7 410.8h.8M244.2 399.1h.8M259.2 389.8h.8M248.4 407.6h.8M234.5 415.0h.8M234.7 400.7h.8M242.4 411.8h.8M240.4 412.0h.8M250.4 409.6h.8M254.1 398.0h.8M235.4 403.2h.8M256.4 393.7h.8M248.5 403.3h.8M238.5 400.3h.8M249.5 407.2h.8M247.6 395.8h.8M258.0 395.8h.8M226.7 406.4h.8M245.6 409.1h.8M248.5 394.1h.8M249.9 388.8h.8M248.4 403.9h.8M249.7 404.5h.8M239.6 395.5h.8M242.2 415.2h.8M259.7 403.2h.8M243.9 403.5h.8M221.6 401.0h.8M260.7 392.2h.8M243.7 393.6h.8M238.5 412.3h.8M252.0 388.0h.8M249.1 414.0h.8M261.3 387.3h.8M240.8 388.9h.8M240.0 391.1h.8M257.7 403.8h.8M246.6 407.0h.8M244.0 405.6h.8M234.3 401.0h.8M252.9 401.4h.8M249.3 392.8h.8M245.5 415.4h.8M246.7 391.9h.8M243.7 405.2h.8M253.8 398.2h.8M243.0 404.1h.8M245.7 410.3h.8M252.8 396.6h.8M243.2 397.8h.8M245.8 402.9h.8M244.5 397.3h.8M233.2 398.1h.8M240.8 405.7h.8M233.3 390.6h.8M226.7 403.3h.8M255.4 397.1h.8M248.6 393.9h.8M259.6 382.7h.8M248.2 404.7h.8M249.4 399.1h.8M240.2 399.8h.8M260.8 404.2h.8M258.1 400.0h.8M252.9 407.5h.8M253.2 398.1h.8M243.1 401.2h.8M240.6 398.5h.8M245.1 397.6h.8M240.8 404.8h.8M254.2 388.7h.8M242.8 395.1h.8M239.2 411.1h.8M237.0 402.2h.8M253.9 402.1h.8M258.0 392.0h.8M243.4 398.3h.8M240.7 395.5h.8M239.1 395.8h.8M261.8 397.9h.8M241.2 385.2h.8M236.1 403.0h.8M270.3 375.6h.8M241.7 408.1h.8M234.0 411.2h.8M237.5 399.4h.8M252.6 408.5h.8M243.7 404.3h.8M258.2 384.7h.8M258.9 394.9h.8M253.2 396.7h.8M262.3 402.2h.8M255.1 392.7h.8M229.4 419.1h.8M255.3 397.0h.8M243.7 411.0h.8M261.0 387.5h.8M270.1 394.5h.8M243.7 398.4h.8M244.1 407.0h.8M262.3 399.7h.8M239.7 390.0h.8M244.1 417.0h.8M240.4 411.3h.8M257.0 398.4h.8M237.5 416.8h.8M231.6 407.4h.8M243.8 411.6h.8M248.9 382.0h.8M251.8 395.5h.8M242.2 402.1h.8M246.3 399.1h.8M248.6 403.5h.8M242.7 403.3h.8M242.4 399.7h.8M238.5 403.2h.8M234.9 411.4h.8M240.8 398.4h.8M249.6 398.5h.8M243.3 397.3h.8M254.6 392.3h.8M248.0 403.8h.8M236.2 407.3h.8M259.5 385.6h.8M253.0 381.2h.8M242.0 410.0h.8M247.8 392.6h.8M238.6 391.1h.8M241.4 401.8h.8M228.5 407.8h.8M236.1 403.8h.8M234.6 402.5h.8M239.2 403.1h.8M251.4 393.7h.8M245.0 405.4h.8M239.4 415.1h.8M262.8 379.9h.8M258.4 384.5h.8M235.6 398.0h.8M255.3 392.7h.8M256.0 405.8h.8M246.7 405.0h.8M231.8 409.9h.8M241.6 395.4h.8M249.6 407.0h.8M236.7 409.5h.8M247.6 391.5h.8M256.7 391.1h.8M225.5 398.2h.8M268.3 391.8h.8M259.2 390.6h.8M258.9 395.2h.8M241.7 406.5h.8M240.9 406.2h.8M251.3 413.0h.8M235.5 404.7h.8M250.8 393.5h.8M248.3 399.0h.8M253.7 399.2h.8M247.8 402.3h.8M249.3 403.3h.8M262.4 399.6h.8M246.1 404.9h.8M247.3 409.8h.8M242.4 406.6h.8M239.7 391.1h.8M243.3 400.3h.8M260.2 409.8h.8M259.6 387.7h.8M242.5 413.5h.8M231.5 402.9h.8M256.0 396.7h.8M256.7 406.6h.8M245.7 403.0h.8M241.9 402.2h.8M242.2 398.0h.8M244.2 397.9h.8M237.7 395.4h.8M259.0 392.3h.8M240.1 397.4h.8M242.8 393.8h.8M224.5 407.2h.8M230.4 408.5h.8M242.1 402.2h.8M253.5 402.4h.8M239.2 404.8h.8M262.7 404.2h.8M237.2 411.0h.8M249.8 399.9h.8M251.5 406.9h.8M253.2 393.9h.8M258.1 401.4h.8M233.3 412.7h.8M249.4 411.1h.8M243.9 393.9h.8M241.5 410.3h.8M254.8 406.2h.8M236.0 393.6h.8M243.6 402.7h.8M233.1 413.6h.8M249.9 401.3h.8M237.8 395.5h.8M243.9 399.8h.8M248.1 422.0h.8M249.4 388.1h.8M249.0 391.5h.8M251.4 396.0h.8M232.4 401.9h.8M248.1 380.9h.8M245.0 414.7h.8M249.1 382.0h.8M250.7 406.8h.8M240.2 408.6h.8M243.1 407.0h.8M259.4 406.0h.8M240.9 395.2h.8M242.1 389.9h.8M251.5 406.0h.8M260.6 397.2h.8M233.5 417.1h.8M250.3 388.4h.8M242.4 392.1h.8M253.8 390.6h.8M250.5 402.3h.8M263.8 401.3h.8M243.2 412.4h.8M259.3 404.5h.8M257.5 407.0h.8M234.5 403.8h.8M258.5 406.5h.8M238.5 406.9h.8M245.8 403.0h.8M250.7 394.3h.8M248.8 393.9h.8M238.4 399.2h.8M241.8 406.2h.8M245.3 410.3h.8M240.6 412.4h.8M240.5 404.7h.8M237.9 400.2h.8M251.7 402.5h.8M248.8 402.4h.8M260.3 399.9h.8M252.3 398.5h.8M251.0 405.0h.8M244.1 393.1h.8M258.1 385.9h.8M257.3 394.9h.8M225.4 399.9h.8M256.8 393.1h.8M239.1 410.7h.8M246.5 405.3h.8M250.3 412.6h.8M236.0 398.9h.8M250.6 398.3h.8M250.7 393.7h.8M246.6 393.5h.8M239.5 403.6h.8M250.5 389.5h.8M256.3 411.2h.8M251.7 409.7h.8M232.4 393.6h.8M239.5 399.1h.8M250.6 385.9h.8M226.1 405.5h.8M256.3 401.9h.8M233.3 396.9h.8M244.6 397.3h.8M251.3 402.9h.8M248.8 395.0h.8M227.1 401.9h.8M251.2 400.3h.8M252.0 388.8h.8M256.3 392.1h.8M254.5 400.0h.8M239.3 408.0h.8M250.2 399.2h.8M240.0 395.0h.8M239.9 409.2h.8M234.1 399.5h.8M250.4 417.0h.8M234.9 397.8h.8M245.8 400.5h.8M243.6 401.0h.8M240.5 401.8h.8M241.3 398.8h.8M250.5 406.1h.8M253.0 400.4h.8M250.7 392.5h.8M254.1 405.0h.8M257.7 401.1h.8M255.9 389.4h.8M243.3 410.4h.8M247.4 387.4h.8M234.0 400.5h.8M239.7 402.1h.8M257.7 411.8h.8M239.5 415.6h.8M257.6 392.4h.8M245.5 400.4h.8M228.5 401.5h.8M244.7 403.4h.8M260.1 403.6h.8M255.4 391.7h.8M235.0 390.3h.8M251.7 385.6h.8M245.4 410.7h.8M243.3 405.8h.8M262.9 386.0h.8M255.7 402.6h.8M247.8 420.9h.8M245.3 409.5h.8M254.0 393.5h.8M259.5 396.1h.8M253.7 390.9h.8M249.8 392.3h.8M240.3 400.9h.8M239.8 397.1h.8M233.3 407.1h.8M249.7 418.1h.8M258.7 378.3h.8M253.5 404.7h.8M251.6 398.8h.8M254.3 398.0h.8M259.1 395.9h.8M258.2 369.9h.8M234.3 414.1h.8M263.5 404.9h.8M244.4 413.4h.8M252.4 400.4h.8M234.6 395.8h.8M241.2 403.7h.8M243.6 415.9h.8M247.9 392.8h.8M248.2 404.9h.8M248.7 396.8h.8M244.1 406.8h.8M239.2 409.8h.8M243.9 385.3h.8M238.9 404.5h.8M247.4 396.4h.8M255.6 387.2h.8M262.9 379.8h.8M261.8 403.0h.8M242.1 402.4h.8M248.8 405.1h.8M250.6 393.7h.8M261.2 410.1h.8M236.1 391.1h.8M253.5 418.8h.8M270.5 410.7h.8M251.8 404.8h.8M249.1 394.9h.8M249.9 386.2h.8M267.4 390.6h.8M256.4 393.9h.8M240.8 399.4h.8M245.5 400.1h.8M250.2 396.9h.8M240.9 395.5h.8M251.4 386.7h.8M252.4 408.0h.8M237.4 412.4h.8M240.2 407.6h.8M239.1 408.8h.8M242.1 401.6h.8M255.9 409.7h.8M255.0 391.6h.8M255.4 400.7h.8M231.7 411.7h.8M269.4 383.3h.8M233.5 396.2h.8M247.8 398.1h.8M266.5 386.9h.8M244.4 404.5h.8M250.5 388.9h.8M253.4 398.0h.8M260.8 400.4h.8M232.7 391.9h.8M235.0 413.1h.8M250.9 396.7h.8M260.6 387.9h.8M259.1 377.2h.8M242.9 416.3h.8M244.0 392.8h.8M239.4 406.6h.8M248.0 404.8h.8M258.2 396.3h.8M269.1 392.1h.8M254.6 385.5h.8M254.9 398.9h.8M242.8 407.3h.8M244.8 406.3h.8M237.3 389.8h.8M251.6 371.6h.8M245.6 398.5h.8M248.6 400.1h.8M243.1 393.2h.8M247.8 379.4h.8M242.1 413.4h.8M254.9 388.7h.8M251.3 411.2h.8M251.7 396.4h.8M229.2 399.6h.8M251.6 394.4h.8M262.4 405.3h.8M241.1 407.2h.8M257.8 397.3h.8M239.2 401.9h.8M242.2 389.3h.8M251.4 403.7h.8M242.1 410.1h.8M237.4 402.9h.8M256.0 402.5h.8M239.1 399.1h.8M247.0 407.7h.8M241.8 405.5h.8M252.2 398.1h.8M234.8 412.9h.8M253.0 396.7h.8M256.6 392.0h.8M253.5 402.5h.8M251.0 405.9h.8M228.6 415.5h.8M254.8 396.0h.8M247.8 399.9h.8M253.6 398.2h.8M235.0 389.4h.8M249.9 399.7h.8M235.0 405.4h.8M258.1 399.7h.8M251.4 395.9h.8M246.7 406.9h.8M240.8 394.2h.8M266.0 370.5h.8M271.8 374.4h.8M266.4 369.4h.8M271.5 370.5h.8M272.2 367.5h.8M266.9 372.6h.8M268.8 370.4h.8M269.0 372.2h.8M273.5 370.2h.8M271.8 372.1h.8M268.6 368.8h.8M272.2 374.0h.8M273.3 371.1h.8M272.2 373.1h.8M269.9 370.3h.8M274.0 370.3h.8M266.8 372.4h.8M274.7 373.5h.8M270.5 369.1h.8M269.2 370.0h.8M271.8 369.8h.8M270.0 370.1h.8M276.0 371.5h.8M271.8 373.0h.8M267.9 372.2h.8M269.2 373.3h.8M270.8 369.2h.8M268.2 366.4h.8M271.1 371.3h.8M271.4 373.1h.8M267.2 371.4h.8M271.3 372.8h.8M272.2 370.1h.8M267.1 372.2h.8M262.4 371.1h.8M276.6 371.7h.8M265.2 371.0h.8M264.3 374.5h.8M272.1 370.0h.8M274.4 371.7h.8M267.2 372.2h.8M274.1 369.4h.8M274.8 367.9h.8M274.5 368.0h.8M270.5 371.7h.8M267.5 371.1h.8M272.2 370.8h.8M267.7 370.6h.8M269.6 370.5h.8M271.7 370.9h.8M273.9 372.6h.8M275.5 371.4h.8M274.9 373.3h.8M266.6 369.8h.8M271.3 368.9h.8M270.1 371.7h.8M260.4 369.2h.8M265.3 370.3h.8M268.9 372.6h.8M267.9 371.9h.8M270.5 370.9h.8M269.4 373.1h.8M275.0 369.8h.8M274.2 369.0h.8M272.8 372.7h.8M262.2 373.8h.8M274.1 370.9h.8M273.9 371.5h.8M265.3 372.3h.8M266.7 370.9h.8M276.7 367.1h.8M270.2 372.0h.8M265.2 370.7h.8M269.6 371.5h.8M266.0 371.1h.8M273.9 372.6h.8M268.4 371.8h.8M274.4 370.7h.8M275.8 367.1h.8M270.6 370.2h.8M267.9 373.6h.8M270.1 374.1h.8M272.0 372.2h.8M274.4 370.9h.8M270.9 370.6h.8M267.5 367.9h.8M269.3 369.6h.8M269.4 371.7h.8M271.1 370.3h.8M274.0 371.7h.8M272.3 371.6h.8M275.1 373.0h.8M273.6 372.8h.8M271.5 371.8h.8M270.4 372.1h.8M269.9 373.2h.8M267.5 372.3h.8M263.7 370.2h.8M265.1 371.4h.8M275.2 371.5h.8M270.7 373.9h.8M271.6 371.0h.8M268.8 367.8h.8M267.9 369.4h.8M264.9 374.2h.8M269.7 368.3h.8M269.2 371.3h.8M267.2 370.7h.8M274.1 370.5h.8M273.3 373.9h.8M272.3 369.7h.8M269.8 368.8h.8M271.4 370.7h.8M271.5 370.5h.8M265.4 372.0h.8M274.6 370.0h.8M267.1 370.0h.8M269.5 371.0h.8M267.9 370.8h.8M270.2 369.5h.8M268.4 369.5h.8M263.6 371.4h.8M270.7 372.3h.8M270.1 371.1h.8M269.9 369.7h.8M273.0 369.6h.8M265.7 370.2h.8M271.2 370.1h.8M267.5 374.6h.8M273.2 371.7h.8M269.3 370.5h.8M267.9 368.9h.8M266.8 371.6h.8M273.5 373.5h.8M266.9 373.2h.8M275.0 370.2h.8M271.7 372.0h.8M264.7 368.0h.8M269.7 370.8h.8M266.2 371.2h.8M274.3 370.4h.8M273.4 369.4h.8M269.6 370.2h.8M268.6 368.4h.8M261.6 373.7h.8M267.1 368.9h.8M277.4 369.0h.8M270.9 374.8h.8M265.1 370.4h.8M265.6 373.4h.8M269.9 373.1h.8M268.5 369.9h.8M274.0 370.5h.8M266.1 368.9h.8M275.6 371.6h.8M279.7 373.5h.8M271.5 372.2h.8M263.0 368.9h.8M273.8 374.6h.8M270.8 370.7h.8M269.1 372.9h.8M265.1 371.5h.8M271.0 370.9h.8M268.9 373.3h.8M269.5 374.2h.8M272.9 371.7h.8M263.7 373.6h.8M268.5 369.6h.8M272.3 370.6h.8M268.7 370.6h.8M274.9 369.4h.8M268.0 372.6h.8M274.8 370.1h.8M275.7 369.6h.8M257.1 371.9h.8M271.0 369.9h.8M273.9 367.5h.8M269.9 370.5h.8M264.3 368.5h.8M268.4 373.4h.8M276.9 371.7h.8M275.6 371.5h.8M264.5 371.3h.8M268.7 369.9h.8M268.9 373.0h.8M270.4 370.7h.8M268.5 372.5h.8M275.7 370.7h.8M272.3 371.7h.8M266.1 371.8h.8M265.1 369.6h.8M271.2 369.2h.8M269.6 371.2h.8M270.4 368.9h.8M270.0 370.2h.8M267.6 370.7h.8M265.7 371.7h.8M276.4 370.3h.8M275.0 372.3h.8M264.7 371.3h.8M268.1 368.6h.8M277.8 369.5h.8M270.5 368.3h.8M269.5 371.6h.8M267.7 373.8h.8M266.9 370.6h.8M269.5 372.1h.8M273.7 373.1h.8M266.5 370.8h.8M272.5 377.4h.8M266.9 372.8h.8M263.5 373.1h.8M269.1 372.3h.8M273.1 372.0h.8M275.3 371.4h.8M267.6 368.4h.8M262.8 369.5h.8M266.0 370.3h.8M268.6 370.0h.8M261.0 373.4h.8M263.4 372.8h.8M267.3 371.4h.8M270.7 372.0h.8M269.2 370.8h.8M274.6 370.2h.8M267.5 370.4h.8M268.5 370.9h.8M273.3 369.2h.8M272.4 370.4h.8M270.8 372.9h.8M273.4 367.3h.8M267.2 370.4h.8M270.4 375.4h.8M264.5 372.4h.8M266.3 371.5h.8M266.2 370.2h.8M272.2 370.1h.8M264.2 374.1h.8M272.0 372.9h.8M270.4 372.9h.8M270.9 372.6h.8M270.1 370.5h.8M269.8 371.3h.8M271.6 368.6h.8M263.6 370.8h.8M276.0 366.7h.8M279.7 369.4h.8M264.6 368.6h.8M270.6 367.8h.8M265.8 372.0h.8M268.7 373.5h.8M263.9 373.2h.8M271.6 368.6h.8M273.2 367.8h.8M263.2 371.2h.8M269.2 371.4h.8M262.3 370.6h.8M265.4 371.9h.8M270.0 367.7h.8M266.3 370.0h.8M271.3 371.4h.8M269.4 373.0h.8M272.1 371.2h.8M268.7 371.2h.8M267.2 370.8h.8M265.2 370.1h.8M274.8 370.7h.8M265.3 370.5h.8M271.9 370.3h.8M269.0 370.8h.8M268.3 368.2h.8M264.3 372.4h.8M272.9 373.3h.8M268.2 373.7h.8M274.1 373.7h.8M269.3 367.5h.8M266.9 370.7h.8M273.3 370.5h.8M276.7 371.7h.8M270.4 370.6h.8M264.6 371.5h.8M271.9 369.3h.8M270.0 372.9h.8M271.6 369.1h.8M266.3 371.4h.8M270.0 374.7h.8M274.1 371.2h.8M276.0 370.2h.8M267.7 373.2h.8M274.3 372.2h.8M266.8 371.0h.8M260.8 371.6h.8M272.9 371.6h.8M276.5 373.4h.8M266.1 370.6h.8M267.5 372.2h.8M262.6 370.5h.8M274.1 367.3h.8M270.5 368.3h.8M270.3 371.8h.8M271.1 369.3h.8M265.3 371.0h.8M268.9 372.8h.8M274.3 369.2h.8M260.6 371.4h.8M273.4 370.4h.8M271.6 368.8h.8M271.1 371.0h.8M269.8 372.0h.8M275.7 368.1h.8M266.8 370.5h.8M265.3 371.9h.8M274.8 371.7h.8M273.3 371.3h.8M265.5 375.0h.8M270.0 372.3h.8M268.7 372.5h.8M278.8 369.8h.8M268.7 372.0h.8M272.5 372.3h.8M265.7 371.5h.8M270.4 370.4h.8M269.3 373.2h.8M264.2 370.6h.8M272.9 369.5h.8M266.1 371.7h.8M268.6 372.0h.8M268.3 371.0h.8M273.3 369.8h.8M269.3 371.8h.8M270.9 370.3h.8M264.7 370.6h.8M268.8 370.6h.8M272.6 368.3h.8M271.5 369.5h.8M266.5 369.3h.8M271.2 372.1h.8M270.1 371.9h.8M266.5 368.4h.8M271.0 369.3h.8M264.8 371.2h.8M268.1 374.1h.8M270.9 371.1h.8M268.2 370.7h.8M265.3 372.8h.8M266.1 371.4h.8M270.8 370.4h.8M270.8 368.2h.8M268.5 372.6h.8M269.6 370.2h.8M269.6 371.5h.8M268.7 374.2h.8M272.8 371.5h.8M267.2 371.4h.8M270.4 369.3h.8M271.9 372.2h.8M264.4 370.3h.8M268.0 372.1h.8M266.1 371.7h.8M268.2 372.7h.8M273.8 370.9h.8M275.7 367.3h.8M272.4 368.3h.8M268.0 372.9h.8M270.7 370.8h.8M270.5 370.6h.8M269.2 371.7h.8M271.2 369.6h.8M271.6 372.3h.8M271.3 373.4h.8M270.7 373.3h.8M273.8 369.6h.8M268.0 372.0h.8M270.5 374.5h.8M269.5 371.6h.8M271.9 373.8h.8M266.7 372.0h.8M275.5 371.3h.8M271.4 371.6h.8M266.4 370.0h.8M269.0 372.6h.8M269.1 370.5h.8M273.3 369.7h.8M274.3 372.5h.8M269.2 369.0h.8M269.6 368.9h.8M265.4 368.8h.8M272.2 371.3h.8M270.9 369.5h.8M271.5 370.5h.8M271.7 371.3h.8M270.4 369.7h.8M269.4 368.3h.8M264.4 368.4h.8M270.0 371.6h.8M268.3 371.6h.8M265.1 369.4h.8M270.0 371.3h.8M271.4 369.9h.8M265.1 370.1h.8M271.4 370.5h.8M270.5 371.3h.8M270.5 371.6h.8M269.3 371.9h.8M264.8 369.9h.8M263.9 370.7h.8M267.4 371.5h.8M270.5 367.7h.8M264.0 370.1h.8M272.6 372.7h.8M269.7 374.3h.8M263.9 372.6h.8M268.9 372.4h.8M274.3 371.0h.8M269.2 370.3h.8M268.7 368.6h.8M266.7 373.4h.8M274.3 371.0h.8M264.4 372.1h.8M273.2 369.2h.8M266.9 374.3h.8M273.5 370.9h.8M272.4 370.4h.8M268.6 371.0h.8M272.3 374.4h.8M270.3 370.7h.8M265.9 371.3h.8M270.5 372.6h.8M273.4 372.1h.8M266.2 372.4h.8M270.4 371.0h.8M275.7 370.4h.8M268.8 372.6h.8M269.2 370.4h.8M272.6 370.8h.8M269.4 373.1h.8M269.7 370.2h.8M270.1 370.2h.8M270.3 367.3h.8M275.1 368.7h.8M268.1 371.0h.8M269.4 373.0h.8M273.5 372.7h.8M268.3 369.9h.8M264.4 369.0h.8M273.6 370.4h.8M268.3 370.8h.8M277.1 370.1h.8M270.3 375.3h.8M265.0 371.5h.8M273.5 371.4h.8M273.8 371.1h.8M268.4 370.4h.8M268.8 370.5h.8M271.9 373.5h.8M267.7 370.6h.8M272.4 371.2h.8M267.9 372.6h.8M264.7 372.1h.8M273.8 374.2h.8M265.8 372.7h.8M265.0 368.8h.8M271.0 370.1h.8M265.5 369.3h.8M271.0 373.5h.8M267.5 370.5h.8M263.1 369.2h.8M268.2 370.7h.8M268.0 370.7h.8M272.7 371.2h.8M274.4 371.6h.8M271.0 372.5h.8M271.2 369.8h.8M268.5 373.2h.8M276.9 370.8h.8M267.4 368.8h.8M272.9 371.9h.8M272.5 369.8h.8M263.7 369.8h.8M272.5 367.0h.8M273.4 368.7h.8M264.0 373.4h.8M274.3 374.0h.8M267.1 370.9h.8M267.0 371.8h.8M272.2 367.9h.8M272.9 370.8h.8M270.9 369.7h.8M266.3 369.5h.8M266.6 370.4h.8M269.3 369.2h.8M269.7 369.7h.8M275.8 370.6h.8M270.0 372.4h.8M268.7 369.4h.8M271.6 366.8h.8M273.8 372.9h.8M264.6 372.6h.8M268.8 372.1h.8M267.9 368.2h.8M272.9 372.8h.8M265.7 371.7h.8M270.8 370.3h.8M271.6 369.4h.8M276.4 370.8h.8M271.3 370.6h.8M263.9 372.4h.8M272.3 371.8h.8M275.1 372.4h.8M268.9 370.7h.8M268.0 373.6h.8M271.3 369.3h.8M262.5 371.5h.8M264.5 370.2h.8M268.4 370.0h.8M267.6 370.7h.8M272.3 373.4h.8M268.4 367.7h.8M270.5 369.4h.8M273.9 369.8h.8M271.4 371.0h.8M272.3 367.7h.8M271.7 372.4h.8M274.6 371.7h.8M268.2 370.4h.8M268.6 369.8h.8M271.1 369.2h.8M268.3 373.4h.8M272.3 372.9h.8M277.1 369.1h.8M273.5 373.7h.8M271.9 372.2h.8M276.9 370.7h.8M267.8 371.1h.8M279.3 370.7h.8M267.1 373.4h.8M268.2 368.3h.8M270.6 372.5h.8M272.7 371.8h.8M271.5 371.1h.8M267.1 370.0h.8M259.8 371.9h.8M268.5 369.8h.8M269.6 370.6h.8M274.7 368.1h.8M268.8 370.9h.8M278.8 366.8h.8M270.9 370.8h.8M267.5 369.0h.8M267.7 370.6h.8M271.6 370.6h.8M266.4 372.2h.8M266.6 370.0h.8M270.7 369.0h.8M271.7 370.2h.8M271.5 372.1h.8M268.4 372.4h.8M269.5 372.8h.8M269.5 372.7h.8M268.1 372.4h.8M269.9 368.9h.8M275.1 374.0h.8M268.5 371.8h.8M270.3 370.2h.8M259.6 369.7h.8M270.0 370.9h.8M273.6 368.6h.8M272.2 370.3h.8M271.6 372.3h.8M274.0 371.4h.8M264.8 372.8h.8M273.5 365.8h.8M266.9 372.0h.8M272.0 373.0h.8M271.2 371.1h.8M273.5 371.3h.8M271.3 370.1h.8M266.0 371.6h.8M275.1 371.8h.8M266.8 369.8h.8M271.2 371.0h.8M270.7 371.2h.8M267.5 370.3h.8M262.4 370.3h.8M271.9 374.2h.8M261.5 371.6h.8M270.3 369.2h.8M265.8 371.5h.8M272.8 371.5h.8M265.1 372.5h.8M262.2 373.4h.8M268.3 371.0h.8M268.0 373.2h.8M266.9 373.0h.8M269.1 372.3h.8M265.5 371.0h.8M274.5 373.6h.8M267.7 370.4h.8M269.0 370.6h.8M263.8 374.0h.8M264.2 376.4h.8M263.8 386.5h.8M261.5 385.6h.8M259.6 383.5h.8M266.6 377.5h.8M257.8 386.5h.8M258.2 387.0h.8M262.6 381.3h.8M256.1 394.1h.8M261.7 375.5h.8M252.9 397.5h.8M256.2 393.9h.8M257.8 391.0h.8M262.7 374.6h.8M254.2 400.4h.8M257.5 389.5h.8M261.3 385.5h.8M265.7 391.8h.8M259.5 385.7h.8M257.6 379.9h.8M266.1 375.6h.8M269.1 374.7h.8M256.9 391.6h.8M263.0 378.1h.8M263.4 387.4h.8M260.7 380.5h.8M259.3 385.3h.8M256.3 379.8h.8M262.1 373.9h.8M263.7 385.6h.8M259.4 403.9h.8M264.8 390.9h.8M258.7 384.6h.8M250.8 400.8h.8M260.2 382.9h.8M254.5 395.4h.8M256.8 391.0h.8M263.8 377.9h.8M256.0 385.9h.8M259.7 379.2h.8M259.0 393.2h.8M260.9 388.2h.8M262.7 383.3h.8M257.4 380.4h.8M262.4 381.4h.8M263.0 387.9h.8M263.6 374.1h.8M256.0 387.7h.8M258.1 387.3h.8M266.3 379.5h.8M266.6 377.6h.8M258.1 382.1h.8M260.0 379.1h.8M263.0 380.5h.8M268.6 374.6h.8M262.2 393.4h.8M255.3 376.6h.8M261.1 381.6h.8M257.6 387.6h.8M260.7 385.7h.8M269.5 377.4h.8M263.7 378.6h.8M254.9 392.6h.8M265.0 388.0h.8M264.0 385.3h.8M260.0 388.4h.8M257.5 390.8h.8M263.5 385.7h.8M260.9 388.5h.8M263.1 377.9h.8M259.7 395.5h.8M257.5 387.9h.8M262.9 382.4h.8M256.5 396.0h.8M255.8 394.8h.8M253.9 393.3h.8M256.2 386.2h.8M260.1 391.3h.8M260.1 378.7h.8M256.5 381.4h.8M259.7 378.8h.8M262.3 393.1h.8M260.2 382.7h.8M257.9 387.0h.8M263.3 385.2h.8M259.2 387.6h.8M266.0 383.8h.8M261.9 382.0h.8M260.8 378.3h.8M258.5 386.3h.8M258.9 389.9h.8M256.4 374.0h.8M255.7 392.3h.8M256.3 396.3h.8M263.7 381.5h.8M260.7 384.3h.8M264.3 380.4h.8M255.6 393.1h.8M253.7 397.8h.8M254.3 386.0h.8M271.4 375.2h.8M259.9 397.2h.8M265.0 374.7h.8M259.2 389.1h.8M256.4 387.1h.8M256.9 383.7h.8M262.0 384.1h.8M261.1 380.4h.8M261.1 383.1h.8M258.4 392.7h.8M254.6 387.2h.8M263.5 384.5h.8M260.8 379.7h.8M266.6 380.9h.8M258.9 382.1h.8M261.8 391.6h.8M261.8 390.6h.8M259.1 387.4h.8M259.5 382.5h.8M262.7 382.4h.8M260.6 385.4h.8M258.3 390.2h.8M261.0 375.7h.8M256.9 376.2h.8M256.0 385.4h.8M259.9 376.0h.8M256.8 391.7h.8M257.2 392.8h.8M262.9 383.7h.8" stroke="#c00808" stroke-opacity="0.6" stroke-width="0.9" fill="none"/>
<rect x="208.8" y="352.5" width="73.0" height="72.60000000000002" fill="none" stroke="#d0d0d0" stroke-width="1"/>
<line x1="258.5" y1="352.5" x2="258.5" y2="425.1" stroke="#858c8a" stroke-width="0.9"/>
<line x1="208.8" y1="381.1" x2="281.8" y2="381.1" stroke="#858c8a" stroke-width="0.9"/>
<text x="211.00" y="359.00" font-size="6.5" font-weight="bold" text-anchor="start" fill="#9a9a9a" >1.879%</text>
<text x="259.80" y="359.00" font-size="6.5" font-weight="bold" text-anchor="start" fill="#000" >27.4...</text>
<text x="210.80" y="423.20" font-size="6.5" font-weight="bold" text-anchor="start" fill="#cc2020" >66.096%</text>
<text x="259.80" y="423.20" font-size="6.5" font-weight="bold" text-anchor="start" fill="#ff10ff" >4.44...</text>
<text x="207.9" y="352.5" font-size="3.4" fill="#444" text-anchor="end">10<tspan font-size="2.2" dy="-1.2">0</tspan></text>
<text x="206.7" y="430.7" font-size="3.4" fill="#444">10<tspan font-size="2.2" dy="-1.2">0</tspan></text>
<line x1="208.60000000000002" y1="425.1" x2="208.60000000000002" y2="426.3" stroke="#aaa" stroke-width="0.6"/>
<text x="207.9" y="364.4" font-size="3.4" fill="#444" text-anchor="end">10<tspan font-size="2.2" dy="-1.2">1</tspan></text>
<text x="218.6" y="430.7" font-size="3.4" fill="#444">10<tspan font-size="2.2" dy="-1.2">1</tspan></text>
<line x1="220.47000000000003" y1="425.1" x2="220.47000000000003" y2="426.3" stroke="#aaa" stroke-width="0.6"/>
<text x="207.9" y="376.2" font-size="3.4" fill="#444" text-anchor="end">10<tspan font-size="2.2" dy="-1.2">2</tspan></text>
<text x="230.4" y="430.7" font-size="3.4" fill="#444">10<tspan font-size="2.2" dy="-1.2">2</tspan></text>
<line x1="232.34000000000003" y1="425.1" x2="232.34000000000003" y2="426.3" stroke="#aaa" stroke-width="0.6"/>
<text x="207.9" y="388.1" font-size="3.4" fill="#444" text-anchor="end">10<tspan font-size="2.2" dy="-1.2">3</tspan></text>
<text x="242.3" y="430.7" font-size="3.4" fill="#444">10<tspan font-size="2.2" dy="-1.2">3</tspan></text>
<line x1="244.21000000000004" y1="425.1" x2="244.21000000000004" y2="426.3" stroke="#aaa" stroke-width="0.6"/>
<text x="207.9" y="399.9" font-size="3.4" fill="#444" text-anchor="end">10<tspan font-size="2.2" dy="-1.2">4</tspan></text>
<text x="254.2" y="430.7" font-size="3.4" fill="#444">10<tspan font-size="2.2" dy="-1.2">4</tspan></text>
<line x1="256.08000000000004" y1="425.1" x2="256.08000000000004" y2="426.3" stroke="#aaa" stroke-width="0.6"/>
<text x="207.9" y="411.8" font-size="3.4" fill="#444" text-anchor="end">10<tspan font-size="2.2" dy="-1.2">5</tspan></text>
<text x="266.1" y="430.7" font-size="3.4" fill="#444">10<tspan font-size="2.2" dy="-1.2">5</tspan></text>
<line x1="267.95000000000005" y1="425.1" x2="267.95000000000005" y2="426.3" stroke="#aaa" stroke-width="0.6"/>
<text x="207.9" y="423.6" font-size="3.4" fill="#444" text-anchor="end">10<tspan font-size="2.2" dy="-1.2">6</tspan></text>
<text x="277.9" y="430.7" font-size="3.4" fill="#444">10<tspan font-size="2.2" dy="-1.2">6</tspan></text>
<line x1="279.82000000000005" y1="425.1" x2="279.82000000000005" y2="426.3" stroke="#aaa" stroke-width="0.6"/>
<text transform="translate(200.5,389.3) rotate(-90)" font-size="5" text-anchor="middle" fill="#111">PI-A</text>
<text x="245.3" y="438.9" font-size="5.05" text-anchor="middle" fill="#111">Annexin V-A</text>
<text x="362.80" y="345.50" font-size="7.1" font-weight="bold" text-anchor="middle" fill="#000" >Y65S</text>
<path d="M366.5 401.2h.8M371.2 393.2h.8M372.3 393.2h.8M372.3 403.1h.8M365.0 405.9h.8M365.5 402.9h.8M362.1 413.6h.8M359.3 409.8h.8M369.9 403.1h.8M368.6 400.1h.8M375.0 397.4h.8M370.3 401.3h.8M364.3 392.6h.8M369.9 403.8h.8M370.7 390.8h.8M369.0 396.6h.8M380.1 396.9h.8M362.8 400.7h.8M376.5 392.5h.8M363.2 408.5h.8M361.4 400.3h.8M363.3 395.1h.8M362.5 407.8h.8M371.4 385.1h.8M367.0 400.7h.8M371.5 399.0h.8M361.8 407.3h.8M375.0 391.1h.8M371.3 391.1h.8M366.8 399.3h.8M372.5 394.3h.8M373.2 396.8h.8M370.6 398.6h.8M371.7 399.5h.8M369.0 397.9h.8M371.1 396.7h.8M382.9 399.2h.8M371.4 396.1h.8M369.0 395.2h.8M365.5 398.5h.8M366.3 392.9h.8M368.8 391.5h.8M357.8 401.6h.8M373.2 394.8h.8M358.2 399.1h.8M374.9 392.8h.8M363.2 395.7h.8M372.8 388.7h.8M365.5 401.2h.8M365.3 401.0h.8M370.4 400.0h.8M369.6 398.6h.8M370.3 393.1h.8M366.0 399.5h.8M373.3 397.3h.8M366.4 400.5h.8M374.0 398.0h.8M356.5 405.7h.8M372.3 390.2h.8M368.5 391.2h.8M375.5 396.2h.8M369.4 405.9h.8M364.3 399.9h.8M362.6 400.8h.8M366.5 393.7h.8M366.6 406.0h.8M369.4 395.7h.8M369.0 399.0h.8M365.4 401.8h.8M362.7 395.6h.8M364.6 392.1h.8M365.6 409.2h.8M368.9 404.2h.8M363.4 408.7h.8M374.1 391.6h.8M375.3 386.9h.8M373.3 393.5h.8M364.4 397.2h.8M370.4 398.0h.8M368.6 397.2h.8M376.6 387.7h.8M366.2 402.1h.8M373.5 391.8h.8M364.7 396.5h.8M363.7 398.6h.8M369.5 396.7h.8M359.0 406.0h.8M372.8 398.1h.8M370.9 397.0h.8M378.1 390.4h.8M364.9 394.5h.8M362.6 402.8h.8M365.6 393.8h.8M373.2 390.3h.8M375.8 393.7h.8M363.4 399.8h.8M373.6 390.9h.8M373.1 394.6h.8M366.6 397.7h.8M371.2 401.5h.8M360.5 403.3h.8M365.1 400.4h.8M376.3 397.8h.8M367.4 400.1h.8M366.7 399.1h.8M377.7 399.2h.8M365.8 402.5h.8M368.5 405.6h.8M371.0 399.1h.8M371.6 398.8h.8M376.4 404.2h.8M371.4 398.3h.8M365.8 399.1h.8M364.7 401.6h.8M370.1 396.6h.8M374.8 398.7h.8M368.9 403.4h.8M374.5 393.8h.8M371.8 395.5h.8M364.3 403.9h.8M372.4 400.7h.8M369.9 407.4h.8M376.7 392.0h.8M367.7 394.1h.8M364.8 395.4h.8M374.6 387.0h.8M374.9 402.5h.8M368.0 392.1h.8M375.2 389.6h.8M369.9 397.7h.8M372.0 390.5h.8M377.8 389.9h.8M366.8 384.3h.8M365.5 404.1h.8M368.2 400.6h.8M375.6 397.3h.8M378.0 399.6h.8M362.4 393.9h.8M370.8 407.2h.8M372.6 400.3h.8M367.6 395.6h.8M382.0 391.7h.8M371.3 397.6h.8M370.3 391.3h.8M363.1 401.5h.8M366.5 393.1h.8M369.9 401.3h.8M369.8 395.9h.8M377.3 397.5h.8M370.5 395.4h.8M361.4 404.1h.8M371.9 389.6h.8M375.0 401.9h.8M367.0 398.5h.8M369.0 405.2h.8M375.6 399.4h.8M366.5 402.9h.8M378.3 389.7h.8M362.3 402.9h.8M359.8 407.5h.8M374.2 396.0h.8M369.8 401.8h.8M373.1 401.2h.8M371.1 396.5h.8M371.1 391.2h.8M365.9 397.2h.8M369.7 396.0h.8M369.7 401.5h.8M368.5 404.3h.8M366.2 397.6h.8M373.7 391.1h.8M366.4 390.0h.8M356.8 399.5h.8M368.7 401.3h.8M376.9 404.9h.8M366.2 396.2h.8M359.3 402.9h.8M371.3 389.8h.8M371.2 396.0h.8M362.8 395.3h.8M373.6 406.1h.8M370.9 395.2h.8M369.3 404.5h.8M368.4 393.0h.8M375.6 397.5h.8M358.8 395.6h.8M373.4 386.4h.8M375.6 393.6h.8M373.3 404.9h.8M365.8 401.8h.8M361.3 400.4h.8M374.1 393.0h.8M360.2 397.4h.8M367.5 404.3h.8M371.0 396.9h.8M369.8 397.5h.8M363.0 399.2h.8M366.9 404.9h.8M359.3 396.2h.8M377.8 393.0h.8M368.8 394.1h.8M367.7 391.5h.8M367.6 395.1h.8M372.5 397.2h.8M376.4 396.9h.8M384.5 396.8h.8M375.6 394.7h.8M364.9 401.9h.8M365.3 401.0h.8M376.5 392.4h.8M362.4 401.3h.8M373.5 389.9h.8M368.1 400.5h.8M365.8 404.3h.8M360.7 394.6h.8M359.9 407.3h.8M364.1 400.7h.8M369.3 397.9h.8M366.7 408.9h.8M371.8 406.5h.8M372.1 397.7h.8M376.3 401.0h.8M371.5 402.8h.8M345.7 399.1h.8M354.3 413.6h.8M359.9 386.5h.8M357.9 384.7h.8M365.6 397.6h.8M353.4 408.3h.8M365.6 410.6h.8M352.2 410.3h.8M354.7 395.5h.8M373.0 389.2h.8M361.3 391.8h.8M373.1 398.6h.8M369.3 394.1h.8M379.6 398.7h.8M356.3 410.6h.8M375.8 405.2h.8M360.6 397.8h.8M373.1 386.1h.8M349.6 409.6h.8M347.9 417.0h.8M374.9 402.9h.8M370.5 398.2h.8M367.8 385.0h.8M373.0 394.1h.8M361.9 384.0h.8M363.1 400.3h.8M365.9 393.1h.8M389.6 390.8h.8M372.7 397.3h.8M363.3 412.7h.8M365.7 399.4h.8M369.4 404.4h.8M361.0 399.6h.8M365.9 402.8h.8M363.4 403.6h.8M358.9 408.0h.8M361.3 404.1h.8M366.2 389.6h.8M370.7 399.5h.8M358.2 405.9h.8M368.0 392.1h.8M359.0 407.0h.8M373.9 398.3h.8M376.3 389.8h.8M366.6 397.1h.8M379.4 395.1h.8M349.4 402.7h.8M369.3 401.9h.8M350.0 410.9h.8M373.3 391.7h.8M354.0 411.7h.8M373.9 408.4h.8M370.6 373.4h.8M364.8 407.8h.8M378.7 391.3h.8M367.8 399.3h.8M370.1 390.5h.8M373.0 392.4h.8M376.7 404.6h.8M355.2 394.5h.8M371.2 407.7h.8M370.4 405.1h.8M370.6 401.2h.8M377.0 395.6h.8M382.4 395.2h.8M366.7 377.7h.8M362.7 400.7h.8M368.3 400.8h.8M362.9 393.5h.8M367.3 401.1h.8M373.4 410.9h.8M372.2 393.5h.8M361.1 399.5h.8M372.2 387.3h.8M358.7 403.7h.8M359.4 398.5h.8M360.8 397.7h.8M373.1 393.0h.8M373.8 405.5h.8M380.2 389.7h.8M362.9 415.3h.8M366.2 392.2h.8M371.7 396.2h.8M367.4 400.9h.8M357.8 396.8h.8M368.5 384.6h.8M375.4 388.6h.8M377.2 412.4h.8M363.6 401.6h.8M354.0 403.8h.8M369.5 405.0h.8M363.8 405.2h.8M363.3 389.7h.8M365.1 394.1h.8M361.8 401.9h.8M355.5 393.9h.8M356.4 400.3h.8M370.7 381.0h.8M376.6 399.3h.8M356.6 397.0h.8M365.9 398.1h.8M372.6 382.8h.8M376.3 380.3h.8M380.7 376.6h.8M369.3 387.9h.8M378.1 398.2h.8M370.5 396.9h.8M366.4 407.4h.8M359.8 399.8h.8M370.5 387.0h.8M370.1 394.9h.8M372.9 402.7h.8M376.4 406.0h.8M357.9 402.5h.8M347.4 389.8h.8M359.9 409.1h.8M356.2 392.5h.8M376.6 372.8h.8M390.5 375.5h.8M390.3 370.1h.8M385.9 370.0h.8M385.7 373.2h.8M383.5 369.6h.8M383.2 373.8h.8M379.3 371.5h.8M380.2 375.1h.8M385.3 370.8h.8M386.8 374.5h.8M393.5 369.0h.8M393.8 376.2h.8M388.9 375.1h.8M388.0 372.9h.8M388.3 371.5h.8M383.3 373.4h.8M388.1 368.8h.8M387.8 370.8h.8M392.3 375.1h.8M395.0 371.5h.8M386.5 375.9h.8M392.2 373.2h.8M387.8 369.5h.8M386.5 373.0h.8M396.2 370.2h.8M391.5 371.4h.8M390.1 378.5h.8M393.5 372.6h.8M393.3 370.5h.8M394.0 371.5h.8M392.4 373.2h.8M388.2 370.1h.8M379.5 370.0h.8M388.1 378.6h.8M393.4 375.8h.8M382.3 374.0h.8M388.9 371.0h.8M382.8 371.0h.8M384.0 371.4h.8M386.5 369.8h.8M391.3 369.8h.8M393.2 372.7h.8M390.4 372.9h.8M382.9 372.7h.8M389.3 375.3h.8M384.4 375.5h.8M390.8 374.2h.8M397.1 375.5h.8M387.4 374.1h.8M391.5 372.5h.8M393.0 373.8h.8M396.5 374.6h.8M387.1 378.2h.8M389.7 372.2h.8M388.5 372.7h.8M389.8 369.4h.8M395.0 370.5h.8M390.7 369.1h.8M395.4 371.3h.8M385.7 372.3h.8M386.2 375.4h.8M385.5 371.6h.8M391.2 367.3h.8M393.1 373.5h.8M395.3 375.8h.8M382.1 372.0h.8M384.5 369.0h.8M394.8 371.1h.8M389.4 372.0h.8M394.3 377.5h.8M388.1 373.4h.8M386.1 373.2h.8M390.6 370.9h.8M398.2 375.9h.8M393.9 367.6h.8M393.3 367.8h.8M379.4 374.3h.8M382.6 377.0h.8M386.7 374.3h.8M393.2 372.0h.8M392.6 372.4h.8M393.3 375.7h.8M385.6 372.5h.8M398.2 373.7h.8M385.0 372.7h.8M396.0 373.2h.8M383.7 367.7h.8M386.2 367.8h.8M389.5 377.3h.8M389.1 373.8h.8M391.1 372.4h.8M377.8 377.0h.8M391.0 371.3h.8M389.9 378.5h.8M388.7 375.6h.8M391.1 368.9h.8M382.7 372.8h.8M393.3 370.3h.8M392.8 370.6h.8M397.6 375.2h.8M387.8 375.3h.8M391.3 373.3h.8M388.9 375.8h.8M385.4 373.8h.8M392.6 369.0h.8M393.4 370.5h.8M392.0 368.9h.8M381.1 373.9h.8M396.4 372.6h.8M383.9 370.2h.8M386.3 372.0h.8M383.9 376.7h.8M388.1 374.6h.8M389.4 371.5h.8M395.5 372.9h.8M389.8 371.4h.8M389.8 372.0h.8M394.7 370.7h.8M383.7 372.3h.8M382.2 369.9h.8M396.4 372.3h.8M385.4 371.0h.8M386.5 375.3h.8M384.0 372.6h.8M389.4 368.0h.8M389.4 373.3h.8M382.1 369.6h.8M393.6 369.5h.8M384.4 366.0h.8M395.4 377.7h.8M385.9 369.2h.8M390.0 374.8h.8M386.7 372.1h.8M393.7 374.4h.8M389.7 374.7h.8M387.4 371.4h.8M382.1 371.7h.8M387.2 371.0h.8M390.6 371.7h.8M392.9 372.9h.8M383.3 378.0h.8M382.2 372.6h.8M382.2 374.2h.8M380.2 369.8h.8M381.9 371.5h.8M383.6 371.7h.8M384.8 372.1h.8M390.7 372.5h.8M393.1 371.7h.8M388.2 370.4h.8M397.2 372.7h.8M391.4 374.8h.8M392.3 374.0h.8M394.0 372.9h.8M389.1 373.7h.8M394.2 371.8h.8M393.7 371.7h.8M387.0 380.8h.8M389.5 374.4h.8M389.2 375.6h.8M387.4 375.5h.8M388.2 379.1h.8M382.2 368.4h.8M388.0 372.8h.8M391.7 370.4h.8M388.5 367.7h.8M385.9 374.9h.8M387.6 371.8h.8M389.4 371.3h.8M383.8 374.3h.8M379.4 372.3h.8M382.1 371.5h.8M390.1 369.6h.8M386.8 372.6h.8M386.7 376.8h.8M389.8 373.5h.8M384.9 372.7h.8M392.3 373.3h.8M387.1 374.8h.8M385.2 371.0h.8M387.5 376.0h.8M391.9 373.3h.8M392.6 372.7h.8M380.8 373.6h.8M394.4 373.1h.8M388.6 375.6h.8M396.2 369.5h.8M389.5 368.3h.8M383.4 367.5h.8M393.3 368.2h.8M392.9 374.4h.8M386.6 375.2h.8M386.0 367.3h.8M387.6 367.7h.8M391.9 371.3h.8M392.3 373.6h.8M393.9 376.9h.8M386.7 375.9h.8M385.8 375.2h.8M390.1 377.8h.8M394.8 373.4h.8M389.4 371.9h.8M387.7 370.6h.8M385.3 375.0h.8M389.1 374.5h.8M394.3 367.3h.8M392.3 371.7h.8M376.9 372.9h.8M384.5 375.2h.8M378.9 373.6h.8M386.1 372.3h.8M393.6 369.5h.8M393.7 376.1h.8M388.0 372.2h.8M389.3 371.0h.8M389.6 372.4h.8M386.4 375.2h.8M397.7 372.5h.8M382.4 370.3h.8M390.7 372.9h.8M384.1 374.5h.8M390.7 373.8h.8M384.3 374.0h.8M380.2 374.4h.8M394.5 370.0h.8M390.1 371.9h.8M386.4 373.7h.8M381.0 375.4h.8M381.9 371.1h.8M391.7 374.2h.8M389.1 374.3h.8M388.1 371.0h.8M378.9 403.2h.8M380.8 375.0h.8M381.8 389.3h.8M373.6 385.6h.8M375.8 394.4h.8M376.9 398.1h.8M379.7 397.3h.8M374.4 394.4h.8M377.0 396.6h.8M380.9 377.8h.8M381.9 386.2h.8M372.5 391.9h.8M376.7 393.8h.8M385.4 381.1h.8M376.2 380.5h.8M380.6 395.5h.8M385.2 384.6h.8M374.1 395.3h.8M373.2 403.8h.8M368.6 386.5h.8M374.7 392.3h.8M370.7 389.2h.8M381.8 399.5h.8M361.5 398.7h.8M378.8 393.4h.8M384.5 363.5h.8M385.1 389.7h.8M382.2 382.1h.8M380.7 388.4h.8M383.8 386.5h.8M370.7 393.9h.8M372.8 396.0h.8M384.5 387.9h.8M381.2 390.0h.8M379.3 395.4h.8M376.6 382.8h.8M380.3 394.9h.8M377.3 390.9h.8M376.5 395.1h.8M384.1 378.1h.8M380.8 393.5h.8M378.5 380.3h.8M376.3 390.4h.8M383.1 389.3h.8M385.5 394.3h.8M385.3 393.3h.8M386.6 400.6h.8M378.7 388.6h.8M373.3 398.1h.8M381.4 385.4h.8M372.3 389.5h.8M377.1 390.2h.8M379.9 388.8h.8M384.1 388.8h.8M377.0 392.3h.8M383.2 390.9h.8M382.1 396.8h.8M380.1 388.0h.8M373.3 404.5h.8M377.9 403.3h.8M374.6 383.5h.8M374.5 392.8h.8M374.0 380.8h.8M376.2 398.4h.8M380.7 389.7h.8M378.8 391.0h.8M376.6 392.6h.8M389.4 369.9h.8M378.0 392.3h.8M369.0 399.3h.8" stroke="#c00808" stroke-opacity="0.42" stroke-width="0.9" fill="none"/>
<rect x="326.9" y="353.0" width="72.60000000000002" height="72.30000000000001" fill="none" stroke="#d0d0d0" stroke-width="1"/>
<line x1="376.5" y1="353.0" x2="376.5" y2="425.3" stroke="#858c8a" stroke-width="0.9"/>
<line x1="326.9" y1="381.3" x2="399.5" y2="381.3" stroke="#858c8a" stroke-width="0.9"/>
<text x="329.10" y="359.50" font-size="6.5" font-weight="bold" text-anchor="start" fill="#9a9a9a" >4.295%</text>
<text x="377.80" y="359.50" font-size="6.5" font-weight="bold" text-anchor="start" fill="#000" >45.0...</text>
<text x="328.90" y="423.40" font-size="6.5" font-weight="bold" text-anchor="start" fill="#cc2020" >38.936%</text>
<text x="377.80" y="423.40" font-size="6.5" font-weight="bold" text-anchor="start" fill="#ff10ff" >11.7...</text>
<text x="326.0" y="353.0" font-size="3.4" fill="#444" text-anchor="end">10<tspan font-size="2.2" dy="-1.2">0</tspan></text>
<text x="324.8" y="430.9" font-size="3.4" fill="#444">10<tspan font-size="2.2" dy="-1.2">0</tspan></text>
<line x1="326.7" y1="425.3" x2="326.7" y2="426.5" stroke="#aaa" stroke-width="0.6"/>
<text x="326.0" y="364.9" font-size="3.4" fill="#444" text-anchor="end">10<tspan font-size="2.2" dy="-1.2">1</tspan></text>
<text x="336.7" y="430.9" font-size="3.4" fill="#444">10<tspan font-size="2.2" dy="-1.2">1</tspan></text>
<line x1="338.57" y1="425.3" x2="338.57" y2="426.5" stroke="#aaa" stroke-width="0.6"/>
<text x="326.0" y="376.7" font-size="3.4" fill="#444" text-anchor="end">10<tspan font-size="2.2" dy="-1.2">2</tspan></text>
<text x="348.5" y="430.9" font-size="3.4" fill="#444">10<tspan font-size="2.2" dy="-1.2">2</tspan></text>
<line x1="350.44" y1="425.3" x2="350.44" y2="426.5" stroke="#aaa" stroke-width="0.6"/>
<text x="326.0" y="388.6" font-size="3.4" fill="#444" text-anchor="end">10<tspan font-size="2.2" dy="-1.2">3</tspan></text>
<text x="360.4" y="430.9" font-size="3.4" fill="#444">10<tspan font-size="2.2" dy="-1.2">3</tspan></text>
<line x1="362.31" y1="425.3" x2="362.31" y2="426.5" stroke="#aaa" stroke-width="0.6"/>
<text x="326.0" y="400.4" font-size="3.4" fill="#444" text-anchor="end">10<tspan font-size="2.2" dy="-1.2">4</tspan></text>
<text x="372.3" y="430.9" font-size="3.4" fill="#444">10<tspan font-size="2.2" dy="-1.2">4</tspan></text>
<line x1="374.18" y1="425.3" x2="374.18" y2="426.5" stroke="#aaa" stroke-width="0.6"/>
<text x="326.0" y="412.2" font-size="3.4" fill="#444" text-anchor="end">10<tspan font-size="2.2" dy="-1.2">5</tspan></text>
<text x="384.1" y="430.9" font-size="3.4" fill="#444">10<tspan font-size="2.2" dy="-1.2">5</tspan></text>
<line x1="386.04999999999995" y1="425.3" x2="386.04999999999995" y2="426.5" stroke="#aaa" stroke-width="0.6"/>
<text x="326.0" y="424.1" font-size="3.4" fill="#444" text-anchor="end">10<tspan font-size="2.2" dy="-1.2">6</tspan></text>
<text x="396.0" y="430.9" font-size="3.4" fill="#444">10<tspan font-size="2.2" dy="-1.2">6</tspan></text>
<line x1="397.91999999999996" y1="425.3" x2="397.91999999999996" y2="426.5" stroke="#aaa" stroke-width="0.6"/>
<text transform="translate(318.59999999999997,389.6) rotate(-90)" font-size="5" text-anchor="middle" fill="#111">PI-A</text>
<text x="363.2" y="439.1" font-size="5.05" text-anchor="middle" fill="#111">Annexin V-A</text>
</svg>
</body></html>
